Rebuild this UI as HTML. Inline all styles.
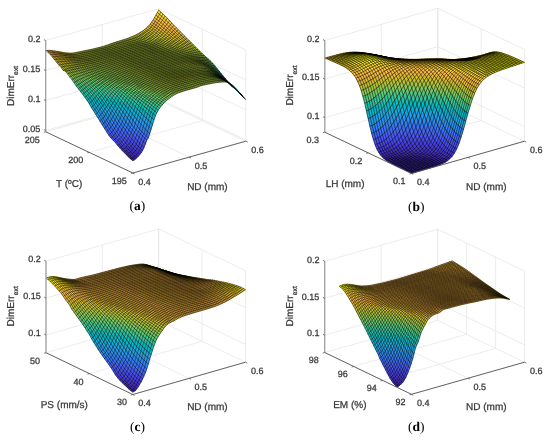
<!DOCTYPE html>
<html><head><meta charset="utf-8"><style>
html,body{margin:0;padding:0;background:#fff;width:550px;height:441px;overflow:hidden}
svg{display:block}
text{font-family:"Liberation Sans",Arial,sans-serif;text-rendering:geometricPrecision}
.cap{font-family:"Liberation Serif","Times New Roman",serif;fill:#000}
</style></head><body>
<svg xmlns="http://www.w3.org/2000/svg" width="550" height="441" viewBox="0 0 550 441">
<defs><filter id="bl" x="0" y="0" width="1" height="1"><feGaussianBlur stdDeviation="0.3"/></filter></defs>
<g filter="url(#bl)">
<g fill="none"><path d="M132.8 173L45.7 131.8" stroke="#e4e4e4" stroke-width="0.7"/>
<path d="M45.7 131.8L45.7 40.5" stroke="#e4e4e4" stroke-width="0.7"/>
<path d="M189.3 157.1L102.2 115.9" stroke="#e4e4e4" stroke-width="0.7"/>
<path d="M102.2 115.9L102.2 24.6" stroke="#e4e4e4" stroke-width="0.7"/>
<path d="M245.8 141.2L158.7 100" stroke="#e4e4e4" stroke-width="0.7"/>
<path d="M158.7 100L158.7 8.7" stroke="#e4e4e4" stroke-width="0.7"/>
<path d="M132.8 173L245.8 141.2" stroke="#e4e4e4" stroke-width="0.7"/>
<path d="M245.8 141.2L245.8 49.9" stroke="#e4e4e4" stroke-width="0.7"/>
<path d="M89.3 152.4L202.2 120.6" stroke="#e4e4e4" stroke-width="0.7"/>
<path d="M202.2 120.6L202.2 29.3" stroke="#e4e4e4" stroke-width="0.7"/>
<path d="M45.7 131.8L158.7 100" stroke="#e4e4e4" stroke-width="0.7"/>
<path d="M158.7 100L158.7 8.7" stroke="#e4e4e4" stroke-width="0.7"/>
<path d="M45.7 130.5L158.7 98.7" stroke="#e4e4e4" stroke-width="0.7"/>
<path d="M158.7 98.7L245.8 139.9" stroke="#e4e4e4" stroke-width="0.7"/>
<path d="M45.7 100.5L158.7 68.7" stroke="#e4e4e4" stroke-width="0.7"/>
<path d="M158.7 68.7L245.8 109.9" stroke="#e4e4e4" stroke-width="0.7"/>
<path d="M45.7 70.5L158.7 38.7" stroke="#e4e4e4" stroke-width="0.7"/>
<path d="M158.7 38.7L245.8 79.9" stroke="#e4e4e4" stroke-width="0.7"/>
<path d="M45.7 40.5L158.7 8.7" stroke="#e4e4e4" stroke-width="0.7"/>
<path d="M158.7 8.7L245.8 49.9" stroke="#e4e4e4" stroke-width="0.7"/></g>
<g stroke="#000" stroke-width="0.5" stroke-opacity="1" stroke-linejoin="round"><path fill="#64cd70" d="M230.3 83.6l1.4 1.1-2.2-1.6-1.4-1z"/><path fill="#57cc7a" d="M231.7 84.7l1.4 1.1-2.2-1.6-1.4-1.1z"/><path fill="#64cd70" d="M229.5 83.1l1.4 1.1-2.2-1.4-1.4-1.1z"/><path fill="#4acb84" d="M233.1 85.8l1.4 1.3-2.2-1.7-1.4-1.2z"/><path fill="#4acb84" d="M230.9 84.2l1.4 1.2-2.2-1.5-1.4-1.1z"/><path fill="#40ca8e" d="M234.5 87.1l1.4 1.4-2.2-1.7-1.4-1.4z"/><path fill="#40ca8e" d="M232.3 85.4l1.4 1.4-2.1-1.6-1.5-1.3z"/><path fill="#40ca8e" d="M230.1 83.9l1.5 1.3-2.2-1.6-1.4-1.2z"/><path fill="#31c69f" d="M235.9 88.5l1.4 1.5-2.2-1.8-1.4-1.4z"/><path fill="#38c897" d="M233.7 86.8l1.4 1.4-2.1-1.7-1.4-1.3z"/><path fill="#38c897" d="M231.6 85.2l1.4 1.3-2.2-1.7-1.4-1.2z"/><path fill="#23c1ae" d="M237.3 90l1.4 1.6-2.1-1.8-1.5-1.6z"/><path fill="#2bc4a7" d="M235.1 88.2l1.5 1.6-2.2-1.9-1.4-1.4z"/><path fill="#31c69f" d="M233 86.5l1.4 1.4-2.2-1.7-1.4-1.4z"/><path fill="#18bfb6" d="M238.7 91.6l1.5 1.6-2.2-1.9-1.4-1.5z"/><path fill="#23c1ae" d="M236.6 89.8l1.4 1.5-2.2-1.9-1.4-1.5z"/><path fill="#23c1ae" d="M234.4 87.9l1.4 1.5-2.2-1.9-1.4-1.3z"/><path fill="#2bc4a7" d="M232.2 86.2l1.4 1.3-2.2-1.8-1.4-1.3z"/><path fill="#05bac3" d="M240.2 93.2l1.4 1.7-2.2-2-1.4-1.6z"/><path fill="#0ebdbc" d="M238 91.3l1.4 1.6-2.2-2-1.4-1.5z"/><path fill="#18bfb6" d="M235.8 89.4l1.4 1.5-2.2-2-1.4-1.4z"/><path fill="#18bfb6" d="M233.6 87.5l1.4 1.4-2.1-1.9-1.5-1.3z"/><path fill="#23c1ae" d="M231.4 85.7l1.5 1.3-2.2-2-1.4-1.2z"/><path fill="#03b8ca" d="M241.6 94.9l1.4 1.6-2.2-2-1.4-1.6z"/><path fill="#03b8ca" d="M239.4 92.9l1.4 1.6-2.2-2.1-1.4-1.5z"/><path fill="#05bac3" d="M237.2 90.9l1.4 1.5-2.2-2.1-1.4-1.4z"/><path fill="#18bfb6" d="M232.9 87l1.4 1.3-2.2-2.1-1.4-1.2z"/><path fill="#10b1d6" d="M243 96.5l1.4 1.6-2.2-2-1.4-1.6z"/><path fill="#09b5d0" d="M240.8 94.5l1.4 1.6-2.2-2.2-1.4-1.5z"/><path fill="#03b8ca" d="M238.6 92.4l1.4 1.5-2.1-2.2-1.5-1.4z"/><path fill="#03b8ca" d="M236.4 90.3l1.5 1.4-2.2-2.1-1.4-1.3z"/><path fill="#1ca9df" d="M244.4 98.1l1.4 1.6-2.2-2.2-1.4-1.4z"/><path fill="#17addb" d="M242.2 96.1l1.4 1.4-2.2-2.2-1.4-1.4z"/><path fill="#10b1d6" d="M240 93.9l1.4 1.4-2.1-2.2-1.4-1.4z"/></g>
<g stroke-width="0.5" stroke-linejoin="round"><path fill="#3e26a8" stroke="#3e26a8" d="M137 157.7l-2.1-1.7-1.5 1.2-2.1-2.1-2.9 1.8 4.4 3.8 1.4-.7z"/>
<path fill="#402ab4" stroke="#402ab4" d="M137 157.7l1.5-1.6-2.2-1.7-1.4 1.6-2.2-2.1-1.4 1.2 2.1 2.1 1.5-1.2zM129.1 152.9l-2.8 1.7 2.1 2.3 2.9-1.8z"/>
<path fill="#412fbf" stroke="#412fbf" d="M129.1 152.9l2.2 2.2 1.4-1.2 2.2 2.1 1.4-1.6 2.2 1.7 1.4-1.6-2.2-1.7-1.4 1.6-4.4-4.1zM129.1 152.9l-2.2-2.2-2.8 1.7 2.2 2.2z"/>
<path fill="#4333ca" stroke="#4333ca" d="M133.3 148.6l-1.4 1.7-2.2-2.3-2.8 2.7-2.2-2.4-2.8 1.9 2.2 2.2 2.8-1.7 2.2 2.2 2.8-2.6 4.4 4.1 1.4-1.6 2.2 1.7 1.4-2-2.2-1.7-1.4 2z"/>
<path fill="#4537d5" stroke="#4537d5" d="M135.5 150.8l2.2 2 1.4-2-4.4-4.3-1.4 2.1-2.1-2.4-1.5 1.8 2.2 2.3 1.4-1.7zM140.5 148.5l-1.4 2.3 2.2 1.7 1.4-2.2zM127.6 145.5l-2.9 2.8 2.2 2.4 2.8-2.7zM122.6 145.9l-2.9 1.9 2.2 2.4 2.8-1.9z"/>
<path fill="#463cdc" stroke="#463cdc" d="M124 144.5l-1.4 1.4 2.1 2.4 1.5-1.3zM121.1 147l1.5-1.1-2.2-2.7-2.8 2.1 2.1 2.5zM133.3 148.6l1.4-2.1-2.1-2.4-1.4 2.1-2.2-2.6-1.4 1.9 2.1 2.5 1.5-1.8zM139.1 150.8l1.4-2.3-2.2-2-1.4 2.2z"/>
<path fill="#4642e3" stroke="#4642e3" d="M139.7 143.2l-1.4 3.3-2.1-2.5-1.5 2.5 2.2 2.2 1.4-2.2 4.4 3.8 1.4-2.9zM131.2 146.2l1.4-2.1-2.2-2.8-1.4 2.3-2.2-2.9-2.8 3.8-2.2-2.8-1.4 1.5 2.2 2.7 1.4-1.4 2.2 2.5 2.8-3.4zM117.6 145.3l1.4-.9-2.2-2.8-1.4 1z"/>
<path fill="#4747ea" stroke="#4747ea" d="M138.3 146.5l1.4-3.3-2.1-2.3-1.4 3.1-2.2-2.7-1.4 2.8 2.1 2.4 1.5-2.5zM121.8 141.7l2.2 2.8 1.4-1.7-2.2-2.9zM121.8 141.7l-2.2-2.7-2.8 2.6 2.2 2.8z"/>
<path fill="#474df0" stroke="#474df0" d="M118.2 140.4l-2.2-2.2-2.8 2.2 2.2 2.2zM141.9 145.4l2.2 2 1.4-3.6-2.2-2zM134 141.3l2.2 2.7 1.4-3.1-2.2-2.5zM134 141.3l-2.2-2.5-1.4 2.5 2.2 2.8zM121 137.5l-1.4 1.5 2.2 2.7 1.4-1.8zM130.4 141.3l-2.2-2.7-1.4 2.1 2.2 2.9zM126.8 140.7l-2.2-2.6-1.4 1.8 2.2 2.9z"/>
<path fill="#4752f3" stroke="#4752f3" d="M117.4 136.8l-1.4 1.4-2.2-2.7-2.8 2.6 2.2 2.3 2.8-2.2 2.2 2.2 1.4-1.4zM123.2 139.9l1.4-1.8-2.2-2.5-1.4 1.9zM129.6 136.1l-1.4 2.5-2.2-2.6-1.4 2.1 2.2 2.6 1.4-2.1 2.2 2.7 1.4-2.5zM141.2 139.6l-1.5 3.6 2.2 2.2 1.4-3.6z"/>
<path fill="#4658f6" stroke="#4658f6" d="M110.3 133.9l-1.5 1.3 2.2 2.9 2.8-2.6-2.1-3.1zM113.8 135.5l2.2 2.7 1.4-1.4-2.1-3.1zM139 137.3l-1.4 3.6 2.1 2.3 1.5-3.6zM131.8 138.8l2.2 2.5 1.4-2.9-2.2-2.7zM143.3 141.8l2.2 2 1.4-3.9-2.2-2zM117.4 136.8l2.2 2.2 1.4-1.5-2.1-2.7z"/>
<path fill="#465efa" stroke="#465efa" d="M110.3 133.9l-2.2-3.3-1.4 1.3 2.1 3.3zM115.3 133.7l-2.2-3.2-1.4 1.9 2.1 3.1zM115.3 133.7l2.1 3.1 1.5-2-2.2-3.1zM141.2 139.6l2.1 2.2 1.4-3.9-2.1-2zM135.4 138.4l2.2 2.5 1.4-3.6-2.2-2.6zM127.4 133.1l-1.4 2.9 2.2 2.6 1.4-2.5 2.2 2.7 1.4-3.1-2.2-2.9-1.4 3.3zM123.9 133l-1.5 2.6-2.1-3.1-1.4 2.3 2.1 2.7 1.4-1.9 2.2 2.5 1.4-2.1z"/>
<path fill="#4563fd" stroke="#4563fd" d="M115.3 133.7l1.4-2 2.2 3.1 1.4-2.3-2.2-3.3-1.4 2.5-2.2-3.4-1.4 2.2zM123.9 133l2.1 3 1.4-2.9 2.2 3 1.4-3.3-2.1-3-1.5 3.3-2.1-3.1zM123.9 133l-2.2-3.2-1.4 2.7 2.1 3.1zM135.4 138.4l1.4-3.7-2.2-2.7-1.4 3.7zM111.7 132.4l-2.2-3.4-1.4 1.6 2.2 3.3zM142.6 135.9l-2.2-2.1-1.4 3.5 2.2 2.3z"/>
<path fill="#4169fd" stroke="#4169fd" d="M119.5 126.6l-1.4 2.6 2.2 3.3 1.4-2.7zM110.9 127.1l-1.4 1.9 2.2 3.4 1.4-1.9zM133.2 135.7l1.4-3.7-2.2-2.4-1.4 3.2zM144.7 137.9l2.2 2 1.4-2-2.1-2zM108.1 130.6l-2.2-3.5-1.4 1.4 2.2 3.4zM140.4 133.8l-2.2-2-1.4 2.9 2.2 2.6z"/>
<path fill="#3d6ffe" stroke="#3d6ffe" d="M128.9 129.8l-2.2-2.6-1.4 2.8-2.2-3.1-1.4 2.9 2.2 3.2 1.4-3 2.1 3.1zM118.1 129.2l-2.2-3.2-1.4 2.3-2.2-3.2-1.4 2 2.2 3.4 1.4-2.2 2.2 3.4zM107.3 125.5l-1.4 1.6 2.2 3.5 1.4-1.6zM144 133.9l-1.4 2 2.1 2 1.5-2z"/>
<path fill="#3875fe" stroke="#3875fe" d="M141.8 131.8l-1.4 2 2.2 2.1 1.4-2 4.3 4 1.5-4.2-4.4-4.5-1.4 4.7zM134.6 132l2.2 2.7 1.4-2.9-2.2-2.1zM102.3 125l2.2 3.5 1.4-1.4-2.2-3.6zM123.1 126.9l-2.2-2.4-1.4 2.1-2.2-2.8-1.4 2.2 2.2 3.2 1.4-2.6 2.2 3.2zM109.5 129l1.4-1.9-2.2-3.5-1.4 1.9zM128.9 129.8l2.1 3 1.4-3.2-2.1-2.2z"/>
<path fill="#337cfc" stroke="#337cfc" d="M108.7 123.6l2.2 3.5 1.4-2-2.2-3.7zM136 129.7l-2.1-2.1-1.5 2 2.2 2.4zM125.3 130l1.4-2.8-2.2-2.3-1.4 2zM115.9 126l-2.2-3.3-1.4 2.4 2.2 3.2zM107.3 125.5l-2.2-3.7-1.4 1.7 2.2 3.6zM126.7 127.2l2.2 2.6 1.4-2.4-2.2-2.3zM141.8 131.8l-2.2-2.4-1.4 2.4 2.2 2zM141.8 131.8l2.2 2.1 1.4-4.7-2.2-2.5z"/>
<path fill="#3081fa" stroke="#3081fa" d="M132.4 129.6l1.5-2-2.2-3.2-1.4 3zM141.8 131.8l1.4-5.1-2.2-2.5-1.4 5.2-2.1-3.1-1.5 3.4 2.2 2.1 1.4-2.4zM112.3 125.1l1.4-2.4-2.1-3.6-1.5 2.3zM113.7 122.7l2.2 3.3 1.4-2.2-2.2-3.6zM101.6 119.9l-1.5 1.5 2.2 3.6 1.4-1.5zM108.7 123.6l-2.1-3.7-1.5 1.9 2.2 3.7zM117.3 123.8l2.2 2.8 1.4-2.1 2.2 2.4 1.4-2-2.2-3.4-1.4 3-2.2-3.5z"/>
<path fill="#2e87f7" stroke="#2e87f7" d="M103 118.2l-1.4 1.7 2.1 3.6 1.4-1.7zM125.9 121.5l-1.4 3.4 2.2 2.3 1.4-2.1 2.2 2.3 1.4-3 2.2 3.2 2.1 2.1 1.5-3.4-4.4-6.1-1.4 4.2-2.2-3.4-1.4 4.1zM138.9 121.7l-1.4 4.6 2.1 3.1 1.4-5.2zM149.8 133.7l1.4-4.8-2.2-2.1-1.4 4.8zM106.6 119.9l2.1 3.7 1.4-2.2-2.1-3.6z"/>
<path fill="#2d8cf3" stroke="#2d8cf3" d="M104.4 116.3l-1.4 1.9 2.1 3.6 1.5-1.9zM115.1 120.2l-2.1-3.6-1.4 2.5 2.1 3.6zM115.1 120.2l2.2 3.6 1.4-2.8-2.1-3.6zM101.6 119.9l-2.2-3.6-1.4 1.6 2.1 3.5zM129.5 121l-2.2-3.1-1.4 3.6-2.2-3.4-1.4 3.4-2.2-3.6-1.4 3.1 2.2 3.5 1.4-3 2.2 3.4 1.4-3.4 2.2 3.6zM146.8 124.6l-1.4 4.6 2.2 2.4 1.4-4.8z"/>
<path fill="#2b91ef" stroke="#2b91ef" d="M143.2 126.7l2.2 2.5 1.4-4.6-2.2-2.3zM137.5 126.3l1.4-4.6-2.2-2.6-1.4 4zM133.1 120.2l-2.2-2.8-1.4 3.6 2.2 3.4zM110.1 121.4l1.5-2.3-2.2-3.6-1.4 2.3-2.2-3.6-1.4 2.1 2.2 3.6 1.4-2.1zM100.8 114.6l-1.4 1.7 2.2 3.6 1.4-1.7z"/>
<path fill="#2896eb" stroke="#2896eb" d="M149 126.8l2.2 2.1 1.4-4.6-2.2-2zM116.6 117.4l2.1 3.6 1.4-3.1 2.2 3.6 1.4-3.4 2.2 3.4 1.4-3.6-2.1-3-1.5 3.2-2.1-3.1-1.5 2.9-2.1-3.2zM116.6 117.4l-2.2-3.3-1.4 2.5-2.2-3.4-1.4 2.3 2.2 3.6 1.4-2.5 2.1 3.6zM97.2 112.9l-1.4 1.5 2.2 3.5 1.4-1.6zM103 118.2l1.4-1.9-2.2-3.6-1.4 1.9zM144.6 122.3l-2.1-2.3-1.5 4.2 2.2 2.5z"/>
<path fill="#259be8" stroke="#259be8" d="M136.7 119.1l-2.2-2.7-1.4 3.8 2.2 2.9zM149 126.8l1.4-4.5-2.2-2.1-1.4 4.4zM103.6 110.8l-1.4 1.9 2.2 3.6 1.4-2.1 2.2 3.6 1.4-2.3-2.2-3.4-1.4 2.1zM100.8 114.6l-2.2-3.4-1.4 1.7 2.2 3.4zM140.3 117.6l-1.4 4.1 2.1 2.5 1.5-4.2zM128.7 114.5l-1.4 3.4 2.2 3.1 1.4-3.6z"/>
<path fill="#23a0e5" stroke="#23a0e5" d="M125.2 114.9l-2.2-2.9-1.4 3 2.1 3.1zM121.6 115l-2.2-3.1-1.4 2.8 2.1 3.2zM97.2 112.9l-2.2-3.4-1.4 1.5 2.2 3.4zM134.5 116.4l-2.2-2.6-1.4 3.6 2.2 2.8zM140.3 117.6l-2.2-2.4-1.4 3.9 2.2 2.6zM112.2 110.8l-1.4 2.4-2.2-3.3-1.4 2.2 2.2 3.4 1.4-2.3 2.2 3.4 1.4-2.5 2.2 3.3 1.4-2.7-2.2-3.2-1.4 2.6zM144.6 122.3l2.2 2.3 1.4-4.4-2.2-2.1zM98.6 111.2l2.2 3.4 1.4-1.9-2.2-3.3z"/>
<path fill="#20a5e2" stroke="#20a5e2" d="M102.2 112.7l1.4-1.9-2.2-3.2-1.4 1.8zM128.7 114.5l-2.1-2.7-1.4 3.1 2.1 3zM144.6 122.3l1.4-4.2-2.1-2.2-1.4 4.1zM95 109.5l2.2 3.4 1.4-1.7-2.2-3.4zM107.2 112.1l-2.2-3.3-1.4 2 2.2 3.4z"/>
<path fill="#1ca9df" stroke="#1ca9df" d="M110 107.7l-1.4 2.2 2.2 3.3 1.4-2.4 2.2 3.3 1.4-2.6-2.2-3-1.4 2.3zM93.6 111l1.4-1.5-2.2-3.4-1.4 1.5zM151.8 117.9l-1.4 4.4 2.2 2 1.4-4.5zM130.9 117.4l1.4-3.6-2.1-2.6-1.5 3.3zM98.6 111.2l1.4-1.8-2.2-3.3-1.4 1.7zM135.9 112.8l-1.4 3.6 2.2 2.7 1.4-3.9zM108.6 109.9l-2.2-3.1-1.4 2 2.2 3.3zM115.8 111.5l2.2 3.2 1.4-2.8-2.2-3zM121.6 115l1.4-3-2.2-2.9-1.4 2.8zM123 112l2.2 2.9 1.4-3.1-2.2-2.8zM141.7 113.6l-1.4 4 2.2 2.4 1.4-4.1z"/>
<path fill="#17addb" stroke="#17addb" d="M101.4 107.6l-2.1-3.2-1.5 1.7 2.2 3.3zM101.4 107.6l2.2 3.2 1.4-2-2.2-3.1zM117.2 108.9l-2.2-2.8-1.4 2.4 2.2 3zM139.5 111.4l-1.4 3.8 2.2 2.4 1.4-4zM148.2 120.2l2.2 2.1 1.4-4.4-2.2-2zM113.6 108.5l-2.2-3-1.4 2.2 2.2 3.1zM92.8 106.1l2.2 3.4 1.4-1.7-2.1-3.2zM126.6 111.8l2.1 2.7 1.5-3.3-2.2-2.6zM132.3 113.8l2.2 2.6 1.4-3.6-2.2-2.5z"/>
<path fill="#10b1d6" stroke="#10b1d6" d="M94.3 104.6l2.1 3.2 1.4-1.7-2.1-3.3zM110 107.7l-2.2-3-1.4 2.1 2.2 3.1zM132.3 113.8l1.4-3.5-2.1-2.4-1.4 3.3zM120.8 109.1l-2.2-2.7-1.4 2.5 2.2 3zM120.8 109.1l2.2 2.9 1.4-3-2.2-2.6zM106.4 106.8l-2.1-3-1.5 1.9 2.2 3.1zM91.4 107.6l1.4-1.5-2.1-3.9-1.4 1.5zM149.6 115.9l-4.3-4.2-1.4 4.2 4.3 4.3z"/>
<path fill="#09b5d0" stroke="#09b5d0" d="M239.3 93.1l-2.2-2.2-1.4-1.3 2.2 2.1zM126.6 111.8l1.4-3.2-2.2-2.5-1.4 2.9zM154 119.8l1.4-4-2.2-1.8-1.4 3.9zM139.5 111.4l-2.2-2.3-1.4 3.7 2.2 2.4zM90.7 102.2l2.1 3.9 1.5-1.5-2.2-4zM104.3 103.8l2.1 3 1.4-2.1-2.1-3zM111.4 105.5l-2.1-2.9-1.5 2.1 2.2 3zM111.4 105.5l2.2 3 1.4-2.4-2.1-2.9zM102.8 105.7l-2.1-3.1-1.4 1.8 2.1 3.2zM97.8 106.1l1.5-1.7-2.2-3.5-1.4 1.9zM143.9 115.9l1.4-4.2-2.2-2-1.4 3.9zM118.6 106.4l-2.2-2.8-1.4 2.5 2.2 2.8z"/>
<path fill="#03b8ca" stroke="#03b8ca" d="M130.2 111.2l1.4-3.3-2.2-2.6-1.4 3.3zM118.6 106.4l2.2 2.7 1.4-2.7 2.2 2.6 1.4-2.9-2.2-2.8-1.4 3.1-2.2-2.8zM133.7 110.3l2.2 2.5 1.4-3.7-2.1-2.4zM100.7 102.6l2.1 3.1 1.5-1.9-2.2-3.3zM100.7 102.6l-2.2-3.6-1.4 1.9 2.2 3.5zM92.1 100.6l2.2 4 1.4-1.8-2.2-3.9zM153.2 114l-2.2-1.9-1.4 3.8 2.2 2zM140.9 107.7l-1.4 3.7 2.2 2.2 1.4-3.9zM90.7 102.2l-2.2-3.2-1.4 1.4 2.2 3.3zM233.5 87.5l2.2 2.1 1.4 1.3-2.2-2.2z"/>
<path fill="#05bac3" stroke="#05bac3" d="M149.6 115.9l1.4-3.8-2.1-1.9-1.4 3.6zM125.8 106.1l2.2 2.5 1.4-3.3-2.2-2.5zM102.1 100.5l2.2 3.3 1.4-2.1-2.2-3.4zM102.1 100.5l-2.2-3.2-1.4 1.7 2.2 3.6zM231.3 85.4l3.6 3.3-2.2-2.2zM120 103.6l-2.1-2.9-1.5 2.9-2.1-3-1.4 2.6 2.1 2.9 1.4-2.5 2.2 2.8zM120 103.6l2.2 2.8 1.4-3.1-2.2-2.6zM133 104.4l-1.4 3.5 2.1 2.4 1.5-3.6zM234.3 88.3l1.4 1.3-2.2-2.1-1.4-1.3zM140.9 107.7l-2.2-2-1.4 3.4 2.2 2.3zM112.9 103.2l-2.2-3.1-1.4 2.5 2.1 2.9zM93.5 98.9l2.2 3.9 1.4-1.9-2.2-3.3zM88.5 99l2.2 3.2 1.4-1.6-2.2-3.1zM109.3 102.6l-2.2-3.2-1.4 2.3 2.1 3z"/>
<path fill="#0ebdbc" stroke="#0ebdbc" d="M156.8 112.7l-2.2-1.8-1.4 3.1 2.2 1.8zM229.9 84.2l2.2 2 1.4 1.3-2.2-2.1zM104.9 96.6l-1.4 1.7 2.2 3.4 1.4-2.3 2.2 3.2 1.4-2.5 2.2 3.1 1.4-2.6 2.1 3 1.5-2.9-2.2-2.5-1.4 2.4-2.2-2.7-1.4 2.2-2.2-2.8-1.4 2.1zM92.1 100.6l1.4-1.7-2.2-2.8-1.4 1.4zM86.3 95.9l-1.4 1.3 2.2 3.2 1.4-1.4zM231.3 85.4l1.4 1.1-2.1-2.2-1.5-1.1zM145.3 111.7l2.2 2.1 1.4-3.6-2.2-1.9zM96.3 96l-1.4 1.6 2.2 3.3 1.4-1.9zM131.6 107.9l1.4-3.5-2.2-2.1-1.4 3zM125 100.6l-1.4 2.7 2.2 2.8 1.4-3.3z"/>
<path fill="#18bfb6" stroke="#18bfb6" d="M143.1 109.7l2.2 2 1.4-3.4-4.4-3.6-1.4 3zM135.2 106.7l2.1 2.4 1.4-3.4-2.1-2.1zM92.7 94.6l-1.4 1.5 2.2 2.8 1.4-1.3zM87.7 94.6l-1.4 1.3 2.2 3.1 1.4-1.5zM130.8 102.3l-2.2-2.2-1.4 2.7 2.2 2.5zM99.9 97.3l2.2 3.2 1.4-2.2-2.2-2.7zM227 81l2.1 2.2-1.4-1.1 3.6 3.3-2.2-2.2 1.5 1.1-4.4-4.7-1.4-.9zM228.5 83l2.2 2 1.4 1.2-2.2-2zM119.3 98.3l-1.4 2.4 2.1 2.9 1.4-2.9zM152.5 109.1l-1.5 3 2.2 1.9 1.4-3.1z"/>
<path fill="#23c1ae" stroke="#23c1ae" d="M115.7 98.2l2.2 2.5 1.4-2.4-2.2-2.3zM115.7 98.2l-2.2-2.5-1.4 2.2 2.2 2.7zM106.3 94.7l-1.4 1.9-2.2-2.7-1.4 1.7 2.2 2.7 1.4-1.7 2.2 2.8 1.4-2.1zM146.7 108.3l4.3 3.8 1.5-3-4.4-3.4zM227.7 82.1l-1.4-1.1 3.6 3.2zM227.7 82.1l1.4 1.1-2.1-2.2-1.4-1zM154.6 110.9l2.2 1.8 1.4-2.5-2.2-1.8zM89.1 93.3l-1.4 1.3 2.2 2.9 1.4-1.4zM96.3 96l2.2 3 1.4-1.7-2.2-2.9zM96.3 96l-2.2-2.7-1.4 1.3 2.2 3zM140.2 102.9l-1.5 2.8 2.2 2 1.4-3zM134.4 101.6l-1.4 2.8 2.2 2.3 1.4-3.1zM112.1 97.9l-2.2-2.6-1.4 2 2.2 2.8zM86.3 95.9l-2.2-2.8-1.4 1.2 2.2 2.9zM121.4 100.7l2.2 2.6 1.4-2.7-2.1-2.4z"/>
<path fill="#2bc4a7" stroke="#2bc4a7" d="M99.1 93l-1.4 1.4-2.2-2.5-1.4 1.4 2.2 2.7 1.4-1.6 2.2 2.9 1.4-1.7zM128.6 100.1l-2.2-1.9-1.4 2.4 2.2 2.2zM134.4 101.6l-2.2-1.8-1.4 2.5 2.2 2.1zM119.3 98.3l2.1 2.4 1.5-2.5-2.2-2zM152.5 109.1l2.1 1.8 1.4-2.5-2.1-1.7zM87.7 94.6l-2.2-2.7-1.4 1.2 2.2 2.8zM107.7 93l-1.4 1.7-2.2-2.3-1.4 1.5 2.2 2.7 1.4-1.9 2.2 2.6 1.4-2zM224.8 78.7l1.4.9-2.2-2.6-1.4-.9zM224.8 78.7l-1.4-1 2.2 2.3 1.4 1zM140.2 102.9l-2.2-1.7-1.4 2.4 2.1 2.1zM90.5 92l-1.4 1.3 2.2 2.8 1.4-1.5zM109.9 95.3l2.2 2.6 1.4-2.2-2.2-2.1zM229.3 83.8l-3-2.8 1.4 1.1-2.1-2.1-1.5-1.1 2.2 2.1-1.4-1zM145.9 104l-1.4 2.5 2.2 1.8 1.4-2.6z"/>
<path fill="#31c69f" stroke="#31c69f" d="M149.5 103.5l-1.4 2.2 4.4 3.4 1.4-2.4zM101.3 95.6l1.4-1.7-2.1-2.3-1.5 1.4-2.1-2.4-1.5 1.3 2.2 2.5 1.4-1.4zM142.3 104.7l2.2 1.8 1.4-2.5-4.3-3.3-1.4 2.2zM130 98l-2.1-1.9-1.5 2.1 4.4 4.1 1.4-2.5zM226.3 81l-2.2-2.1-1.4-1zM83.4 89.3l-2.9 2.3 2.2 2.7 2.8-2.4zM224.1 78.9l1.5 1.1-2.2-2.3 1.4 1-2.2-2.6 1.4.9-2.2-2.6-1.4-.8 2.2 2.5-1.4-.8 2.2 2.4-1.4-1zM136.6 103.6l1.4-2.4-2.2-1.8-1.4 2.2zM85.5 91.9l2.2 2.7 2.8-2.6 2.2 2.6 1.4-1.3-2.1-2.5-1.5 1.2-2.1-2.5zM125 100.6l1.4-2.4-2.1-2-1.4 2zM118.5 94.2l-1.4 1.8-2.2-2-1.4 1.7 2.2 2.5 1.4-2.2 2.2 2.3 1.4-2.1zM157.5 106.4l-1.5 2 2.2 1.8 1.4-2.1z"/>
<path fill="#38c897" stroke="#38c897" d="M220.4 73.6l-1.4-.8 2.2 2.5-1.4-.9 2.2 2.3 1.4 1-2.2-2.4 1.4.8zM220.4 73.6l1.4.8-2.1-2.6-1.4-.7zM111.3 93.6l2.2 2.1 1.4-1.7-2.2-2.1zM111.3 93.6l-2.2-2.1-1.4 1.5-2.1-2.1-1.5 1.5-2.1-2.2-1.4 1.4-2.2-2.3-1.4 1.3 2.1 2.4 1.5-1.4 2.1 2.3 1.4-1.5 2.2 2.3 1.4-1.7 2.2 2.3zM226.4 81.5l1.4 1.1-2.1-1.8-1.4-1.1zM126.4 98.2l1.5-2.1-2.2-1.7-1.4 1.8-4.4-3.7-1.4 1.7 4.4 4 1.4-2zM225.7 80.8l1.4 1.1-4.4-4 1.4 1-2.1-2.2-1.4-.9 2.1 2.1-1.4-1zM117.1 96l1.4-1.8-2.2-2-1.4 1.8zM156 108.4l1.5-2-4.4-3.3-1.4 2zM79.8 87.7l-1.4 1.1 2.1 2.8 1.5-1.2zM97 90.6l-2.2-2.3-2.8 2.5-2.2-2.4-1.4 1.1 2.1 2.5 1.5-1.2 2.1 2.5zM140.2 102.9l1.4-2.2-4.4-3.2-1.4 1.9zM135.8 99.4l-4.4-3.4-1.4 2 4.4 3.6zM143.7 102.3l4.4 3.4 1.4-2.2-4.3-3.1zM87 90.7l-2.2-2.5-1.4 1.1 2.1 2.6z"/>
<path fill="#40ca8e" stroke="#40ca8e" d="M89.8 88.4l-2.2-2.3-2.8 2.1-2.2-2.5-2.8 2-2.2-2.7-1.4 1 2.2 2.8 1.4-1.1 2.2 2.7 2.8-2.2 2.2 2.5zM89.8 88.4l2.2 2.4 2.8-2.5 2.2 2.3 1.4-1.3 2.2 2.3 1.4-1.4-2.2-2.1-1.4 1.2-2.2-2.1-1.4 1.1-2.2-2.1zM217.5 69.1l-1.4-.6 2.2 2.6-1.5-.7 2.2 2.4-1.4-.8 2.2 2.4 1.4.9-2.2-2.5 1.4.8-2.1-2.5 1.4.7zM104.1 92.4l1.5-1.5 2.1 2.1 1.4-1.5 2.2 2.1 1.4-1.7 2.2 2.1 1.4-1.8-2.2-1.8-1.4 1.5-2.1-1.9-1.5 1.5-2.1-2-1.4 1.4-2.2-2.1-1.4 1.4zM117.7 90.7l-1.4 1.5 2.2 2 1.4-1.7zM222.7 77.9l-2.1-2.1 1.4.9-2.2-2.3-1.4-.9 2.2 2.3-1.5-1 2.2 2.1zM129.3 94.4l-1.4 1.7 2.1 1.9 1.4-2zM122.1 94.3l2.2 1.9 1.4-1.8-2.2-1.7zM225.7 80.8l-3.6-2.9 2.2 1.8-1.5-.9zM158.9 104.6l-2.2-1.6-1.4 1.7 4.3 3.4 1.4-1.8zM137.2 97.5l-2.2-1.6-1.4 1.8 2.2 1.7zM145.2 100.4l-4.4-3.1-1.4 1.8 4.3 3.2zM147.3 101.9l4.4 3.2 1.4-2-4.3-3z"/>
<path fill="#4acb84" stroke="#4acb84" d="M156.7 103l4.3 3.3 1.5-1.6-4.4-3.1zM156.7 103l-4.4-2.9-1.4 1.5 4.4 3.1zM222.1 77.9l1.4 1-4.4-4.1 1.5 1-2.2-2.3 1.4.9-2.2-2.4-1.4-.8 2.2 2.3-1.4-.8 2.1 2.1-1.4-.8zM222.1 77.9l-1.4-.9 3.6 2.7zM107 89.5l2.1 2 1.5-1.5 2.1 1.9 1.4-1.5 2.2 1.8 1.4-1.5-2.1-1.7-1.5 1.4-2.1-1.8-1.4 1.4-4.4-3.7-1.4 1.2-2.2-1.8-2.8 2.4 2.2 2.1 1.4-1.4 2.2 2.1zM135 95.9l4.4 3.2 1.4-1.8-4.3-3zM135 95.9l-4.3-3.1-1.4 1.6 4.3 3.3zM125.7 94.4l2.2 1.7 1.4-1.7-4.4-3.3-1.4 1.6-4.4-3.4-1.4 1.4 4.4 3.6 1.4-1.6zM217.6 72l1.4.8-2.2-2.4 1.5.7-2.2-2.6-1.4-.6 2.1 2.5-1.4-.7zM84 84.7l-1.4 1 2.2 2.5 2.8-2.1 2.2 2.3 1.4-1.1-2.2-2.2-1.4 1-2.2-2.3zM146.6 98.6l-2.2-1.4-1.4 1.6 4.3 3.1 1.5-1.8zM79 84.1l-1.4.9 2.2 2.7 1.4-1zM97.6 86l-1.4 1.2 2.2 2.1 1.4-1.2zM94.8 88.3l1.4-1.1-2.2-2.1-1.4 1.1z"/>
<path fill="#57cc7a" stroke="#57cc7a" d="M74 82.7l2.2 3.3 2.8-1.9 2.2 2.6 2.8-2-2.2-2.5-2.8 1.9-2.2-3.1zM120.6 88.2l-1.5 1.1 4.4 3.4 1.4-1.6zM100.4 84l-1.4 1-2.2-1.8-2.8 1.9-2.2-1.9-1.4.9-2.2-2.2-2.8 1.9 2.2 2.3 1.4-1 2.2 2.2 2.8-2.2 2.2 2.1 1.4-1.2 2.2 2.1 2.8-2.4 2.2 1.8 1.4-1.2 4.4 3.7 1.4-1.4 2.1 1.8 1.5-1.4-4.4-3.2-1.4 1.1-2.2-1.6-1.4 1-2.2-1.6-1.4 1zM158.1 101.6l-6.5-4.2-1.4 1.3-4.4-2.7-1.4 1.2 6.5 4.4 1.4-1.5 4.4 2.9zM158.1 101.6l4.4 3.1 1.4-1.6-4.4-3zM119.1 89.3l-2.1-1.5-1.4 1.2 2.1 1.7zM143 98.8l1.4-1.6-6.5-4.1-1.4 1.2zM225 80.4l-4.3-3.4-1.4-.9zM215.4 69.7l-1.4-.7 2.2 2.2-1.4-.7 2.2 2.2 1.4.8-2.2-2.3 1.4.8zM215.4 69.7l1.4.7-2.1-2.5-1.4-.6zM219.9 76l-2.2-2-1.4-.9 4.4 3.9 1.4.9zM136.5 94.3l-4.4-2.8-1.4 1.3 4.3 3.1zM213.9 65.9l-1.4-.5 2.2 2.5 2.8 1.2-2.2-2.8zM124.9 91.1l4.4 3.3 1.4-1.6-4.4-2.9zM219.1 74.8l-2.1-2.1-1.4-.9 2.1 2.2z"/>
<path fill="#64cd70" stroke="#64cd70" d="M124.9 91.1l1.4-1.2 4.4 2.9 1.4-1.3 4.4 2.8 1.4-1.2 6.5 4.1 1.4-1.2 4.4 2.7 1.4-1.3 6.5 4.2 1.4-1.5 4.4 3 1.4-1.5-6.5-4.4-1.5 1.5-6.5-4.2-1.4 1.6-4.4-2.8-1.4 1.3-6.5-4.1-1.4 1.3-4.4-2.8-1.4 1.2-4.3-2.9-1.4 1.2-4.4-3-1.4 1.2-2.2-1.5-1.4 1.1-4.4-3.1-1.4 1.1-2.2-1.7-1.4 1.1-2.1-1.7-1.5 1-2.1-1.8-2.9 2 2.2 1.8 1.4-1 2.2 1.7 1.4-1 2.2 1.6 1.4-1 2.2 1.6 1.4-1.1 4.4 3.2 1.4-1.2 2.1 1.5 1.5-1.1zM217.1 74.3l2.2 1.8 1.4.9-4.4-3.9-1.4-.7zM214 69l1.4.7-2.1-2.4-1.5-.6zM214 69l-1.4-.7 2.2 2.2 1.4.7zM93.3 82.2l-2.2-2.1-2.9 1.8-2.1-2.3-4.3 2.6-2.1-2.8-2.9 1.6 2.2 3.1 2.8-1.9 2.2 2.5 4.2-2.8 2.2 2.2 1.4-.9 2.2 1.9 2.8-1.9-2.1-2zM213.3 67.3l1.4.6-2.2-2.5-1.4-.4zM215.3 66.3l-2.2-2.6-1.4-.3 2.2 2.5zM222.2 78.6l-1.4-.8 3.6 2.2zM222.2 78.6l1.4.8-4.3-3.3-1.5-.7zM214.8 70.5l-1.4-.8 2.2 2.1-1.5-.7 2.2 2 1.4.9-2.1-2.2 1.4.9z"/>
<path fill="#70cd67" stroke="#70cd67" d="M219.4 77.1l5.7 3.4-4.3-2.7zM211.2 67.6l2.2 2.1-1.4-.7 2.1 2.1 1.5.7-2.2-2.1 1.4.8-2.2-2.2zM155.2 97.3l2.1 1.4 1.5-1.5-6.6-4-1.4 1.3zM93.9 78.6l-2.8 1.5-2.2-2-2.8 1.5 2.1 2.3 2.9-1.8 2.2 2.1 1.4-1 2.1 2 2.9-2-2.2-1.7-1.4.8zM109.7 80.8l-1.4.9-2.2-1.5-1.4.9-2.2-1.5-2.8 1.6 2.1 1.8 1.5-1 2.1 1.7 1.4-1.1 2.2 1.7 1.4-1.1 4.4 3.1 1.4-1.1 2.2 1.5 1.4-1.2 4.4 3 1.4-1.2 4.3 2.9 1.4-1.2 4.4 2.8 1.4-1.3 6.5 4.1 1.4-1.3 4.4 2.8 1.4-1.6-6.5-4-1.4 1.4-6.6-4.1-1.4 1.2-4.3-2.7-1.4 1.2-4.4-2.8-1.4 1.1-4.4-2.7-1.4.9-2.2-1.3-1.4.9zM215.7 73.6l-1.4-.6 2.1 1.7 4.4 3.1 1.4.8-4.4-3.2 1.5.7-4.4-3.7-1.4-.6zM81.8 82.2l2.9-1.8-2.2-2.4-2.8 1.4zM230.3 83.6l-2.2-1.5-1.4-.7 2.1 1.4zM214.1 71.1l-1.4-.7 2.2 2 1.4.7zM211.8 66.7l-1.4-.5 2.2 2.1 1.4.7zM211.8 66.7l1.5.6-2.2-2.3 2.8.9-2.2-2.5-2.8-.6 2.2 2.2-1.4-.4zM160.9 98.6l4.4 3 2.8-2.4-2.2-1.6-1.4 1.2-4.3-2.9-1.4 1.3zM71.8 79.6l2.2 3.1 2.8-1.7-2.1-2.9zM209.5 61.2l2.2 2.2 1.4.3-2.1-2.3z"/>
<path fill="#7dcc5d" stroke="#7dcc5d" d="M96.7 77.2l-1.4.7-2.2-1.7-4.2 1.9 2.2 2 2.8-1.5 2.2 1.7 1.4-.8 2.2 1.7 2.8-1.6 2.2 1.5 1.4-.9 2.2 1.5 1.4-.9 4.3 2.8 1.4-.9 2.2 1.3 1.4-.9 4.4 2.7 1.4-1.1 4.4 2.8 1.4-1.2 4.3 2.7 1.4-1.2 6.6 4.1 1.4-1.4 6.5 4 1.4-1.3 6.6 4 1.4-1.3 4.3 2.9 1.4-1.2 2.2 1.6 1.4-1.1-4.3-3-1.4 1-4.4-2.6-1.4 1.1-6.5-3.8-1.5 1.1-6.5-3.7-1.4 1-6.5-3.6-1.4.9-4.4-2.4-1.4.9-6.5-3.6-1.5.8-4.3-2.4-1.4.7-2.2-1.2-1.4.7-4.4-2.6-2.8 1.4-2.2-1.4-1.4.7-2.2-1.5zM228.8 82.8l-2.1-1.4 1.4.7-8.7-5 1.4.7-6.5-4.8-1.5-.5 4.4 3.2-1.4-.6 8.7 5.1-1.4-.6 4.3 2.7zM211 61.4l-2.2-2-2.8-.2 2.1 1.8-1.4-.2 2.2 2-1.4-.3 2.2 2.1-1.4-.4 2.1 2-1.4-.5 2.2 1.9 1.4.7-2.2-2.1 1.4.5-2.1-2.1 1.4.4-2.2-2.2 2.8.6-2.2-2.2zM214.3 73l1.4.6-2.2-1.8-1.4-.6zM87.5 78.8l1.4-.7-2.2-1.9-4.2 1.8 2.2 2.4zM77.5 76.9l-2.8 1.2 2.1 2.9 5.7-3-2.2-2.2zM211.2 67.6l-1.4-.5 2.2 1.9 1.4.7zM210.5 68.4l2.2 2-1.4-.6 2.2 2 1.4.6-2.2-2 1.4.7-2.1-2.1z"/>
<path fill="#89cb55" stroke="#89cb55" d="M153.6 92.1l4.4 2.5 1.4-1.1 4.4 2.6 1.4-1 4.3 3 2.9-2.1-2.2-1.5-1.4 1-4.4-2.6-1.4.9-6.5-3.6-1.5.9-8.7-4.6-1.4.8-6.5-3.4-1.4.8-10.9-5.5-1.4.7-4.4-2.3-1.4.7-4.3-2.4-1.5.7-4.3-2.5-2.8 1.3-2.2-1.4-1.4.7-2.2-1.5-2.8 1.2-2.2-1.5-5.7 2.2-2.1-1.8-7.1 2.5 2.2 2.2 4.2-1.8 2.2 1.9 4.2-1.9 2.2 1.7 2.8-1.3 2.2 1.5 1.4-.7 2.2 1.4 2.8-1.4 4.4 2.6 1.4-.7 2.2 1.2 1.4-.7 4.3 2.4 1.5-.8 6.5 3.6 1.4-.9 4.4 2.4 1.4-.9 6.5 3.6 1.4-1 6.5 3.7 1.5-1.1zM212 69l-2.2-1.9 1.4.5-2.2-1.9 1.4.5-2.1-2 1.4.4-2.2-2.1 1.4.3-2.2-2 1.4.2-2.1-1.8 2.8.2-4.4-3.9-1.4.1 2.2 1.9-1.4 0 2.2 1.7-2.9-.2 2.2 1.7-1.4-.1 2.2 1.7-1.4-.3 2.1 1.8-1.4-.4 2.2 1.8-1.4-.4 2.2 1.7-1.4-.5 2.1 1.9-1.4-.5 2.2 1.9-1.4-.4 2.2 1.8-1.4-.3 4.3 3.3-1.4-.4 6.5 4-1.4-.4 6.5 3.6-2.8-.2 2.2 1.6 2.8.1 1.4.3-4.3-2.7 1.4.6-8.7-5.1 1.4.6-4.4-3.2 1.5.5-2.2-1.8 1.4.6-2.2-2 1.4.6-2.2-2zM71.8 79.6l2.9-1.5 4.2-1.8-2.2-2.3-5.6 2.1-1.4.7z"/>
<path fill="#95ca4c" stroke="#95ca4c" d="M204 63.2l2.2 1.6-1.4-.4 2.2 1.6 1.4.5-2.2-1.7 1.4.4-2.2-1.8 1.4.4-2.1-1.8 1.4.3-2.2-1.7 1.4.1-2.2-1.7 2.9.2-2.2-1.7 1.4 0-2.2-1.9 1.4-.1-2.2-2-2.8.4 2.2 1.8-2.8.2 2.2 1.6-1.5 0 2.2 1.5-1.4 0 2.2 1.4-1.4 0 2.2 1.4-1.5-.1zM152.9 89.9l2.1 1.2 1.5-.9 6.5 3.6 1.4-.9 4.4 2.6 1.4-1 2.2 1.5 4.2-2.4-2.2-1.4-1.4.7-2.2-1.3-1.4.8-6.5-3.5-1.4.8-8.7-4.4-1.5.7-15.2-7.5-1.4.7-10.9-5.5-1.4.7-4.4-2.3-1.4.6-2.2-1.1-1.4.6-4.3-2.5-2.9 1.2-2.1-1.3-2.9 1.1-2.1-1.4-4.3 1.5-2.1-1.5-15.6 4.7 2.2 2.3 8.5-3 2.1 1.8 5.7-2.2 2.2 1.5 2.8-1.2 2.2 1.5 1.4-.7 2.2 1.4 2.8-1.3 4.3 2.5 1.5-.7 4.3 2.4 1.4-.7 4.4 2.3 1.4-.7 10.9 5.5 1.4-.8 6.5 3.4 1.4-.8zM220.4 82.1l2.8-.2-2.2-1.6 2.8.2-6.5-3.6 1.4.4-6.5-4 1.4.4-4.3-3.3 1.4.3-2.2-1.8 1.4.4-2.2-1.9 1.4.5-2.1-1.9-1.5-.4 2.2 1.8-1.4-.3 2.2 1.8-1.4-.3 2.2 1.8-1.5-.3 2.2 1.7-1.4-.2 2.2 1.4-1.4-.2 6.5 3.9-1.4-.2 4.3 2.4-2.8.1 2.2 1.5-2.8.3 2.2 1.6zM73.9 74.9l-2.2-2.4-4.2 1.3 2.2 3z"/>
<path fill="#a1c844" stroke="#a1c844" d="M88 70.6l4.3-1.3 2.1 1.5 4.3-1.5 2.1 1.4 2.9-1.1 2.1 1.3 2.9-1.2 4.3 2.5 1.4-.6 2.2 1.1 1.4-.6 4.4 2.3 1.4-.7 10.9 5.5 1.4-.7 15.2 7.5 1.5-.7 8.7 4.4 1.4-.8 6.5 3.5 1.4-.8 2.2 1.3 1.4-.7 2.2 1.4 7-2.5 11.4-3.2 7-2.5 9.9-2.1 5.7-.9-2.2-1.6 2.8-.3-2.2-1.5 2.8-.1-4.3-2.4 1.4.2-6.5-3.9 1.4.2-2.2-1.4 1.4.2-2.2-1.7 1.5.3-2.2-1.8 1.4.3-2.2-1.8 1.4.3-2.2-1.8 1.5.4-2.2-1.6 1.4.4-4.4-3.1 1.5.1-2.2-1.4 1.4 0-2.2-1.4 1.4 0-2.2-1.5 1.5 0-2.2-1.6 2.8-.2-2.2-1.8 2.8-.4-2.1-2.1-7.1 1.5 2.2 1.6-2.8.4 2.1 1.4-1.4.2 4.4 2.5-1.4.1 4.3 2.5-1.4-.1 4.4 2.6-1.4-.2 2.1 1.5-1.4-.2 2.2 1.6-2.8 0 2.2 1.6-1.5.1 2.2 1.5-1.4 0 2.2 1.4-1.4.1 2.1 1.3-1.4 0 4.4 2.4-1.4.1 2.2 1.2-1.5.2 2.2 1.2-2.8.5 2.2 1.3-4.3.9 2.2 1.4-8.5 2-5.6 1.9-2.2-1.5-15.5 4.8-2.2-1.2-1.4.5-2.2-1.1-1.4.6-13.1-6.4-1.4.6-21.8-10.5-1.4.6-8.7-4.3-1.4.6-4.4-2.3-1.4.6-2.1-1.2-1.5.6-2.1-1.2-1.4.5-2.2-1.1-1.4.5-2.2-1.2-4.2 1.4-2.2-1.3-9.9 2.8-9.9 2.2 2.2 1.9-7.1 1.7 2.2 2.4z"/>
<path fill="#acc63d" stroke="#acc63d" d="M167.1 86.9l2.2 1.1 1.4-.6 2.2 1.1 1.4-.5 2.2 1.2 15.5-4.8 2.2 1.5 5.6-1.9 8.5-2-2.2-1.4 4.3-.9-2.2-1.3 2.8-.5-2.2-1.2 1.5-.2-2.2-1.2 1.4-.1-4.4-2.4 1.4 0-2.1-1.3 1.4-.1-2.2-1.4 1.4 0-2.2-1.5 1.5-.1-2.2-1.6 2.8 0-2.2-1.6 1.4.2-2.1-1.5 1.4.2-4.4-2.6 1.4.1-4.3-2.5 1.4-.1-4.4-2.5 1.4-.2-2.1-1.4 2.8-.4-2.2-1.6 7.1-1.5-4.4-4.3-12.7 4.6-2.2-1.3-1.4.6-2.2-1.2-1.4.5-2.2-1.1-1.4.6-4.3-2.3-1.4.6-10.9-5.1-4.4-2.5-1.4.7-2.2-1.5-2.8 1.3-2.2-1.4-5.6 2-14.1 4-2.2-1.1-4.3 1.3-2.1-1.3-2.9 1.1-2.1-1.3-5.7 2-12.7 3.2 2.2 1.3-4.3.9 2.2 1.3-4.2 1 2.2 1.2-4.3 1 2.2 1.2-2.8.6 2.2 1.3-2.9.5 2.2 1.3-4.2.8 2.1 1.4-5.6 1 2.2 1.7-11.3 2.2 2.1 1.9-5.6 1 2.2 2.7 2.8-1 8.5-2-2.2-1.9 9.9-2.2 9.9-2.8 2.2 1.3 4.2-1.4 2.2 1.2 1.4-.5 2.2 1.1 1.4-.5 2.1 1.2 1.5-.6 2.1 1.2 1.4-.6 4.4 2.3 1.4-.6 8.7 4.3 1.4-.6 21.8 10.5 1.4-.6zM193.1 73.6l2.1 1-1.4.4 2.2 1-1.4.3 2.2 1.1-9.9 2.8-2.2-1.1-5.6 1.7-2.2-1.1-1.4.4-4.4-2 1.4-.4-2.1-1 5.6-1.6 2.2 1 9.9-2.7 2.1.9zM189.8 61.3l1.4-.3 6.5 3.1-2.8.6-4.2 1.3-8.8-4.1 5.7-1.5z"/>
<path fill="#b6c436" stroke="#b6c436" d="M192.1 65.5l5.6-1.4-6.5-3.1-1.4.3-2.2-.9-5.7 1.5 8.8 4.1zM179.1 80.8l5.6-1.7 2.2 1.1 9.9-2.8-2.2-1.1 1.4-.3-2.2-1 1.4-.4-2.1-1-2.9.7-2.1-.9-9.9 2.7-2.2-1-5.6 1.6 2.1 1-1.4.4 4.4 2 1.4-.4zM78.2 52.1l-4.2.8 2.1 1.4-1.4.2 2.2 1.4-1.4.1 2.2 1.4-2.9.2 2.2 1.4-1.4.1 2.2 1.5-4.3.3 2.2 1.7-4.2.5 2.2 1.9-12.8 2.1 2.2 3.3 2.2.7 5.6-1-2.1-1.9 11.3-2.2-2.2-1.7 5.6-1-2.1-1.4 4.2-.8-2.2-1.3 2.9-.5-2.2-1.3 2.8-.6-2.2-1.2 4.3-1-2.2-1.2 4.2-1-2.2-1.3 4.3-.9-2.2-1.3zM120.7 44.5l2.2 1.1 14.1-4 5.6-2 2.2 1.4 2.8-1.3 2.2 1.5 1.4-.7 4.4 2.5 10.9 5.1 1.4-.6 4.3 2.3 1.4-.6 2.2 1.1 1.4-.5 2.2 1.2 1.4-.6 2.2 1.3 12.7-4.6-2.2-2.2-5.6 2.6-2.2-1.8-2.8 1.4-2.2-1.5-1.4.8-2.2-1.5-1.4.9-2.2-1.4-1.4.9-4.3-2.6-1.4.9-6.6-3.4-4.3-2.8-1.5 1.2-2.1-1.6-1.4 1.1-2.2-1.6-1.4.9-2.2-1.6-2.8 1.6-2.2-1.6-2.8 1.3-2.2-1.6-4.2 1.8-4.3 1.6-14.1 4.4-2.8 1 2.1 1.3 2.9-1.1 2.1 1.3z"/>
<path fill="#c1c231" stroke="#c1c231" d="M189.3 46.8l4.2-1.9-2.1-2.3-2.9 1.6-2.1-2-2.9 1.7-2.1-1.7-1.5 1-2.1-1.7-1.4 1-2.2-1.5-1.4 1-4.4-2.8-1.4 1.2-4.4-2.7-1.4 1.3-6.5-4.4-1.4 1.3-2.2-1.5-1.4 1.1-2.2-1.6-1.4 1-2.2-1.6-1.4.9-2.2-1.8-5.6 3.1 2.2 1.6 2.8-1.3 2.2 1.6 2.8-1.6 2.2 1.6 1.4-.9 2.2 1.6 1.4-1.1 2.1 1.6 1.5-1.2 4.3 2.8 6.6 3.4 1.4-.9 4.3 2.6 1.4-.9 2.2 1.4 1.4-.9 2.2 1.5 1.4-.8 2.2 1.5 2.8-1.4 2.2 1.8zM69.8 56.1l2.2 1.5-1.4 0 2.2 1.6-2.9 0 2.2 1.8-4.2.2 2.2 2-5.7.7-4.2.8 2.2 2.2 11.3-1.9-2.2-1.9 4.2-.5-2.2-1.7 4.3-.3-2.2-1.5 1.4-.1-2.2-1.4 2.9-.2-2.2-1.4 1.4-.1-2.2-1.4 1.4-.2-2.1-1.4-2.9.3-2.8-.1 2.2 1.6-1.4-.1 2.1 1.5z"/>
<path fill="#cbc02d" stroke="#cbc02d" d="M179.2 40.5l-2.2-1.7-1.4 1.1-2.2-1.6-1.4 1.2-4.4-3-1.4 1.3-4.3-3-1.4 1.5-4.4-3.1-1.4 1.4-4.4-3-1.4 1.2-2.1-1.5-1.5 1-2.1-1.7-2.9 1.8 2.2 1.8 1.4-.9 2.2 1.6 1.4-1 2.2 1.6 1.4-1.1 2.2 1.5 1.4-1.3 6.5 4.4 1.4-1.3 4.4 2.7 1.4-1.2 4.4 2.8 1.4-1 2.2 1.5 1.4-1 2.1 1.7 1.5-1 2.1 1.7 2.9-1.7 2.1 2 2.9-1.6-2.2-2.1-1.4.8-2.2-2-2.8 2-2.2-1.8zM71.4 59.2l1.4 0-2.2-1.6 1.4 0-2.2-1.5 1.4 0-2.1-1.5 1.4.1-2.2-1.6-2.8-.3 2.2 1.7-1.5-.2 2.2 1.7-1.4-.1 2.2 1.7-2.8-.2 2.1 1.8-4.2-.1 2.2 2.2-5.7.3-4.2.6 2.2 2.8 2.1 2.1 1.5-.2-2.2-2.2 4.2-.8 5.7-.7-2.2-2 4.2-.2-2.2-1.8z"/>
<path fill="#d4be2d" stroke="#d4be2d" d="M166.2 37.8l1.4-1.3 4.4 3 1.4-1.2 2.2 1.6 1.4-1.1 2.2 1.7 1.4-1 2.2 1.8 2.8-2 2.2 2 1.4-.8-2.2-2.2-1.4 1-2.2-2-1.4 1.1-2.2-2-1.4 1.2-2.2-1.8-1.4 1.3-2.2-1.7-1.4 1.3-4.3-3.3-1.4 1.5-4.4-3.3-1.4 1.6-4.4-3.1-1.4 1.6-4.3-2.9-1.4 1.3-2.2-1.7-2.8 2.2 2.1 1.7 1.5-1 2.1 1.5 1.4-1.2 4.4 3 1.4-1.4 4.4 3.1 1.4-1.5zM64.3 59.1l-5.7 0 2.2 2.5 5.7-.3zM64.3 59.1l4.2.1-2.1-1.8 2.8.2-2.2-1.7 1.4.1-2.2-1.7 1.5.2-2.2-1.7-2.9-.4 2.2 1.8-1.4-.3 2.2 1.8-2.8-.4 2.1 2-2.8-.3z"/>
<path fill="#ddbb2f" stroke="#ddbb2f" d="M57.9 56.7l2.2 2.4 4.2 0-2.2-2.1 2.8.3-2.1-2 2.8.4-2.2-1.8 1.4.3-2.2-1.8-2.8-.6 2.2 1.9-1.4-.3 2.2 1.9-2.9-.3 2.2 2zM55.8 59.3l-1.4.1 2.2 2.8 4.2-.6-2.2-2.5zM183.4 37.3l-2.2-2.1-1.4 1.2-2.1-1.9-1.5 1.3 2.2 1.8 1.4-1.2 2.2 2zM183.4 37.3l2.2 2 1.4-1-2.2-2.1zM162.5 29.9l-1.4 1.7-4.3-3.2-1.5 1.7-4.3-2.8-1.4 1.5 4.3 2.9 1.4-1.6 4.4 3.1 1.4-1.6 4.4 3.3 1.4-1.5 4.3 3.3 1.4-1.3 2.2 1.7 1.4-1.3-2.1-1.8-1.5 1.4-4.3-3.5-1.4 1.5zM147.4 27.1l-1.4 1.3 2.2 1.7 1.4-1.3z"/>
<path fill="#e6b934" stroke="#e6b934" d="M62 53.7l-2.2-1.9-2.8-.5 2.2 1.9-1.4-.2 2.1 2-4.2-.5 2.2 2.2 4.2.3-2.2-2 2.9.3-2.2-1.9zM149.6 28.8l1.4-1.5 4.3 2.8 1.5-1.7 4.3 3.2 1.4-1.7-4.3-3.4-1.4 1.9-6.6-4.3-2.8 3zM179.8 36.4l1.4-1.2 2.2 2.1 1.4-1.1-4.3-4.3-1.4 1.3-2.2-2.1-1.4 1.5-2.2-2-1.4 1.6-2.2-1.9-1.4 1.6 4.3 3.5 1.5-1.4 2.1 1.8 1.5-1.3zM55.1 56.6l-2.9.2 2.2 2.6 5.7-.3-2.2-2.4zM164.7 31.7l2.2 1.7 1.4-1.5-4.4-3.8-1.4 1.8z"/>
<path fill="#eeb73b" stroke="#eeb73b" d="M171.9 32.2l1.4-1.6-2.2-2-1.4 1.7-4.3-4-1.5 1.8 4.4 3.8 1.4-1.6zM53.6 56.7l4.3 0-2.2-2.2 4.2.5-2.1-2 1.4.2-2.2-1.9-2.8-.4 2.2 1.9-2.9-.4 2.2 2.1-4.2-.3zM158.2 26.5l-6.6-4.3-1.4 1.9 6.6 4.3zM160.3 28.2l2.2 1.7 1.4-1.8-2.1-1.8zM174.7 29.1l-1.4 1.5 2.2 2 1.4-1.5 2.2 2.1 1.4-1.3-2.2-2.2-1.4 1.4z"/>
<path fill="#f6b742" stroke="#f6b742" d="M156 25l4.3 3.2 1.5-1.9-6.6-4.8-1.4 2.2zM52.2 56.8l1.4-.1-2.1-2.5-1.4.1zM53.5 52.4l2.9.4-2.2-1.9-2.8-.4zM53.5 52.4l-2.8-.3 2.2 2.2 2.8.2zM176.9 31.1l1.4-1.4-2.2-2.1-1.4 1.5zM167.5 28.3l2.2 2 1.4-1.7 2.2 2 1.4-1.5-2.2-2.1-1.4 1.6-2.2-2.1zM163.2 24.3l-1.4 2 2.1 1.8 1.5-1.8z"/>
<path fill="#fdb947" stroke="#fdb947" d="M51.4 50.5l-2.9-.1 2.2 1.7 2.8.3zM163.2 24.3l4.3 4 1.4-1.8 2.2 2.1 1.4-1.6-2.1-2.2-1.5 1.7-4.3-4.2zM163.2 24.3l-4.4-3.5-1.4 2.2 4.4 3.3zM153.1 20l-1.5 2.2 2.2 1.5 1.4-2.2zM172.5 27l2.2 2.1 1.4-1.5-2.2-2.3zM50.7 52.1l-2.8 0 2.2 2.2 2.8 0z"/>
<path fill="#fec03e" stroke="#fec03e" d="M170.4 24.8l-2.2-2.3-1.4 1.9 2.1 2.1zM170.4 24.8l2.1 2.2 1.4-1.7-2.1-2.3zM162.4 20.3l-1.4 2.2 2.2 1.8 1.4-2zM45.7 50.5l2.2 1.6 2.8 0-2.2-1.7zM156.6 19.2l-2.1-1.6-1.4 2.4 4.3 3 1.4-2.2z"/>
<path fill="#fdc638" stroke="#fdc638" d="M166.8 24.4l1.4-1.9-4.4-4.3-1.4 2.1-4.3-3.5-1.5 2.4 4.4 3.3 1.4-2.2zM170.4 24.8l1.4-1.8-2.2-2.4-1.4 1.9z"/>
<path fill="#fbcd32" stroke="#fbcd32" d="M163.8 18.2l-2.2-2-1.4 2.3 2.2 1.8zM167.4 18.2l-1.4 2.1 2.2 2.2 1.4-1.9zM156.6 19.2l1.5-2.4-2.2-1.7-1.4 2.5z"/>
<path fill="#f9d42e" stroke="#f9d42e" d="M166 20.3l1.4-2.1-2.2-2.2-1.4 2.2zM155.9 15.1l4.3 3.4 1.4-2.3-4.3-3.7z"/>
<path fill="#f7db29" stroke="#f7db29" d="M163.8 18.2l1.4-2.2-4.3-4.1-1.4 2.4z"/>
<path fill="#f6e323" stroke="#f6e323" d="M160.9 11.9l-2.2-1.9-1.4 2.5 2.2 1.8z"/></g>
<path fill="none" stroke="#000" stroke-width="0.5" stroke-opacity="1" stroke-linejoin="round" d="M132.8 160.7l-4.4-3.8-6.5-6.7-4.3-4.9-2.2-2.7-4.4-4.5-2.2-2.9-2.1-3.3-8.7-14-6.6-10.3-2.1-3.9-2.2-3.3-4.4-6.1-6.5-8.3-4.4-6.4-6.5-8.5-2.2-.7-2.2-3.3-2.1-2.1-6.6-8.2-4.3-4.7-2.2-1.6M134.2 160l-4.3-3.9-6.6-6.7-2.2-2.4-4.3-5.4-2.2-2.2-2.2-2.5-4.3-6.3-8.7-14.3-6.6-10.2-2.1-3.9-2.2-3.2-4.4-5.9-6.5-8.1-4.4-6.2-4.3-5.5-2.2-2.3-2.2-1.3-2.1-2.8-2.2-2.2-4.4-5.4-4.3-5.1-2.2-2.1-2.2-1.7M135.6 158.9l-2.2-1.7-6.5-6.5-4.3-4.8-4.4-5.5-2.2-2.2-2.2-2.7-4.3-6.5-8.7-14.4-6.5-10-2.2-4-4.4-6-8.7-10.5-4.3-6-4.4-5.3-2.2-2.1-2.2-1.6-4.3-4.7-8.7-10.1-2.2-2.2-2.2-1.7M137 157.7l-2.1-1.7-6.6-6.5-4.3-5-4.4-5.5-2.2-2.2-2.1-3.1-4.4-6.6-8.7-14.4-6.5-9.9-2.2-3.9-4.4-5.6-8.7-10.1-4.3-5.7-4.4-5-4.3-3.9-2.2-2.2-10.9-12.1-4.4-3.9M138.5 156.1l-2.2-1.7-4.4-4.1-4.3-4.8-4.4-5.6-2.2-2.4-2.1-2.7-6.6-9.7-8.7-14.3-8.7-13.2-2.2-3-10.9-12.4-2.1-2.8-4.4-4.9-2.2-2.3-6.5-6.1-10.9-11.6-4.3-4M139.9 154.5l-2.2-1.7-4.4-4.2-4.3-5-2.2-2.9-4.4-5.1-8.7-12.9-6.5-10.6-6.5-9.5-2.2-3.6-4.4-5.7-4.3-4.9-4.4-4.6-4.3-5.1-4.4-4.7-2.2-2.2-6.5-5.9-10.9-11.3-4.3-3.9M141.3 152.5l-2.2-1.7-4.4-4.3-2.1-2.4-6.6-8.1-6.5-9.4-2.2-2.8-4.3-7.2-4.4-6.7-8.7-12.6-2.2-2.9-4.3-4.9-6.6-6.6-4.3-4.9-4.4-4.4-8.7-8-10.9-10.8-4.3-3.9M142.7 150.3l-4.4-3.8-8.7-10.4-6.5-9.2-2.2-2.4-6.5-10.4-2.2-3.3-6.5-9.1-2.2-3.4-4.4-5.3-4.3-4.7-13.1-13-4.3-4.1-6.6-5.8-10.9-10.4-4.3-3.9M144.1 147.4l-2.2-2-4.3-4.5-4.4-5.2-4.3-5.9-2.2-2.6-2.2-2.3-4.4-7-4.3-6.4-6.5-8.9-2.2-3.2-4.4-5.5-4.3-4.6-13.1-12.5-6.5-6-8.7-7.6-8.7-8.1-4.4-3.8M145.5 143.8l-4.3-4.2-8.8-10-4.3-4.5-4.4-7-4.3-6.2-6.5-8.7-2.2-3.1-4.4-5.4-6.5-6.6-10.9-10-8.7-7.6-8.7-7.4-13.1-11.5M146.9 139.9l-13-12.3-6.6-9.7-4.3-5.9-6.6-8.4-2.1-3-4.4-5.3-2.2-2.3-6.5-6.2-4.4-3.6-4.3-3.9-32.7-27.5M148.3 137.9l-6.5-6.1-2.2-2.4-6.5-9.2-15.2-19.5-4.4-5-2.2-2.1-4.3-4.1-4.4-3.8-41.4-33.6M149.8 133.7l-2.2-2.1-6.6-7.4-15.2-18.1-4.4-5.4-4.3-4.7-4.4-4.1-6.5-5.6-43.6-33.9M151.2 128.9l-4.4-4.3-4.3-4.6-10.9-12.1-4.4-5.1-4.3-4.6-6.6-6-6.5-5.3-15.3-11.3-30.4-22.9M152.6 124.3l-8.7-8.4-10.9-11.5-4.4-4.3-8.7-7.6-6.5-5.1-8.7-6.3-8.7-6.1-30.5-22.2M154 119.8l-19.6-18.2-8.7-7.2-6.6-5.1-10.8-7.6-10.9-7.3-30.5-21.4M155.4 115.8l-13.1-11.1-8.7-7-8.7-6.6-13.1-8.9-10.8-6.9-32.7-22.2M156.8 112.7l-13.1-10.4-13-9.5-8.7-5.7-4.4-3.1-15.2-9.3-15.3-10.2-17.4-11.3M158.2 110.2l-8.7-6.7-13-9.2-8.8-5.5-6.5-4.4-15.2-9-17.5-11.2-17.4-11M159.6 108.1l-6.5-5-6.5-4.5-13.1-8.2-6.5-4.3-19.6-11.4-17.4-10.9-13.1-7.9-4.4-2.8M161 106.3l-4.3-3.3-4.4-2.9-13-8.1-8.7-5.7-21.8-12.2-17.4-10.7-13.1-7.7-4.3-2.8M162.5 104.7l-6.6-4.5-19.6-12.4-26.1-14.3-17.4-10.5-13.1-7.5-4.3-2.9M163.9 103.1l-10.9-7.2-10.9-6.7-6.5-3.6-15.3-8-8.7-4.8-28.3-16.3-6.5-4.2M165.3 101.6l-6.5-4.4-10.9-6.5-8.7-4.8-24-12.5-30.5-17.2-6.5-4.1M166.7 100.3l-6.5-4.4-8.7-5.1-8.8-4.6-17.4-8.9-8.7-4.6-30.5-16.8-6.5-4.1M168.1 99.2l-4.3-3.1-8.8-5-8.7-4.6-28.3-14.4-30.5-16.6-6.5-3.9M169.5 98.1l-4.3-3-6.6-3.7-8.7-4.6-30.5-15.3-28.3-15.1-4.3-2.4-4.4-2.7M170.9 97l-4.3-2.9-6.6-3.6-39.1-19.6-28.4-14.9-4.3-2.4-4.4-2.6M172.4 96l-4.4-2.8-6.5-3.5-39.2-19.4-28.3-14.6-4.4-2.4-4.3-2.6M173.8 95.1l-4.4-2.7-6.5-3.5-39.2-19.2-30.5-15.5-6.5-3.8M175.2 94.3l-4.4-2.7-6.5-3.4-39.2-19.1-30.5-15.3-6.5-3.7M176.6 93.6l-4.4-2.6-6.5-3.5-37-17.9-30.5-15.1-4.4-2.2-4.3-2.5M178 93l-4.4-2.7-6.5-3.4-69.7-33.8-6.5-3.6M179.4 92.5l-4.3-2.7-8.8-4.6-67.5-32.5-6.5-3.5M180.8 92l-4.3-2.8-8.7-4.6-58.8-28.2-8.7-4.1-6.6-3.4M182.2 91.6l-6.5-4.1-6.5-3.4-58.8-28.1-8.7-4-6.6-3.4M183.6 91.1l-6.5-4.1-6.5-3.5-58.8-27.9-8.7-4-6.5-3.4M185.1 90.7l-6.6-4.2-8.7-4.5-56.6-26.9-8.7-3.9-6.5-3.4M186.5 90.2l-6.6-4.1-8.7-4.6-54.4-25.7-13.1-6-4.3-2.3M187.9 89.8l-6.5-4.2-4.4-2.4-4.4-2.2-54.4-25.6-13.1-6-4.3-2.3M189.3 89.4l-6.5-4.2-4.4-2.4-4.3-2.2-54.5-25.6-13-6-4.4-2.3M190.7 89.1l-6.5-4.3-4.4-2.5-4.3-2.2-15.3-7-37-17.5-13.1-6-6.5-3.3M192.1 88.7l-6.5-4.3-4.4-2.5-4.3-2.2-15.3-7-37-17.5-13-6-6.6-3.3M193.5 88.3l-6.5-4.4-6.5-3.6-17.4-8-50.1-23.6-6.6-3.3M195 87.9l-6.6-4.4-6.5-3.6-15.3-6.9-50-23.7-4.4-2.1-4.3-2.3M196.4 87.5l-6.6-4.4-6.5-3.6-15.2-6.9-47.9-22.7-6.6-3.2-4.3-2.4M197.8 86.9l-6.6-4.3-6.5-3.5-15.2-6.8-47.9-22.8-6.6-3.2-4.3-2.5M199.2 86.3l-6.5-4.1-6.6-3.5-15.2-6.8-47.9-22.8-6.6-3.3-4.3-2.5M200.6 85.8l-6.5-4-6.6-3.5-15.2-6.8-45.7-21.8-6.6-3.2-6.5-3.7M202 85.4l-6.5-4-6.6-3.5-15.2-6.7-45.7-21.9-6.6-3.2-6.5-3.8M203.4 85.1l-6.5-4.1-6.5-3.5-15.3-6.7-41.4-19.8-10.8-5.4-6.6-3.7M204.8 84.8l-6.5-4.2-6.5-3.5-15.3-6.7-39.2-18.8-13-6.4-6.6-3.7M206.2 84.5l-6.5-4.3-6.5-3.5-15.3-6.7-39.2-18.8-13-6.4-6.5-3.7M207.7 84.2l-6.6-4.3-6.5-3.6-15.2-6.7-39.2-18.8-13.1-6.4-6.5-3.7M209.1 83.9l-6.6-4.4-6.5-3.5-13.1-5.8-41.3-19.7-13.1-6.5-6.5-3.8M210.5 83.6l-6.5-4.4-6.6-3.6-4.3-2-8.7-3.8-30.5-14.6-10.9-5.1-13.1-6.5-6.5-3.8M211.9 83.3l-6.5-4.4-6.6-3.6-4.3-2.1-8.7-3.8-8.7-4.3-32.7-15.4-13.1-6.5-6.5-3.8M213.3 83l-6.5-4.4-6.6-3.6-4.3-2.1-8.7-3.9-8.7-4.3-32.7-15.3-13.1-6.6-6.5-3.9M214.7 82.8l-6.5-4.4-6.5-3.7-6.6-3.2-6.5-2.9-8.7-4.4-32.7-15.2-13-6.6-6.6-4M216.1 82.6l-6.5-4.5-8.7-4.7-17.4-8.6-37-17.2-10.9-5.6-6.6-4.1M217.6 82.4l-6.6-4.5-4.3-2.4-8.7-4.6-13.1-6.6-37-17-10.9-5.7-6.5-4.3M219 82.2l-2.2-1.6-4.4-2.8-17.4-9.6-8.7-4.3-13.1-5.9-26.1-12.1-4.3-2.3-4.4-2.5-6.5-4.4M220.4 82.1l-2.2-1.6-4.4-2.8-19.6-11-6.5-3.3-13.1-5.8-26.1-12.1-4.3-2.3-4.4-2.6-6.5-4.5M221.8 82l-4.4-3.1-10.9-6.1-10.8-6.6-6.6-3.2-13-5.8-26.2-12-6.5-3.7-4.4-2.8-4.3-3.2M223.2 81.9l-4.4-3-10.8-6.1-8.8-5.6-4.3-2.5-17.4-7.9-26.2-12.1-2.1-1.1-4.4-2.6-4.3-3-4.4-3.2M224.6 81.9l-2.2-1.5-2.1-1.4-6.6-3.6-4.3-2.6-8.7-5.8-4.4-2.6-17.4-8-26.1-12.2-2.2-1.1-4.4-2.7-4.3-3-4.4-3.3M226 82l-2.2-1.5-10.8-6.1-4.4-2.8-8.7-6.3-2.2-1.2-17.4-8.1-28.3-13.5-6.5-4.3-6.6-4.9M227.4 82.3l-2.1-1.5-6.6-3.5-4.3-2.6-4.4-2.9-8.7-6.6-2.2-1.3-17.4-8.2-28.3-13.9-6.5-4.4-6.6-5M228.8 82.8l-2.1-1.4-6.6-3.6-4.3-2.7-4.4-3-8.7-6.9-2.2-1.3-17.4-8.6-17.4-8.9-10.9-5.4-6.5-4.5-6.5-4.9M223.7 79.7l-4.3-2.6-4.4-3-10.9-8.7-2.1-1.5-4.4-2.4-13.1-6.6-17.4-9.3-10.9-5.6-8.7-6.1-4.3-3.3M223 79.1l-6.6-4.4-10.9-9.1-2.1-1.5-4.4-2.6-13.1-6.9-28.3-15.7-8.7-6.1-4.3-3.3M222.2 78.6l-6.5-5-8.7-7.6-4.4-3.1-4.4-2.6-13-7.3-24-14-4.3-2.9-8.7-6-2.2-1.7M223.6 79.4l-4.3-3.3-10.9-9.6-4.4-3.3-4.3-2.9-13.1-7.7-24-14.9-15.2-10.6M225 80.4l-6.5-5.3-10.9-9.9-4.3-3.4-15.3-9.6-21.8-14.4-10.9-7.7-6.5-4.4M226.4 81.5l-6.5-5.5-8.7-8.4-6.5-5.6-4.4-3-10.9-7.2-21.8-15.3-10.8-8.1-6.6-4.3M225.7 80.8l-4.4-3.9-10.9-10.7-4.3-3.9-4.4-3.3-6.5-4.5-6.5-4.8-19.6-14.6-10.9-8.6-6.6-4.3M227.1 81.9l-6.5-6.1-10.9-11.2-4.4-3.9-13.1-9.8-21.7-17.3-10.9-9-6.5-4.6M230.7 85l-6.6-6.1-13-13.9-4.4-4.2-13-10.3-21.8-18.3-10.9-9.7-6.5-4.9M232.1 86.2l-6.5-6.2-13.1-14.6-4.4-4.4-13-10.9-21.8-19.5-10.9-10.3-6.5-5.2M235.7 89.6l-6.6-6.4-4.3-4.5-10.9-12.8-2.2-2.5-2.2-2.2-6.5-5.6-6.5-5.9-21.8-20.6-10.9-10.9-6.5-5.7M239.3 93.1l-8.7-8.8-4.4-4.7-13.1-15.9-2.1-2.3-6.6-5.9-6.5-6.2-21.8-21.7-10.9-11.6-6.5-6M132.8 160.7l1.4-.7 2.8-2.3 2.9-3.2 2.8-4.2 1.4-2.9 2.8-7.5 1.4-2 5.7-18.1 1.4-4 1.4-3.1 1.4-2.5 2.8-3.9 2.9-3.2 1.4-1.5 4.2-3.5 4.3-3 1.4-.8 2.8-1.3 8.5-2.8 8.5-2.3 5.6-2.1 2.8-.7 11.3-2.3 7.1-.8 2.8-.1 2.8.4 1.4.5 1.5.8M130.6 158.9l1.4-.7 1.4-1 1.5-1.2 2.8-3.2 2.8-4.3 1.4-3.1 2.8-7.5 1.5-2 5.6-18 1.4-3.9 1.4-3.1 1.4-2.5 2.9-3.8 4.2-4.5 2.8-2.5 2.9-2.1 2.8-1.8 4.2-2.1 7.1-2.4 9.9-2.8 5.6-2 2.8-.8 11.3-2.4 7.1-.8 2.8 0 1.4.1 1.5.3 1.4.6 1.4.7M128.4 156.9l1.5-.8 1.4-1 2.8-2.6 1.4-1.7 2.8-4.3 1.4-3.3 2.9-7.3 1.4-2 5.6-18 1.4-3.8 1.5-3 1.4-2.4 1.4-2 1.4-1.7 4.2-4.4 2.9-2.5 2.8-2 2.8-1.7 2.8-1.4 2.9-1.2 7-2.4 15.6-4.7 4.2-1.2 8.5-1.8 4.2-.6 2.8-.2 2.9.1 1.4.3 2.8.9 1.4.7M126.3 154.6l2.8-1.7 2.8-2.6 2.8-3.8 1.5-2.5 1.4-3.1 2.8-7.1 1.4-2 1.4-5.1 4.3-12.9 1.4-3.6 1.4-2.8 1.4-2.3 1.4-2 5.7-5.9 2.8-2.4 2.8-1.9 2.8-1.7 2.9-1.4 4.2-1.8 5.6-1.9 12.8-3.9 8.4-2.3 8.5-1.8 2.8-.3 2.9-.1 2.8.1 1.4.3 2.8.9 1.4.7M124.1 152.4l2.8-1.7 1.4-1.2 2.9-3.3 1.4-2.1 2.8-5.7 1.4-3.7 1.4-2.9 1.4-2.4 1.4-5.2 4.3-12.5 1.4-3.4 1.4-2.6 2.8-4.1 5.7-5.8 2.8-2.3 2.8-1.8 4.3-2.4 2.8-1.3 4.2-1.7 5.7-1.9 11.3-3.4 11.3-3.1 7-1.2 2.9-.3 2.8.1 2.8.4 1.4.4 1.4.5 2.9 1.3M235.7 89.6l1.4 1.3M121.9 150.2l2.8-1.9 2.9-2.8 1.4-1.9 2.8-4.8 2.8-6.8 1.4-2.3 1.5-3.4 1.4-4.6 4.2-12 1.4-3.2 1.4-2.5 2.9-3.9 2.8-2.7 2.8-2.9 2.8-2.2 2.8-1.8 4.3-2.3 4.2-1.9 4.3-1.7 5.6-1.8 9.9-3 7.1-2 5.6-1.4 5.7-.9 2.8-.3 2.8.1 2.8.4 2.9.8 4.2 2.1M232.1 86.2l2.8 2.5M119.7 147.8l2.9-1.9 1.4-1.4 1.4-1.7 1.4-2.1 1.4-2.1 1.4-2.5 2.8-6.5 1.5-2 2.8-8.5 4.2-11.4 1.4-3 1.4-2.4 2.9-3.7 2.8-2.5 2.8-2.9 2.8-2.1 4.3-2.5 4.2-2.1 4.3-1.9 4.2-1.6 7.1-2.2 11.3-3.3 7-1.9 5.7-1.1 2.8-.4 2.8-.1 2.8.2 2.9.5 2.8 1 2.8 1.3 2.8 1.8 2.9 2M227.1 81.9l5.6 4.6M117.6 145.3l1.4-.9 1.4-1.2 1.4-1.5 2.8-3.6 1.4-2.1 2.9-6.2 1.4-2.4 1.4-3 1.4-4.2 5.6-14.5 1.5-2.8 1.4-2.2 2.8-3.5 5.6-5.3 2.9-2 4.2-2.4 4.2-2.1 5.7-2.4 5.6-2 5.7-1.7 11.3-3.2 7.1-1.8 5.6-1.2 4.2-.3 2.9 0 2.8.5 2.8.8 2.8 1.3 4.3 2.5 8.5 6.4M115.4 142.6l1.4-1 2.8-2.6 1.4-1.5 1.4-1.9 1.5-2.6 2.8-5.8 1.4-2.1 2.8-7.7 4.3-10.7 1.4-3.1 2.8-4.5 1.4-1.8 1.4-1.5 4.3-4 2.8-2.2 4.2-2.5 4.3-2.1 4.2-1.9 4.2-1.7 5.7-1.9 9.9-2.9 12.7-3.4 5.6-1.2 4.3-.5 2.8-.1 2.8.4 2.8.7 2.9 1.1 4.2 2.4 8.5 6M113.2 140.4l2.8-2.2 1.4-1.4 2.9-4.3 2.8-5.6 1.4-2 8.5-20.5 1.4-2.8 1.4-2.2 2.8-3.6 2.9-2.5 2.8-2.8 2.8-2 4.2-2.5 4.3-2.1 4.2-1.9 4.3-1.6 5.6-1.9 25.4-7 4.3-.9 4.2-.6 2.8 0 2.9.4 1.4.3 2.8 1.1 4.2 2.2 8.5 5.6M111 138.1l1.4-1.2 2.9-3.2 1.4-2 2.8-5.1 1.4-2.1 9.9-22.2 2.8-4.6 2.9-3.4 2.8-2.3 2.8-2.8 2.8-1.9 2.9-1.6 4.2-2.2 5.6-2.5 4.3-1.7 4.2-1.4 29.7-8.1 5.6-1.2 2.9-.2 2.8.2 1.4.3 2.8.9 4.3 2 8.4 5.2M108.8 135.2l1.5-1.3 1.4-1.5 1.4-1.9 4.2-6.7 8.5-17.7 1.4-3.3 1.4-2.7 2.8-4.1 2.9-3.1 4.2-3.8 2.8-2.1 4.3-2.4 8.4-4.1 4.3-1.7 4.2-1.4 5.7-1.7 18.3-4.9 9.9-3 4.3-.8 2.8-.2 1.4 0 1.4.3 2.8.8 4.3 1.8 8.4 4.7M106.7 131.9l1.4-1.3 1.4-1.6 2.8-3.9 1.4-2.4 7.1-13.6 4.2-8.5 1.4-2.4 1.5-2.1 2.8-3.3 2.8-2.4 2.8-2.6 2.9-1.9 2.8-1.6 8.5-4.2 4.2-1.8 4.2-1.5 5.7-1.7 21.2-5.7 9.9-3.2 4.2-.9 2.8-.1 1.4.2 2.9.6 4.2 1.6 8.5 4.2M104.5 128.5l2.8-3 2.8-4.1 2.9-4.8 5.6-10.2 2.8-5.7 1.5-2.5 2.8-3.8 2.8-3.1 4.2-3.7 2.9-2 4.2-2.4 8.5-4.1 4.2-1.8 4.3-1.5 5.6-1.7 18.4-4.9 12.7-4.1 4.2-1 2.8-.2 1.5 0 4.2.9 4.2 1.4 7.1 2.9M102.3 125l2.8-3.2 2.9-4 7-11.7 4.3-7.8 2.8-4 2.8-3.2 5.7-4.8 2.8-1.9 4.2-2.3 8.5-4.1 4.2-1.7 4.3-1.5 5.6-1.7 17-4.5 12.7-4.1 4.2-1.2 4.3-.6 4.2.2 5.7 1.3 7 2.1M100.1 121.4l2.9-3.2 2.8-4 5.6-8.7 2.9-4.9 2.8-4.6 2.8-3.5 2.8-2.9 5.7-4.6 2.8-1.7 4.3-2.3 8.4-4 4.3-1.7 4.2-1.5 5.7-1.7 16.9-4.6 12.7-4.1 4.3-1.1 4.2-.7 4.2 0 5.7.7 7 1.4M98 117.9l2.8-3.3 4.2-5.8 4.3-6.2 1.4-2.5 2.8-4.4 4.2-5 1.4-1.4 5.7-4.6 4.2-2.5 5.7-3 8.5-3.8 7-2.7 5.7-1.7 15.5-4.2 14.1-4.4 4.3-1.1 4.2-.7 4.2-.3 5.7.3 7.1.8M95.8 114.4l2.8-3.2 4.2-5.5 2.9-4 1.4-2.3 2.8-4.1 2.8-3.4 2.9-2.9 5.6-4.6 1.4-1 4.3-2.4 5.6-2.9 8.5-3.8 7-2.6 5.7-1.7 15.5-4.2 14.2-4.3 4.2-1.1 5.6-1.1 4.3-.3 5.6 0 5.7.4M93.6 111l2.8-3.2 4.3-5.2 2.8-4.3 2.8-3.6 2.8-3.2 2.9-2.9 1.4-1.2 5.6-4.3 5.7-3.2 7-3.5 8.5-3.7 7.1-2.5 19.8-5.4 18.3-5.4 5.7-1.1 4.2-.6 5.7-.2 5.6 0M91.4 107.6l2.9-3 4.2-5.6 4.2-5.1 4.3-4.4 2.8-2.6 4.2-3.3 2.9-1.8 7-3.8 7.1-3.4 7-3 7.1-2.5 19.8-5.4 18.3-5.3 5.7-1.2 4.2-.7 4.3-.5 7-.5M89.3 103.7l8.4-9.3 4.3-4.2 4.2-3.9 5.6-4.1 2.9-1.7 8.5-4.3 7-3.3 7.1-2.9 5.6-1.9 19.8-5.4 17-4.9 9.8-2.3 12.7-2M87.1 100.4l5.6-5.8 5.7-5.3 4.2-3.6 4.2-3.1 2.9-1.8 4.2-2.2 7.1-3.5 7-3.3 8.5-3.3 7.1-2.3 38.1-10.5 7.1-1.8 11.3-2.5M84.9 97.2l9.9-8.9 2.8-2.3 5.7-4 2.8-1.8 5.6-2.9 7.1-3.4 7.1-3.1 7-2.8 7.1-2.4 35.3-9.8 22.6-6.5M82.7 94.3l4.3-3.6 5.6-4.5 8.5-5.9 9.9-4.9 12.7-5.7 7-2.8 7.1-2.3 32.5-9 8.5-2.5 7-2.4 9.9-3.6M80.5 91.6l7.1-5.5 8.5-5.8 4.2-2.2 5.7-2.7 14.1-6.3 7.1-2.7 7-2.4 35.3-9.8 5.7-1.7 8.5-3.2 9.8-4.4M78.4 88.8l5.6-4.1 5.7-3.7 2.8-1.7 8.5-4 15.5-6.7 8.5-3.3 7-2.3 35.4-9.8 5.6-1.8 4.2-1.6 4.3-2 9.9-5.2M76.2 86l8.5-5.6 4.2-2.3 7.1-3.1 15.5-6.4 9.9-3.8 7-2.4 26.9-7.6 9.9-2.6 5.6-1.9 4.3-1.8 4.2-2.1 9.9-5.9M74 82.7l5.7-3.3 5.6-2.6 24-9.4 9.9-3.7 8.5-2.8 25.4-7.2 9.9-2.5 5.6-1.9 4.3-2 4.2-2.4 4.3-2.7 5.6-3.9M71.8 79.6l4.3-2.1 4.2-1.7 39.6-14.2 8.4-2.5 21.2-6 9.9-2.5 5.7-1.9 4.2-1.9 4.2-2.4 4.3-2.9 7-5.3M69.7 76.8l2.8-1.3 2.8-1 18.4-5.7 26.8-9.1 24-6.8 12.7-3.3 4.3-1.4 2.8-1.1 2.8-1.5 4.3-2.6 4.2-3.1 7.1-5.9M67.5 73.8l2.8-1 11.3-2.7 8.5-2.3 7-2.2 22.6-7.4 22.6-6.3 12.7-3.3 4.3-1.4 2.8-1.2 2.8-1.5 4.3-2.8 4.2-3.4 7.1-6.4M65.3 71.1l2.8-.4 9.9-2.1 11.3-2.7 8.5-2.4 21.2-6.7 21.2-6 12.7-3.2 4.2-1.4 2.8-1.2 2.9-1.6 4.2-3 4.2-3.7 7.1-7M63.1 70.4l2.8-1.3 2.9-.9 15.5-3.1 8.5-2.1 24-7.2 22.6-6.4 11.3-2.8 4.2-1.4 4.3-2 4.2-3 2.8-2.4 2.9-2.7 7-7.5M60.9 67.1l21.2-3.5 8.5-1.8 5.7-1.6 15.5-4.6 25.4-7.3 11.3-2.8 4.3-1.3 2.8-1.2 1.4-.8 4.2-3.2 2.9-2.7 2.8-2.9 7-8.1M58.8 65l7-1.3 15.6-1.8 8.4-1.7 7.1-1.9 39.6-11.5 9.8-2.4 4.3-1.3 2.8-1.3 1.4-.8 1.4-1 2.9-2.4 2.8-2.8 2.8-3.1 7.1-8.7M56.6 62.2l5.6-.7 15.6-.9 4.2-.6 5.7-1 9.9-2.6 19.7-5.6 17-5.1 9.9-2.5 2.8-.8 2.8-1.2 2.8-1.6 1.4-1 2.9-2.5 2.8-2.9 2.8-3.3 7.1-9.3M54.4 59.4l5.7-.3 14.1.1 4.2-.3 5.7-.9 8.4-2 15.6-4.2 19.8-5.9 15.5-4.4 2.8-1.1 2.8-1.4 2.9-2 2.8-2.4 2.8-3 2.8-3.4 7.1-10M52.2 56.8l2.9-.2 2.8.1 9.9.8 4.2.1 4.2-.1 5.7-.8 9.9-2.2 14.1-3.7 33.9-10.2 4.2-1.7 2.9-1.5 2.8-1.9 2.8-2.4 2.8-3 2.9-3.6 7-10.5M50.1 54.3l2.8 0 2.8.2 14.1 1.6 4.3 0 4.2-.4 12.7-2.7 14.1-3.6 14.2-4.5 11.3-3.3 5.6-1.9 4.3-1.7 4.2-2.2 2.8-1.9 2.8-2.3 2.9-2.9 2.8-3.7 2.8-4.2 4.3-6.9M47.9 52.1l2.8 0 2.8.3 11.3 1.8 4.3.4 4.2.1 2.8-.4 17-3.5 9.9-2.5 4.2-1.2 8.5-3 15.5-4.8 5.7-2.2 4.2-2.1 4.2-2.7 2.9-2.2 2.8-2.8 2.8-3.6 2.8-4.5 4.3-7.3M45.7 50.5l2.8-.1 2.9.1 5.6.8 7.1 1.4 2.8.3 4.2.2 2.9-.3 18.3-3.7 9.9-2.5 2.8-.8 7.1-2.6 15.5-4.9 5.7-2.3 5.6-2.8 4.3-2.7 4.2-3.5 2.8-3 1.4-1.9 2.9-4.6 4.2-7.6"/>
<g fill="none"><path d="M132.8 173L245.8 141.2" stroke="#555" stroke-width="0.9"/>
<path d="M132.8 173L45.7 131.8" stroke="#555" stroke-width="0.9"/>
<path d="M45.7 131.8L45.7 40.5" stroke="#9a9a9a" stroke-width="1.2"/>
<path d="M132.8 173L134.6 173.9" stroke="#555" stroke-width="0.8"/>
<path d="M189.3 157.1L191.1 158" stroke="#555" stroke-width="0.8"/>
<path d="M245.8 141.2L247.6 142.1" stroke="#555" stroke-width="0.8"/>
<path d="M132.8 173L130.9 173.5" stroke="#555" stroke-width="0.8"/>
<path d="M89.3 152.4L87.3 152.9" stroke="#555" stroke-width="0.8"/>
<path d="M45.7 131.8L43.8 132.3" stroke="#555" stroke-width="0.8"/>
<path d="M45.7 130.5L43.9 129.6" stroke="#555" stroke-width="0.8"/>
<path d="M45.7 100.5L43.9 99.6" stroke="#555" stroke-width="0.8"/>
<path d="M45.7 70.5L43.9 69.6" stroke="#555" stroke-width="0.8"/>
<path d="M45.7 40.5L43.9 39.6" stroke="#555" stroke-width="0.8"/></g>
<g fill="#3a3a3a" stroke="#3a3a3a" stroke-width="0.28"><text x="40.4" y="131.7" font-size="9" text-anchor="end">0.05</text>
<text x="40.4" y="101.7" font-size="9" text-anchor="end">0.1</text>
<text x="40.4" y="71.7" font-size="9" text-anchor="end">0.15</text>
<text x="40.4" y="41.7" font-size="9" text-anchor="end">0.2</text>
<text x="138.2" y="184.9" font-size="9" text-anchor="start">0.4</text>
<text x="194.7" y="169" font-size="9" text-anchor="start">0.5</text>
<text x="251.2" y="153.1" font-size="9" text-anchor="start">0.6</text>
<text x="126.9" y="183.9" font-size="9" text-anchor="end">195</text>
<text x="83.4" y="163.3" font-size="9" text-anchor="end">200</text>
<text x="39.8" y="142.7" font-size="9" text-anchor="end">205</text>
<text x="207.4" y="190.1" font-size="10" text-anchor="middle">ND (mm)</text>
<text x="69.1" y="187.2" font-size="10" text-anchor="middle">T (ºC)</text>
<text transform="translate(13.6 106) rotate(-90)" font-size="10">DimErr<tspan font-size="6.8" dy="4">ext</tspan></text>
<text class="cap" stroke="none" x="137.3" y="210.4" font-size="13.5" text-anchor="middle">(<tspan font-weight="bold">a</tspan>)</text></g>
<g fill="none"><path d="M411.5 173.5L324.8 132.2" stroke="#e4e4e4" stroke-width="0.7"/>
<path d="M324.8 132.2L324.8 40.5" stroke="#e4e4e4" stroke-width="0.7"/>
<path d="M468 157.4L381.3 116" stroke="#e4e4e4" stroke-width="0.7"/>
<path d="M381.3 116L381.3 24.3" stroke="#e4e4e4" stroke-width="0.7"/>
<path d="M524.5 141.2L437.8 99.9" stroke="#e4e4e4" stroke-width="0.7"/>
<path d="M437.8 99.9L437.8 8.2" stroke="#e4e4e4" stroke-width="0.7"/>
<path d="M411.5 173.5L524.5 141.2" stroke="#e4e4e4" stroke-width="0.7"/>
<path d="M524.5 141.2L524.5 49.5" stroke="#e4e4e4" stroke-width="0.7"/>
<path d="M368.2 152.8L481.2 120.5" stroke="#e4e4e4" stroke-width="0.7"/>
<path d="M481.2 120.5L481.2 28.8" stroke="#e4e4e4" stroke-width="0.7"/>
<path d="M324.8 132.2L437.8 99.9" stroke="#e4e4e4" stroke-width="0.7"/>
<path d="M437.8 99.9L437.8 8.2" stroke="#e4e4e4" stroke-width="0.7"/>
<path d="M324.8 117.6L437.8 85.3" stroke="#e4e4e4" stroke-width="0.7"/>
<path d="M437.8 85.3L524.5 126.6" stroke="#e4e4e4" stroke-width="0.7"/>
<path d="M324.8 79L437.8 46.7" stroke="#e4e4e4" stroke-width="0.7"/>
<path d="M437.8 46.7L524.5 88" stroke="#e4e4e4" stroke-width="0.7"/>
<path d="M324.8 40.5L437.8 8.2" stroke="#e4e4e4" stroke-width="0.7"/>
<path d="M437.8 8.2L524.5 49.5" stroke="#e4e4e4" stroke-width="0.7"/></g>
<g stroke="#000" stroke-width="0.55" stroke-opacity="1" stroke-linejoin="round"><path fill="#eeb73b" d="M440.8 59l2.3.1-1.7-.1-2.3 0z"/><path fill="#fbcd32" d="M457 59.4l2.2-.2-1.7.3-2.3 0z"/><path fill="#f9d42e" d="M473.5 57.1l2.2-.5-1.7.5-2.3.4z"/><path fill="#f9d42e" d="M475.7 56.6l2.3-.4-1.7.5-2.3.4z"/><path fill="#f9d42e" d="M478 56.2l2.3-.6-1.8.6-2.2.5z"/><path fill="#f9d42e" d="M480.3 55.6l2.2-.5-1.7.6-2.3.5z"/><path fill="#b6c436" d="M457.7 59.3l2.3-.1-1.8.2-2.2.1z"/><path fill="#f9d42e" d="M484.8 54.4l2.2-.6-1.7.6-2.3.7z"/><path fill="#f9d42e" d="M487 53.8l2.3-.7-1.7.6-2.3.7z"/><path fill="#fbcd32" d="M485.3 54.4l2.3-.7-1.8.8-2.2.8z"/><path fill="#f9d42e" d="M489.3 53.1l2.3-.8-1.8.6-2.2.8z"/><path fill="#fbcd32" d="M487.6 53.7l2.2-.8-1.7.8-2.3.8z"/></g>
<g stroke-width="0.5" stroke-linejoin="round"><path fill="#3e26a8" stroke="#3e26a8" d="M387.2 161l7 3.9 17.3 8.3 24.9-7.3 4.5-1.7 4.5-2.1-5.2-2.7-3.5-2-2.2 1.3-3.5-2.1-2.3 1.2-3.4-2.3-2.3 1.2-3.5-2.5-2.2 1.3-1.7-1.4-2.3 1.2-1.7-1.4-4.6 2.1-1.7-1.3-2.3 1-1.7-1.5-6.8 2.7-1.7-1.5-9 3z"/>
<path fill="#402ab4" stroke="#402ab4" d="M436.7 157.4l3.5 2 5.2 2.7 2.3-1.5 2.2-1.9-5.2-2.8-2.2 2-3.5-2.2-3.5-2.6-2.2 1.9-3.5-2.8-2.3 1.8-3.4-3.2-2.3 1.9-1.7-1.7-2.3 1.7-1.7-1.8-2.3 1.6-1.7-1.8-2.3 1.5-1.7-2-4.5 2.8-1.8-1.9-4.5 2.4-1.7-2-4.5 2.1-6.8 2.5-1.8-2.1-2.2.7 1.7 2.1 1.8 1.6 9-3 1.7 1.5 6.8-2.7 1.7 1.5 2.3-1 1.7 1.3 4.6-2.1 1.7 1.4 2.3-1.2 1.7 1.4 2.2-1.3 3.5 2.5 2.3-1.2 3.4 2.3 2.3-1.2 3.5 2.1z"/>
<path fill="#412fbf" stroke="#412fbf" d="M437.3 154.5l5.2 3.4 2.2-2-3.5-2.4-3.4-2.9-2.3 2.5zM380.3 154.7l2.2-.7 1.8 2.1 6.8-2.5 4.5-2.1-1.8-2.6-4.5 2.5-6.8 2.6-1.7-2.6-2.2.7zM448.2 157.9l1.7.8 2.3-2.4-5.2-3-2.3 2.6zM395.6 151.5l1.7 2 4.5-2.4 1.8 1.9 4.5-2.8-1.7-2.4-4.6 3.3-1.7-2.4zM427.5 154l2.3-1.8-3.5-3.7-2.2 2.3-1.8-2-2.2 2.2-1.8-2.1-2.2 2-1.8-2.1-2.2 1.9 1.7 1.8 2.3-1.6 1.7 1.8 2.3-1.7 1.7 1.7 2.3-1.9zM408.1 150.2l1.7 2 2.3-1.5-1.7-2.3zM435.5 153.1l-3.4-3.3-2.3 2.4 3.5 2.8z"/>
<path fill="#4333ca" stroke="#4333ca" d="M410.4 148.4l1.7 2.3 2.2-1.9-1.7-2.6zM410.4 148.4l-1.8-2.7-2.2 2.1 1.7 2.4zM398.4 145.6l-4.6 3.3 1.8 2.6 4.5-2.8 1.7 2.4 4.6-3.3-1.8-3-2.2 2.1-2.3 1.8zM437.8 150.6l-3.5-3.8-2.2 3-3.5-4.3-2.3 3 3.5 3.7 2.3-2.4 3.4 3.3zM426.3 148.5l-1.7-2.3-2.3 2.6-1.7-2.3-2.3 2.4 1.8 2.1 2.2-2.2 1.8 2zM445.2 152l-3.4-2.9-2.3 3 5.2 3.8 2.3-2.6zM414.3 148.8l1.8 2.1 2.2-2-1.7-2.4zM385.3 149.6l-4.5 1.8 1.7 2.6 4.6-1.6 4.5-2.2-1.7-3z"/>
<path fill="#4537d5" stroke="#4537d5" d="M439.5 152.1l2.3-3-3.5-3.9-2.3 3.6zM452.7 152.1l-3.5-2.2-1.7-1.4-2.3 3.5 3.5 2.4 3.5 1.9 2.2-3.3zM400.6 143.6l-2.2 2 1.7 3.1 2.3-1.8zM422.3 148.8l2.3-2.6 1.7 2.3 2.3-3-1.7-2.7-2.3 3.4-1.7-2.7-2.3 3-1.7-2.8-2.3 2.8-1.7-2.9-2.3 2.6-1.7-3.1-2.3 2.6-1.7-3.3-2.3 2.4 1.8 3 2.2-2.1 1.8 2.7 2.2-2.2 1.7 2.6 2.3-2.3 1.7 2.4 2.3-2.4zM432.1 149.8l2.2-3-1.7-2.3-2.3 3.3zM380.8 151.4l4.5-1.8 2.3-1.1-1.7-3.6-4.6 2.3-4.5 1.6 1.8 3.3zM389.9 147.2l1.7 3 4.5-2.8-1.7-3.5z"/>
<path fill="#463cdc" stroke="#463cdc" d="M436.6 142.9l-2.3 3.9 1.7 2 2.3-3.6zM443.5 150.6l1.7 1.4 2.3-3.5-3.5-3.4-2.2 4zM410.9 143.1l1.7 3.1 2.3-2.6-1.8-3.5zM410.9 143.1l-1.8-3.7-2.2 3 1.7 3.3zM402.9 141.2l-2.3 2.4 1.8 3.3 2.2-2.1zM432.6 144.5l-1.8-2.7-2.2 3.7 1.7 2.3zM394.4 143.9l1.7 3.5 2.3-1.8-1.8-3.7zM416.6 146.5l2.3-2.8-1.8-3.3-2.2 3.2zM389.9 147.2l2.2-1.5-1.7-4-4.5 3.2 1.7 3.6zM421.1 140.2l-2.2 3.5 1.7 2.8 2.3-3z"/>
<path fill="#4642e3" stroke="#4642e3" d="M453.2 146.7l-1.7-1.3-2.3 4.5 1.8 1.2 3.4 1.9 2.3-4.2zM404.6 144.8l2.3-2.4-1.8-4.1-2.2 2.9zM392.6 139.6l-2.2 2.1 1.7 4 2.3-1.8zM425.1 139.7l-2.2 3.8 1.7 2.7 2.3-3.4 1.7 2.7 2.2-3.7-1.7-3.1-2.2 4.1zM381.3 147.2l2.3-1.1-1.7-4.4-2.3 1.2-4.5 1.8 1.7 4.1zM438.3 145.2l3.5 3.9 2.2-4-3.4-4.4zM398.4 145.6l2.2-2-1.7-4.1-2.3 2.4zM434.3 146.8l2.3-3.9-1.8-2.6-2.2 4.2z"/>
<path fill="#4747ea" stroke="#4747ea" d="M394.4 143.9l2.2-2-1.7-4.6-2.3 2.3zM405.1 138.3l1.8 4.1 2.2-3 1.8 3.7 2.2-3-1.7-4.2-2.3 3.5-1.7-4.5zM402.9 141.2l-1.7-4.5-2.3 2.8 1.7 4.1zM384.1 140.3l-2.2 1.4 1.7 4.4 4.5-2.7-1.7-4.8zM440.6 140.7l-1.8-2.6-2.2 4.8 1.7 2.3zM413.1 140.1l1.8 3.5 2.2-3.2 1.8 3.3 2.2-3.5 1.8 3.3 2.2-3.8-1.7-3.6-2.3 4.1-1.7-3.7-2.3 3.9-1.7-4zM451.5 145.4l-3.5-3.3-2.2 4.8 3.4 3zM430.8 141.8l1.8 2.7 2.2-4.2-1.7-3.1z"/>
<path fill="#474df0" stroke="#474df0" d="M444.6 137.8l-2.3 5.3 3.5 3.8 2.2-4.8zM394.9 137.3l1.7 4.6 2.3-2.4-1.7-5zM427.4 135.2l-2.3 4.5 1.8 3.1 2.2-4.1zM401.2 136.7l1.7 4.5 2.2-2.9-1.7-4.9zM388.6 136.7l-2.2 1.9 1.7 4.8 2.3-1.7z"/>
<path fill="#4752f3" stroke="#4752f3" d="M397.2 134.5l1.7 5 2.3-2.8-1.8-5.3zM411.4 135.9l1.7 4.2 2.3-3.7 1.7 4 2.3-3.9 1.7 3.7 2.3-4.1-1.8-4.3-2.2 4.7-1.7-4.4-2.3 4.3-1.7-4.6zM411.4 135.9l-1.7-4.9-2.3 3.9 1.7 4.5zM377.9 137.6l-4.5 1.8 1.7 5.3 4.5-1.8 4.5-2.6-1.7-5.5zM434.8 140.3l1.8 2.6 2.2-4.8-1.7-3zM442.3 143.1l2.3-5.3-1.8-2.6-2.2 5.5zM455 147.9l1.7.9 2.3-5.4-3.5-2.2-1.7-1.4-2.3 5.6zM390.4 141.7l2.2-2.1-1.7-5.2-2.3 2.3zM430.8 141.8l2.3-4.6-1.7-3.5-2.3 5z"/>
<path fill="#4658f6" stroke="#4658f6" d="M392.6 139.6l2.3-2.3-1.7-5.6-2.3 2.7zM384.7 132.9l-2.3 1.9 1.7 5.5 2.3-1.7zM403.4 133.4l1.7 4.9 2.3-3.4-1.7-5.2zM423.4 136.1l1.7 3.6 2.3-4.5-1.8-4.1zM450.3 136.2l-2.3 5.9 3.5 3.3 2.3-5.6zM437.1 135.1l-1.7-3.5-2.3 5.6 1.7 3.1z"/>
<path fill="#465efa" stroke="#465efa" d="M441.1 132.2l-2.3 5.9 1.8 2.6 2.2-5.5zM419.9 127.1l-2.2 5 1.7 4.4 2.2-4.7zM388.6 136.7l-1.7-6-2.2 2.2 1.7 5.7zM417.7 132.1l-1.8-5-2.2 4.7 1.7 4.6zM394.9 137.3l2.3-2.8-1.8-5.8-2.2 3zM401.7 127.8l-2.3 3.6 1.8 5.3 2.2-3.3zM429.6 129.7l-2.2 5.5 1.7 3.5 2.3-5zM450.3 136.2l-1.7-2.2-2.3 6.1 1.7 2z"/>
<path fill="#4563fd" stroke="#4563fd" d="M439.4 128.9l-2.3 6.2 1.7 3 2.3-5.9zM435.4 131.6l-1.8-3.8-2.2 5.9 1.7 3.5zM423.4 136.1l2.2-5-1.7-4.6-2.3 5.3zM386.9 130.7l1.7 6 2.3-2.3-1.7-6.2zM377.9 137.6l-1.8-6.3-2.2 1.1-2.3.8 1.8 6.2zM409.7 131l1.7 4.9 2.3-4.1-1.8-5.3zM409.7 131l-1.8-5.6-2.2 4.3 1.7 5.2zM446.8 131.5l-2.2 6.3 1.7 2.3 2.3-6.1z"/>
<path fill="#4169fd" stroke="#4169fd" d="M459.5 135.8l-3.5-2.7-2.2 6.7 1.7 1.4 3.5 2.2 2.2-6.6zM429.6 129.7l-1.7-4.4-2.3 5.8 1.8 4.1zM397.7 125.2l-2.3 3.5 1.8 5.8 2.2-3.1zM391.4 125.3l-2.2 2.9 1.7 6.2 2.3-2.7zM380.7 128.2l-2.3 1.7-2.3 1.4 1.8 6.3 4.5-2.8zM446.8 131.5l-1.7-2.9-2.3 6.6 1.8 2.6zM405.7 129.7l-1.8-6-2.2 4.1 1.7 5.6z"/>
<path fill="#3d6ffe" stroke="#3d6ffe" d="M437.1 135.1l2.3-6.2-1.8-3.7-2.2 6.4zM411.9 126.5l1.8 5.3 2.2-4.7-1.7-5.6zM419.9 127.1l-1.7-5.4-2.3 5.4 1.8 5zM431.4 133.7l2.2-5.9-1.7-4.2-2.3 6.1zM384.7 132.9l-1.8-6.7-2.2 2 1.7 6.6zM453.8 139.8l2.2-6.7-3.4-3.9-2.3 7z"/>
<path fill="#3875fe" stroke="#3875fe" d="M423.9 126.5l1.7 4.6 2.3-5.8-1.7-4.8zM423.9 126.5l-1.7-5.1-2.3 5.7 1.7 4.7zM382.9 126.2l1.8 6.7 2.2-2.2-1.7-6.8zM450.8 126.9l-2.2 7.1 1.7 2.2 2.3-7zM407.9 125.4l1.8 5.6 2.2-4.5-1.7-5.9zM395.4 128.7l-1.7-6.6-2.3 3.2 1.8 6.4zM441.1 132.2l1.7 3 2.3-6.6-1.7-3.2zM397.7 125.2l1.7 6.2 2.3-3.6-1.8-6.4z"/>
<path fill="#337cfc" stroke="#337cfc" d="M403.9 123.7l1.8 6 2.2-4.3-1.7-6.2zM433.6 127.8l1.8 3.8 2.2-6.4-1.7-4.1zM448.6 134l2.2-7.1-1.7-2.7-2.3 7.3zM439.4 128.9l1.7 3.3 2.3-6.8-1.8-3.5zM385.2 123.9l1.7 6.8 2.3-2.5-1.8-7z"/>
<path fill="#3081fa" stroke="#3081fa" d="M397.7 125.2l-1.7-6.8-2.3 3.7 1.7 6.6zM371.6 133.2l2.3-.8 2.2-1.1 2.3-1.4-1.7-7.2-2.3 1.4-2.3 1.2-2.2.8zM401.7 127.8l2.2-4.1-1.7-6.5-2.3 4.2zM430.2 118.9l-2.3 6.4 1.7 4.4 2.3-6.1z"/>
<path fill="#2e87f7" stroke="#2e87f7" d="M412.5 115.5l-2.3 5.1 1.7 5.9 2.3-5zM433.6 127.8l2.3-6.7-1.7-4.3-2.3 6.8zM457.8 134.6l3.4 2.2 2.3-7.5-3.5-2.3-1.7-1.5-2.3 7.6zM378.9 120.9l-2.2 1.8 1.7 7.2 2.3-1.7zM437.6 125.2l1.8 3.7 2.2-7-1.7-3.8zM449.1 124.2l-1.8-2.9-2.2 7.3 1.7 2.9zM420.4 115.9l-2.2 5.8-1.8-5.7-2.2 5.5 1.7 5.6 2.3-5.4 1.7 5.4 2.3-5.7zM387.4 121.2l1.8 7 2.2-2.9-1.7-7.1z"/>
<path fill="#2d8cf3" stroke="#2d8cf3" d="M454.3 131.3l1.7 1.8 2.3-7.6-3.5-4-2.2 7.7zM398.2 114.5l-2.2 3.9 1.7 6.8 2.2-3.8zM445.6 118l-2.2 7.4 1.7 3.2 2.2-7.3zM422.2 121.4l1.7 5.1 2.3-6-1.8-5.2zM406.2 119.2l1.7 6.2 2.3-4.8-1.7-6.3zM382.9 126.2l-1.7-7.4-2.3 2.1 1.8 7.3z"/>
<path fill="#2b91ef" stroke="#2b91ef" d="M430.2 118.9l-1.8-4.9-2.2 6.5 1.7 4.8zM453.1 119.1l-2.3 7.8 1.8 2.3 2.2-7.7zM402.2 117.2l1.7 6.5 2.3-4.5-1.7-6.6zM389.7 118.2l1.7 7.1 2.3-3.2-1.7-7.2zM381.2 118.8l1.7 7.4 2.3-2.3-1.8-7.5z"/>
<path fill="#2896eb" stroke="#2896eb" d="M385.2 123.9l2.2-2.7-1.7-7.5-2.3 2.7zM441.6 121.9l1.8 3.5 2.2-7.4-1.7-3.5zM434.2 116.8l-1.8-4.7-2.2 6.8 1.7 4.7zM437.6 125.2l2.3-7.1-1.7-4.1-2.3 7.1z"/>
<path fill="#259be8" stroke="#259be8" d="M420.4 115.9l1.8 5.5 2.2-6.1-1.7-5.5zM420.4 115.9l-1.7-5.7-2.3 5.8-1.7-6-2.2 5.5-1.8-6.3-2.2 5.1 1.7 6.3 2.3-5.1 1.7 6 2.2-5.5 1.8 5.7zM374.9 115l-2.2 1.4-2.3 1.2-2.2.8 1.7 7.7 2.2-.8 2.3-1.2 2.3-1.4zM393.7 122.1l2.3-3.7-1.8-7.1-2.2 3.6zM399.9 121.4l2.3-4.2-1.7-6.9-2.3 4.2zM450.8 126.9l2.3-7.8-1.8-2.7-2.2 7.8z"/>
<path fill="#23a0e5" stroke="#23a0e5" d="M387.4 121.2l2.3-3-1.7-7.5-2.3 3zM435.9 121.1l2.3-7.1-1.8-4.3-2.2 7.1zM404.5 112.6l1.7 6.6 2.3-4.9-1.8-6.5zM426.2 120.5l2.2-6.5-1.7-5.2-2.3 6.5zM463.5 129.3l2.2-8.2-3.4-2.2-2.3 8.1zM377.2 113.2l-2.3 1.8 1.8 7.7 2.2-1.8zM447.3 121.3l1.8 2.9 2.2-7.8-1.7-2.9z"/>
<path fill="#20a5e2" stroke="#20a5e2" d="M428.4 114l1.8 4.9 2.2-6.8-1.7-4.8zM443.9 114.5l-1.8-3.8-2.2 7.4 1.7 3.8zM398.2 114.5l-1.7-7.1-2.3 3.9 1.8 7.1zM462.3 118.9l-3.5-3.3-2.3 8 3.5 3.4zM379.4 111.1l-2.2 2.1 1.7 7.7 2.3-2.1z"/>
<path fill="#1ca9df" stroke="#1ca9df" d="M379.4 111.1l1.8 7.7 2.2-2.4-1.7-7.6zM389.7 118.2l2.3-3.3-1.8-7.4-2.2 3.2zM402.2 117.2l2.3-4.6-1.8-6.8-2.2 4.5zM454.8 121.5l1.7 2.1 2.3-8-1.7-2.1zM445.6 118l1.7 3.3 2.3-7.8-1.7-3.2z"/>
<path fill="#17addb" stroke="#17addb" d="M418.7 110.2l1.7 5.7 2.3-6.1-1.7-5.6zM418.7 110.2l-1.7-5.9-2.3 5.7 1.7 6zM381.7 108.8l1.7 7.6 2.3-2.7-1.7-7.5zM434.2 116.8l2.2-7.1-1.7-4.5-2.3 6.9zM439.9 118.1l2.2-7.4-1.7-4-2.2 7.3zM413 103.9l-2.3 5.3 1.8 6.3 2.2-5.5zM426.7 108.8l-1.7-5.2-2.3 6.2 1.7 5.5zM457.1 113.5l-1.8-2.4-2.2 8 1.7 2.4z"/>
<path fill="#10b1d6" stroke="#10b1d6" d="M406.7 107.8l1.8 6.5 2.2-5.1-1.7-6.4zM398.7 103.4l-2.2 4 1.7 7.1 2.3-4.2zM392.5 104l-2.3 3.5 1.8 7.4 2.2-3.6zM447.9 110.3l-1.8-3.4-2.2 7.6 1.7 3.5zM366.4 110.6l1.8 7.8 2.2-.8 2.3-1.2-1.8-7.8-2.2 1.2zM451.3 116.4l1.8 2.7 2.2-8-1.7-2.5z"/>
<path fill="#09b5d0" stroke="#09b5d0" d="M385.7 113.7l2.3-3-1.8-7.4-2.2 2.9zM406.7 107.8l-1.7-6.5-2.3 4.5 1.8 6.8zM370.9 108.6l1.8 7.8 2.2-1.4-1.7-7.8zM429 102.4l-2.3 6.4 1.7 5.2 2.3-6.7z"/>
<path fill="#03b8ca" stroke="#03b8ca" d="M440.4 106.7l-1.7-4-2.3 7 1.8 4.3zM465.7 121.1l2.3-8.1-3.5-2.2-2.2 8.1zM449.6 113.5l1.7 2.9 2.3-7.8-1.7-2.8zM433 100.7l-2.3 6.6 1.7 4.8 2.3-6.9zM379.4 111.1l-1.7-7.6-4.5 3.7 1.7 7.8zM396.5 107.4l-1.8-7-2.2 3.6 1.7 7.3zM442.1 110.7l1.8 3.8 2.2-7.6-1.7-3.5z"/>
<path fill="#05bac3" stroke="#05bac3" d="M460.5 117.4l1.8 1.5 2.2-8.1-3.4-3.2-2.3 8zM411.2 97.9l-2.2 4.9 1.7 6.4 2.3-5.3 1.7 6.1 2.3-5.7-1.8-5.7-2.2 5.3zM425 103.6l-1.8-5.2-2.2 5.8 1.7 5.6zM401 99.2l-2.3 4.2 1.8 6.9 2.2-4.5zM421 104.2l-1.8-5.5-2.2 5.6 1.7 5.9zM390.2 107.5l-1.7-7.2-2.3 3 1.8 7.4z"/>
<path fill="#0ebdbc" stroke="#0ebdbc" d="M407.3 96.7l-2.3 4.6 1.7 6.5 2.3-5zM447.9 110.3l1.7 3.2 2.3-7.7-1.8-3zM442.1 110.7l2.3-7.3-1.7-3.7-2.3 7zM429 102.4l-1.8-4.9-2.2 6.1 1.7 5.2zM458.8 115.6l2.3-8-1.8-1.9-2.2 7.8zM377.7 103.5l1.7 7.6 2.3-2.3-1.7-7.5zM436.4 109.7l2.3-7-1.8-4.1-2.2 6.6z"/>
<path fill="#18bfb6" stroke="#18bfb6" d="M455.3 111.1l1.8 2.4 2.2-7.8-1.7-2.2zM390.8 97.1l-2.3 3.2 1.7 7.2 2.3-3.5zM380 101.3l1.7 7.5 2.3-2.6-1.8-7.3zM396.5 107.4l2.2-4-1.7-6.7-2.3 3.7z"/>
<path fill="#23c1ae" stroke="#23c1ae" d="M364.7 103.1l1.7 7.5 2.3-.8 2.2-1.2-1.7-7.4-2.3 1.1zM429 102.4l1.7 4.9 2.3-6.6-1.8-4.5zM455.3 111.1l2.3-7.6-1.7-2.4-2.3 7.5zM450.1 102.8l-1.7-3.1-2.3 7.2 1.8 3.4zM403.3 95.1l-2.3 4.1 1.7 6.6 2.3-4.5z"/>
<path fill="#2bc4a7" stroke="#2bc4a7" d="M386.2 103.3l-1.7-7-2.3 2.6 1.8 7.3zM371.5 99.8l-2.3 1.4 1.7 7.4 4.6-3.1-1.8-7.3zM417 104.3l2.2-5.6-1.7-5.2-2.3 5.1-1.7-5.5-2.3 4.8 1.8 6 2.2-5.3zM393 93.9l-2.2 3.2 1.7 6.9 2.2-3.6zM435.2 94.5l-2.2 6.2 1.7 4.5 2.2-6.6zM442.7 99.7l-1.8-3.6-2.2 6.6 1.7 4zM419.2 98.7l1.8 5.5 2.2-5.8-1.7-5z"/>
<path fill="#31c69f" stroke="#31c69f" d="M425.5 92.8l-2.3 5.6 1.8 5.2 2.2-6.1zM401 99.2l-1.7-6.2-2.3 3.7 1.7 6.7zM444.4 103.4l1.7 3.5 2.3-7.2-1.7-3.2zM470.3 105.4l-3.5-2.1-2.3 7.5 3.5 2.2zM375.5 105.5l2.2-2-1.7-7.1-2.3 1.8zM386.8 93.5l-2.3 2.8 1.7 7 2.3-3zM453.6 108.6l2.3-7.5-1.8-2.5-2.2 7.2zM409.5 92.3l-2.2 4.4 1.7 6.1 2.2-4.9z"/>
<path fill="#38c897" stroke="#38c897" d="M405 101.3l2.3-4.6-1.8-5.7-2.2 4.1zM464.5 110.8l2.3-7.5-3.5-3-2.2 7.3zM452.4 95.9l-2.3 6.9 1.8 3 2.2-7.2zM376 96.4l1.7 7.1 2.3-2.2-1.8-6.9zM427.2 97.5l1.8 4.9 2.2-6.2-1.7-4.3z"/>
<path fill="#40ca8e" stroke="#40ca8e" d="M399.3 93l1.7 6.2 2.3-4.1-1.8-5.7zM389 90.7l-2.2 2.8 1.7 6.8 2.3-3.2zM435.2 94.5l-1.7-4-2.3 5.7 1.8 4.5zM395.3 90.6l-2.3 3.3 1.7 6.5 2.3-3.7zM436.9 98.6l1.8 4.1 2.2-6.6-1.7-3.7zM444.9 93.3l-2.2 6.4 1.7 3.7 2.3-6.9zM382.2 98.9l-1.7-6.7-2.3 2.2 1.8 6.9zM461.6 98.5l-2.3 7.2 1.8 1.9 2.2-7.3z"/>
<path fill="#4acb84" stroke="#4acb84" d="M459.9 96.5l-2.3 7 1.7 2.2 2.3-7.2zM417.5 93.5l-1.7-4.9-2.3 4.5-1.7-5.1-2.3 4.3 1.7 5.6 2.3-4.8 1.7 5.5zM417.5 93.5l1.7 5.2 2.3-5.3-1.7-4.7zM366.9 102.3l-1.7-6.8-2.3.8 1.8 6.8zM452.4 95.9l-1.7-2.7-2.3 6.5 1.7 3.1zM423.2 98.4l2.3-5.6-1.7-4.4-2.3 5z"/>
<path fill="#57cc7a" stroke="#57cc7a" d="M439.2 92.4l-1.7-3.6-2.3 5.7 1.7 4.1zM382.8 89.9l-2.3 2.3 1.7 6.7 2.3-2.6zM397.5 87.4l-2.2 3.2 1.7 6.1 2.3-3.7zM455.9 101.1l1.7 2.4 2.3-7-1.8-2.1zM407.8 87.1l-2.3 3.9 1.8 5.7 2.2-4.4zM440.9 96.1l1.8 3.6 2.2-6.4-1.7-3.2zM390.8 97.1l2.2-3.2-1.7-6-2.3 2.8zM427.7 87.7l-2.2 5.1 1.7 4.7 2.3-5.6zM369.2 101.2l2.3-1.4-1.8-6.6-4.5 2.3 1.7 6.8z"/>
<path fill="#64cd70" stroke="#64cd70" d="M403.8 85.9l-2.3 3.5 1.8 5.7 2.2-4.1zM429.5 91.9l1.7 4.3 2.3-5.7-1.8-3.8zM384.5 96.3l2.3-2.8-1.8-6-2.2 2.4zM450.7 93.2l-1.8-2.8-2.2 6.1 1.7 3.2zM454.1 98.6l1.8 2.5 2.2-6.7-1.7-2.2zM369.7 93.2l1.8 6.6 4.5-3.4-1.8-6.3z"/>
<path fill="#70cd67" stroke="#70cd67" d="M469.1 96.6l-1.8-1.3-2.2 6.6 3.4 2.5 1.8 1 2.2-6.8zM374.2 90.1l1.8 6.3 2.2-2-1.7-6.1z"/>
<path fill="#7dcc5d" stroke="#7dcc5d" d="M463.3 100.3l1.8 1.6 2.2-6.6-1.7-1.4zM415.8 88.6l-1.8-4.5-2.2 3.9 1.7 5.1zM415.8 88.6l1.7 4.9 2.3-4.8 1.7 4.7 2.3-5 1.7 4.4 2.2-5.1-1.7-3.8-2.2 4.5-1.8-4.1-2.2 4.4-1.8-4.3zM454.7 89.9l-2.3 6 1.7 2.7 2.3-6.4zM378.8 86.3l-2.3 2 1.7 6.1 2.3-2.2zM385 87.5l1.8 6 2.2-2.8-1.7-5.6zM399.3 93l2.2-3.6-1.7-5.1-2.3 3.1zM391.3 87.9l1.7 6 2.3-3.3-1.8-5.5zM443.2 90.1l-1.7-3.2-2.3 5.5 1.7 3.7zM410 83.5l-2.2 3.6 1.7 5.2 2.3-4.3zM435.7 85.4l-2.2 5.1 1.7 4 2.3-5.7zM447.2 87.6l-2.3 5.7 1.8 3.2 2.2-6.1z"/>
<path fill="#89cb55" stroke="#89cb55" d="M407.8 87.1l-1.8-4.5-2.2 3.3 1.7 5.1zM431.7 86.7l-1.7-3.5-2.3 4.5 1.8 4.2zM463.8 92.3l-1.7-1.8-2.2 6 3.4 3.8 2.3-6.4zM365.7 88.6l-4.5 1.9 1.7 5.8 4.6-1.8zM452.9 87.6l-2.2 5.6 1.7 2.7 2.3-6z"/>
<path fill="#95ca4c" stroke="#95ca4c" d="M458.1 94.4l1.8 2.1 2.2-6-1.7-1.8zM395.8 82.4l-2.3 2.7 1.8 5.5 2.2-3.2zM437.5 88.8l1.7 3.6 2.3-5.5-1.8-3zM380.5 92.2l2.3-2.3-1.8-5.6-2.2 2zM444.9 93.3l2.3-5.7-1.7-2.7-2.3 5.2zM367.5 94.5l4.5-2.8-1.7-5.6-4.6 2.5zM389 90.7l2.3-2.8-1.8-5.2-2.2 2.4zM401.5 89.4l2.3-3.5-1.8-4.6-2.2 3z"/>
<path fill="#a1c844" stroke="#a1c844" d="M434 82.2l-2.3 4.5 1.8 3.8 2.2-5.1zM451.2 85.2l-2.3 5.2 1.8 2.8 2.2-5.6zM418 84.4l-1.7-3.9-2.3 3.6-1.7-3.9-2.3 3.3 1.8 4.5 2.2-3.9 1.8 4.5zM418 84.4l1.8 4.3 2.2-4.4-1.7-3.7zM372 91.7l2.2-1.6-1.7-5.5-2.2 1.5zM422 84.3l1.8 4.1 2.2-4.5-1.7-3.5zM458.6 86.8l-2.2 5.4 1.7 2.2 2.3-5.7zM381 84.3l1.8 5.6 2.2-2.4-1.7-5.2z"/>
<path fill="#acc63d" stroke="#acc63d" d="M385 87.5l2.3-2.4-1.8-4.9-2.2 2.1zM437.5 88.8l2.2-4.9-1.7-2.8-2.3 4.3zM374.8 83l-2.3 1.6 1.7 5.5 2.3-1.8zM471.3 91l-1.7-1.2-2.3 5.5 3.5 2.4 1.7.9 2.3-5.7zM443.7 82.3l-2.2 4.6 1.7 3.2 2.3-5.2zM458.6 86.8l-1.7-2-2.2 5.1 1.7 2.3zM449.5 82.8l-2.3 4.8 1.7 2.8 2.3-5.2zM410 83.5l-1.7-4-2.3 3.1 1.8 4.5zM430 83.2l-1.7-3.2-2.3 3.9 1.7 3.8zM398.1 79.8l-2.3 2.6 1.7 5 2.3-3.1zM391.8 80.4l-2.3 2.3 1.8 5.2 2.2-2.8z"/>
<path fill="#b6c436" stroke="#b6c436" d="M434 82.2l-1.7-2.9-2.3 3.9 1.7 3.5zM466.1 87.1l-2.3 5.2 3.5 3 2.3-5.5zM378.8 86.3l-1.8-5-2.2 1.7 1.7 5.3zM460 59.2l1.7 0 2.3-.2 1.7.1 6.8-1.4-1.8 0-6.2 1zM361.7 84.7l-2.2.8 1.7 5 2.3-.9zM393.5 85.1l2.3-2.7-1.7-4.3-2.3 2.3zM404.3 78.6l-2.3 2.7 1.8 4.6 2.2-3.3z"/>
<path fill="#c1c231" stroke="#c1c231" d="M466.1 87.1l-1.7-1.5-2.3 4.9 1.7 1.8zM452.9 87.6l1.8 2.3 2.2-5.1-1.7-2zM439.7 83.9l1.8 3 2.2-4.6-1.7-2.6zM378.8 86.3l2.2-2-1.7-4.8-2.3 1.8zM467.4 59.4l1.8.3 6.7-1.9-3.4-.1-6.8 1.4-1.7-.1-2.3.2-6.2.2 3.9 0 1.8.2 2.2-.2 1.8.3zM412.3 80.2l1.7 3.9 2.3-3.6-1.7-3.3zM412.3 80.2l-1.7-3.5-2.3 2.8 1.7 4zM389.5 82.7l-1.7-4.5-2.3 2 1.8 4.9zM383.6 56.6l-2.3-.6 1.7.5 2.3.5zM400.3 77.4l-2.2 2.4 1.7 4.5 2.2-3zM428.3 80l-1.8-2.9-2.2 3.3 1.7 3.5zM447.2 87.6l2.3-4.8-1.8-2.2-2.2 4.3zM363.5 89.6l2.2-1 4.6-2.5-1.8-4.7-4.5 2.4-2.3.9zM422.5 77.3l-2.2 3.3 1.7 3.7 2.3-3.9zM416.3 80.5l1.7 3.9 2.3-3.8-1.7-3.2zM436.3 78.4l-2.3 3.8 1.7 3.2 2.3-4.3z"/>
<path fill="#cbc02d" stroke="#cbc02d" d="M381.3 56l-2.3-.5 1.8.5 2.2.5 1.8.4 2.2.5-1.7-.4-2.3-.5zM475.9 57.8l-6.7 1.9-1.8-.3-2.2.3-1.8-.3-2.2.2-1.8-.2-8.5 0 8 .3 3.5.7 2.2-.1 1.8.2 4.5-.7 2.3-.5 4.5-1.5zM453.4 80.8l-2.2 4.4 1.7 2.4 2.3-4.8zM460.9 82.3l-2.3 4.5 3.5 3.7 2.3-4.9zM432.3 79.3l-1.8-2.7-2.2 3.4 1.7 3.2zM389.5 82.7l2.3-2.3-1.7-4.1-2.3 1.9zM394.1 78.1l1.7 4.3 2.3-2.6-1.8-3.8zM379.3 79.5l1.7 4.8 2.3-2-1.7-4.5zM406.6 76.1l-2.3 2.5 1.7 4 2.3-3.1zM372.5 84.6l-1.7-4.6-2.3 1.4 1.8 4.7z"/>
<path fill="#d4be2d" stroke="#d4be2d" d="M438 81.1l1.7 2.8 2.3-4.2-1.7-2.3zM402 81.3l2.3-2.7-1.7-3.4-2.3 2.2zM383.8 76.1l-2.2 1.7 1.7 4.5 2.2-2.1zM384.2 56.8l4 .8-11.4-2.6zM469.6 89.8l5.2 3.1 2.2-4.6-5.2-3zM456.9 84.8l1.7 2 2.3-4.5-1.7-1.6zM454.4 59.7l7.5.9 4.5-.1-1.8-.2-2.2.1-3.5-.7-8.5-.3zM372.5 84.6l4.5-3.3-1.7-4.2-4.5 2.9zM414.6 77.2l1.7 3.3 2.3-3.1-1.8-2.9zM414.6 77.2l-1.8-2.9-2.2 2.4 1.7 3.5zM472.6 59.7l2.3-.6 4.5-1.5-1.7.2-4.5 1.5-2.3.5-4.5.7 1.7-.1zM451.2 85.2l2.2-4.4-1.7-1.9-2.2 3.9zM447.7 80.6l-1.7-2.2-2.3 3.9 1.8 2.6zM420.8 74.6l-2.2 2.8 1.7 3.2 2.2-3.3zM432.3 79.3l1.7 2.9 2.3-3.8-1.8-2.5z"/>
<path fill="#ddbb2f" stroke="#ddbb2f" d="M460.1 60.4l-5.7-.7-6.3-.4 11.5 1.2 4 .1 4.5-.2-6.2.2zM392.3 74.5l-2.2 1.8 1.7 4.1 2.3-2.3zM430.5 76.6l-1.7-2.4-2.3 2.9 1.8 2.9zM459.2 80.7l-1.8-1.7-2.2 3.8 1.7 2zM396.3 76l1.8 3.8 2.2-2.4-1.7-3.3zM408.3 79.5l2.3-2.8-1.8-2.9-2.2 2.3zM426.5 77.1l-1.7-2.6-2.3 2.8 1.8 3.1zM470.1 84.1l-1.7-1.2-2.3 4.2 3.5 2.7 2.2-4.5zM386 57.2l-11.5-2.6 3.5.9zM385.5 80.2l2.3-2-1.7-3.8-2.3 1.7zM478.9 58l2.3-.9-6.3 2-4.5 1 4-.8zM357.7 81.5l1.8 4 2.2-.8 4.6-2.1-1.8-3.9zM438 81.1l2.3-3.7-1.8-2.2-2.2 3.2zM442 79.7l1.7 2.6 2.3-3.9-1.8-2.1zM404.3 78.6l2.3-2.5-1.8-3-2.2 2.1zM375.3 77.1l1.7 4.2 2.3-1.8-1.7-4zM450 77l-2.3 3.6 1.8 2.2 2.2-3.9z"/>
<path fill="#e6b934" stroke="#e6b934" d="M383.7 56.7l-1.7-.3-1.8-.5-2.2-.4 1.7.4 1.8.4zM383.7 56.7l1.8.4 1.7.3 2.2.4-1.7-.3-1.7-.3zM366.8 77.5l-2.3 1.2 1.8 3.9 4.5-2.6-1.8-3.8zM374.5 54.6l-2.2-.5 1.7.5 4 .9zM451.6 59.7l1.7.3 1.8.2 2.2.2 2.3.1-1.7-.2-2.3-.1-1.7-.3zM451.6 59.7l-1.7-.2-1.8-.2-2.2-.1 1.7.2 1.8.2zM394.1 78.1l2.2-2.1-1.7-3.2-2.3 1.7zM388.3 72.8l-2.2 1.6 1.7 3.8 2.3-1.9zM416.8 74.5l1.8 2.9 2.2-2.8-1.7-2.4zM416.8 74.5l-1.7-2.4-2.3 2.2-1.7-2.5-2.3 2 1.8 2.9 2.2-2.4 1.8 2.9zM457.4 79l-1.7-1.7-2.3 3.5 1.8 2zM379.3 79.5l2.3-1.7-1.8-3.8-2.2 1.5zM434.5 75.9l-1.7-2.2-2.3 2.9 1.8 2.7zM444.2 76.3l-1.7-2-2.2 3.1 1.7 2.3zM400.8 72.3l-2.2 1.8 1.7 3.3 2.3-2.2zM462.6 84l3.5 3.1 2.3-4.2-3.5-2.8zM422.5 77.3l2.3-2.8-1.7-2.3-2.3 2.4z"/>
<path fill="#eeb73b" stroke="#eeb73b" d="M388.3 72.8l1.8 3.5 2.2-1.8-1.7-3.1zM396.9 58.7l-2.3-.3 1.8.2 2.2.3zM451.7 78.9l1.7 1.9 2.3-3.5-1.7-1.7zM379.8 74l1.8 3.8 2.2-1.7-1.7-3.5zM360 80.7l2.3-1-1.8-3.2-4.5 1.7 1.7 3.3zM436.8 73.1l-2.3 2.8 1.8 2.5 2.2-3.2zM402.6 75.2l2.2-2.1 1.8 3 2.2-2.3-1.7-2.5-2.3 1.8-1.7-2.5-2.3 1.7zM378 55.5l2.9.7 8 1.4zM373.5 54.7l2.2.4-3.4-1-2.3-.3zM475.8 82.7l-2.2 3.7 3.4 1.9 2.3-3.7zM447.6 59.4l-4.5-.3 12 1.1zM396.8 71.2l-2.2 1.6 1.7 3.2 2.3-1.9zM370.8 80l4.5-2.9-1.7-3.6-4.6 2.7zM428.8 74.2l-1.7-2.2-2.3 2.5 1.7 2.6zM428.8 74.2l1.7 2.4 2.3-2.9-1.7-2zM446 78.4l1.7 2.2 2.3-3.6-1.8-1.9zM459.2 80.7l3.4 3.3 2.3-3.9-3.5-2.8z"/>
<path fill="#f6b742" stroke="#f6b742" d="M432.8 73.7l1.7 2.2 2.3-2.8-1.7-1.8zM468.9 78.3l-2.3 3.2 3.5 2.6 3.5 2.3 2.2-3.7zM370 53.8l-2.3-.4 5.2 1.2 12 2.4-11.4-2.3zM390.1 57.8l9.7 1.2 8 .4 6.3 0-7.5 0-4-.2-9.7-1-6.2-.9zM398.6 74.1l2.2-1.8-1.7-2.5-2.3 1.4zM384.3 71.2l-2.2 1.4 1.7 3.5 2.3-1.7zM366.8 77.5l-1.7-3.2-4.6 2.2 1.8 3.2zM420.8 74.6l2.3-2.4-1.8-2-2.2 2zM412.8 74.3l2.3-2.2 1.7 2.4 2.3-2.3-1.8-2-2.2 1.9-1.7-2.1-2.3 1.8zM452.8 60l-1.7-.2-2.3-.2-1.7-.2-2.3-.1-1.7-.2-2.3-.1 1.8.1 1.7.2 2.3.1 1.7.2 2.3.2zM446.5 73.4l-2.3 2.9 1.8 2.1 2.2-3.3zM392.3 74.5l2.3-1.7-1.7-2.8-2.3 1.4zM459.7 75.9l-2.3 3.1 1.8 1.7 2.2-3.4zM423.1 72.2l1.7 2.3 2.3-2.5-1.8-1.9zM438.5 75.2l1.8 2.2 2.2-3.1-1.7-1.8zM409.4 69.6l-2.3 1.7 1.7 2.5 2.3-2zM451.7 78.9l2.3-3.3-1.8-1.5-2.2 2.9zM377.6 75.5l-1.8-3.3-2.2 1.3 1.7 3.6z"/>
<path fill="#fdb947" stroke="#fdb947" d="M436.3 58.9l12 .7-7.5-.6-4-.1-25 .5-8-.2-9.7-.8-9.7-1.5 9.2 1.5 5.7.7 4 .3 10.3.1zM386.1 74.4l4.5-3-1.7-2.7-4.6 2.5zM376.9 55.4l-9.2-2-4.5-.6zM375.8 72.2l1.8 3.3 4.5-2.9-1.8-3zM409.4 69.6l1.7 2.2 2.3-1.8-1.8-1.8zM427.1 72l1.7 2.2 2.3-2.5-1.8-1.8zM407.1 71.3l-1.7-2.2-2.3 1.5-1.7-2.1-2.3 1.3 1.7 2.5 2.3-1.7 1.7 2.5zM455.7 77.3l1.7 1.7 2.3-3.1-3.5-2.9-2.2 2.6zM396.8 71.2l-1.7-2.4-2.2 1.2 1.7 2.8zM356 78.2l4.5-1.7-1.7-2.7-4.5 1.8zM463.2 78.7l3.4 2.8 2.3-3.2-3.5-2.4zM450.5 72.5l-2.3 2.6 1.8 1.9 2.2-2.9zM442.5 74.3l1.7 2 2.3-2.9-1.7-1.6zM417.3 70.2l1.8 2 2.2-2-1.7-1.7zM417.3 70.2l-1.7-1.8-2.2 1.6 1.7 2.1zM369 76.2l2.3-1.3-1.7-3.1-4.5 2.5 1.7 3.2zM435.1 71.3l-1.8-1.7-2.2 2.1 1.7 2zM436.8 73.1l1.7 2.1 2.3-2.7-1.8-1.7zM423.1 72.2l2.2-2.1-1.7-1.6-2.3 1.7z"/>
<path fill="#fec03e" stroke="#fec03e" d="M390.6 71.4l2.3-1.4-1.8-2.3-2.2 1zM362.7 52.9l2.3.3-1.8-.4-2.2-.3zM423.3 59.4l12.5-.3 16 .6-15.5-.8-22.7.6-10.3-.1-4-.3-5.7-.7-9.7-1.7 9.2 1.7 5.7.9 2.3 0 1.7.3 2.2 0 1.8.2 2.2-.1 1.8.2 4.5-.4 5.7.1zM456.2 73l-1.7-1.3-2.3 2.4 1.8 1.5zM421.9 67l-2.3 1.5 1.7 1.7 2.3-1.7zM459.7 75.9l3.5 2.8 2.2-2.8-3.4-2.5zM358.8 73.8l1.7 2.7 6.8-3.4-1.7-2.6zM417.3 70.2l2.3-1.7-1.7-1.5-2.3 1.4zM374.1 69.3l-4.5 2.5 1.7 3.1 4.5-2.7zM472.9 76.8l-2.3 2.7 5.2 3.2 3.5 1.9 2.3-3zM382.6 68.4l-2.3 1.2 1.8 3 2.2-1.4zM435.1 71.3l1.7 1.8 2.2-2.3 3.5 3.5 2.3-2.5-3.5-2.9-2.3 1.9-1.7-1.5zM405.4 69.1l1.7 2.2 4.5-3.1-1.7-1.6zM405.4 69.1l-1.8-1.8-2.2 1.2 1.7 2.1zM444.8 71.8l3.4 3.3 2.3-2.6-3.5-2.8zM429.3 69.9l-1.7-1.5-2.3 1.7 1.8 1.9zM429.3 69.9l1.8 1.8 2.2-2.1-1.7-1.4zM401.4 68.5l-1.8-1.8-4.5 2.1 1.7 2.4zM415.6 68.4l-1.7-1.5-2.3 1.3 1.8 1.8zM368.4 53.8l2.3.4-1.8-.3-1.7-.4-2.2-.3 1.7.3z"/>
<path fill="#fdc638" stroke="#fdc638" d="M445 59.7l8.5-.1-8-.1-9.7-.4-4.5.2-5.8-.1-4.5.4-5.7-.1-4.5.4-1.8-.2-2.2.1-1.8-.2-2.2 0-1.7-.3-2.3 0-11.5-1.9 5.2 1.2 2.3.2 3.5.8 2.2 0 1.8.4 2.2-.1 1.8.4 2.2-.2 1.8.3 2.2-.3 1.7.4 2.3-.4 1.7.3 4.6-.6 1.7.3 4.5-.6 1.7.2 2.3-.2 1.7.2 4.6-.3zM358.7 52.3l8 1.2-5.7-1zM367.3 73.1l4.5-2.5-1.7-2.5-4.5 2.4zM421.9 67l3.4 3.1 2.3-1.7 1.7 1.5 2.3-1.7-3.5-2.5-2.2 1.3-1.8-1.2zM421.9 67l-1.8-1.2-2.2 1.2 1.7 1.5zM441.3 68.9l-1.7-1.3-2.3 1.7-3.5-2.6-2.2 1.5 3.5 3.1 2.2-2 1.7 1.5zM403.6 67.3l1.8 1.8 4.5-2.5-1.8-1.3-2.2 1-1.7-1.4-4.6 1.8 1.8 1.8zM383.9 56.7l-2.3-.4 1.7.3 1.8.4 2.2.4-1.7-.3zM391.1 67.7l1.8 2.3 4.5-2.3-1.8-1.8zM417.9 67l-1.8-1.3-2.2 1.2-1.8-1.3-2.2 1 1.7 1.6 2.3-1.3 1.7 1.5zM447 69.7l-1.7-1.3-2.3 1.9 1.8 1.5zM378.1 70.8l2.2-1.2-1.7-2.6-4.5 2.3 1.7 2.9zM384.3 71.2l4.6-2.5-1.8-2.3-4.5 2zM356.5 74.7l4.6-2-1.8-2.1-6.8 2.8 1.8 2.2zM462 73.4l-3.5-2.5-2.3 2.1 3.5 2.9zM454.5 71.7l-3.5-2.6-2.2 2 3.4 3zM467.7 73.5l-2.3 2.4 5.2 3.6 2.3-2.7z"/>
<path fill="#fbcd32" stroke="#fbcd32" d="M397.4 67.7l6.8-2.8 1.7 1.4 2.2-1 1.8 1.3 2.2-1 1.8 1.3 2.2-1.2 1.8 1.3 2.2-1.2 1.8 1.2 2.2-1.2 1.8 1.2 2.2-1.3 3.5 2.5 2.2-1.5 3.5 2.6 2.3-1.7 3.4 2.7 2.3-1.9 3.5 2.7 2.2-2-3.4-2.2-2.3 1.5-3.5-2.2-2.2 1.4-5.2-3.1-2.3 1.1-3.5-1.9-2.2 1-5.2-2.4 4.5-1.1 4.5-.9 1.8.4 4.5-.7 1.7.3 2.3-.3 1.7.3 4.5-.5 1.8.1 8.5-.5-8 .3-8-.1-1.7-.2-4.6.3-1.7-.2-2.3.2-1.7-.2-4.5.6-1.7-.3-4.6.6-1.7-.3-2.3.4-1.7-.4-2.2.3-1.8-.3-2.2.2-1.8-.4-2.2.1-1.8-.4-2.2 0-3.5-.8-2.3-.2-11.4-2.5 5.7 1.3 5.2 1.5 2.3.2 5.2 1.7 3.4 1.5-9 2-6.8 2.1 1.8 2.3 6.7-2.8zM479.8 80.8l1.8.8 2.2-2.3-10.4-5.6-2.2 2.1zM378.6 67l1.7 2.6 4.6-2.2-1.8-2.2zM372.4 66.9l-2.3 1.2 1.7 2.5 4.6-2.5-1.8-2.3zM353.1 70.7l-2.3.9 1.7 1.8 6.8-2.8 1.8 2.1 6.7-3.4-1.7-2.2-6.8 3.5-1.7-1.9zM463.7 74.6l1.7 1.3 2.3-2.4-5.2-3.3-2.3 1.9zM458.5 70.9l-3.5-2.3-2.2 1.8 3.4 2.6zM361.6 52.9l2.3.2-5.2-.8-4.5-.2z"/>
<path fill="#f9d42e" stroke="#f9d42e" d="M441.2 62l4.5-1.1 4.5-.8 1.7.2 15.3-2.1-8 1-10.7.7-1.8-.1-4.5.5-1.7-.3-2.3.3-1.7-.3-4.5.7-1.8-.4-4.5.9-4.5 1.1 5.2 2.4 2.2-1 3.5 1.9 2.3-1.1 5.2 3.1 2.2-1.4 3.5 2.2 2.3-1.5 5.2 3.5 2.2-1.8 5.2 3.5 2.3-1.9 8.7 5.6 2.2-2.1-8.7-5-2.2 1.5-6.9-4-2.3 1.3-5.2-2.8-2.3 1.2-3.4-1.8-3.5-1.4zM475.2 74.7l8.6 4.6 2.3-1.9-8.7-4.4zM383.1 65.2l1.8 2.2 6.7-2.5 4.6-1.2 6.7-1.4-3.4-1.5-5.2-1.7-2.3-.2-5.2-1.5-2.2-.4 5.2 1.8 3.4 1.5-2.2 0 1.7 1-2.3.3 1.8 1.2-4.5 1zM383.1 65.2l-1.7-2-2.3.7-4.5 1.9 1.8 2.3zM380.6 56.1l1.7.5 2.3.4-1.8-.5-1.7-.4-2.3-.5zM353.7 52.4l7.9.5-7.4-.8-6.8.4 1.7.3zM351.9 66.9l-4.6 1.9 3.5 2.8 6.8-2.9 1.7 1.9 6.8-3.5-1.7-1.8-4.6 2.3-1.7-1.6-4.5 2.2zM370.1 68.1l2.3-1.2-1.8-2.1-4.5 2.3 1.7 2.2zM471.2 57.6l2.3-.5-1.8.4-2.2.4z"/>
<path fill="#f7db29" stroke="#f7db29" d="M451.9 60.3l-1.7-.2-2.3.4-4.5.9-4.5 1.3 3.5 1.4 3.4 1.8 2.3-1.2 5.2 2.8 2.3-1.3 6.9 4 2.2-1.5 10.5 6 2.2-1.7 8.7 4.4 2.2-1.5-10.4-5.3-2.2 1.4-12.2-6.4-2.2 1.2-5.2-2.6-3.5-1.4 2.3-.7-1.8-.6 2.3-.6 9-2 1.8.1 11.3-2.6 9-2.4 6.8-2-10.8 3.1-9 2-13.1 2.1-1.7.1zM361.1 52.9l-7.4-.5-4.6.4-1.7-.3-6.8 1.3-15.8 4.2 15.6 6.8 3.5 1.8 3.4 2.2 4.6-1.9 1.7 1.3 4.5-2.2 1.7 1.6 4.6-2.3 1.7 1.8 4.5-2.3 1.8 2.1 6.7-3-1.7-1.8-2.3.8-4.5 1.9-1.7-1.8-4.5 2.3-1.8-1.6-2.2 1.1-1.8-1.3-4.5 2.3-3.4-2.2-2.3 1.1-3.5-1.8-5.2-2.2 2.3-.9-3.5-1.2 4.5-1.7-1.7-.5 4.5-1.5-1.7-.3 4.5-1.1 1.7.2 4.6-.8 2.2-.1zM383.7 62.6l-2.3.6 1.7 2 4.6-1.4 4.5-1-1.8-1.2 2.3-.3-1.7-1 2.2 0-3.4-1.5-5.2-1.8-9.8-2.2 3.5.8 3.5 1.2 3.4 1.6 3.5 2-4.5.3 1.7 1.5z"/>
<path fill="#f6e323" stroke="#f6e323" d="M471.9 59l13.6-3.8 11.3-3.3-3.5.1-6.8 2-9 2.4-11.3 2.6-1.8-.1-6.7 1.4-4.6 1.2 1.8.6-2.3.7 3.5 1.4 5.2 2.6 2.2-1.2 12.2 6.4 2.2-1.4 10.4 5.3 4.6-2.5-7-3.3-2.2 1.1-10.4-5.1-7-3.1 2.3-.8-1.8-.7 4.6-1.4-1.8-.5zM375.7 60.5l-2.3.7-4.5 1.8 1.7 1.8 4.5-1.9 2.3-.8 1.7 1.8 2.3-.7 4.5-1-1.7-1.5 4.5-.3-5.2-2.9-3.5-1.4-5.2-1.3-6.2-1.1 5.7 1 1.7.5 3.5 1.3 3.5 1.8-2.3-.1 1.7 1.2-4.5.6zM350.5 57.3l-3.5-.9 6.8-2.3-1.7-.2 2.2-.5 1.8.2 4.5-.5 8 .6-7.5-.8-4-.1-2.2.1-4.6.8-1.7-.2-4.5 1.1 1.7.3-4.5 1.5 1.7.5-4.5 1.7 3.5 1.2-2.3.9 5.2 2.2 3.5 1.8 2.3-1.1 3.4 2.2 4.5-2.3 1.8 1.3 2.2-1.1 1.8 1.6 4.5-2.3-1.7-1.6-2.3 1.1-1.7-1.4-2.3 1.2-1.7-1.2-2.3 1.2-3.5-1.9-5.2-2.1z"/>
<path fill="#f6ed1b" stroke="#f6ed1b" d="M352.1 53.9l1.7.2-6.8 2.3 3.5.9-2.3 1 5.2 2.1 3.5 1.9 2.3-1.2 1.7 1.2 2.3-1.2 1.7 1.4 2.3-1.1 1.7 1.6 4.5-1.8 2.3-.7 2.2-.5 4.5-.6-1.7-1.2 2.3.1-3.5-1.8-3.5-1.3-1.7-.5-5.7-1-8-.6-4.5.5-1.8-.2zM489.8 64.2l-3.5-1.6 2.3-.7-1.8-.7 2.3-.8-1.8-.7 4.6-1.4-1.8-.6 9.1-2.8-1.8-.6 4.6-1.4-3.5-.8-1.7-.2-11.3 3.3-15.9 4.4 1.8.5-4.6 1.4 1.8.7-2.3.8 7 3.1 10.4 5.1 2.2-1.1 7 3.3 6.7-2.8-8.6-4.1 2.2-.8zM373.3 55.4l3.4 1.8-4.5.6-2.3.5-4.5 1.8-3.4-2.2-2.3 1-1.7-.8-3.5-1.3 2.3-1-1.8-.4 4.5-1.4 4.6-.5 1.7.3 2.3 0 3.4.9z"/>
<path fill="#f9fb0e" stroke="#f9fb0e" d="M374.5 57.4l2.2-.2-1.7-1-3.5-1.5-3.4-.9-2.3 0-1.7-.3-4.6.5-4.5 1.4 1.8.4-2.3 1 3.5 1.3 1.7.8 2.3-1 3.4 2.2 4.5-1.8zM504.2 69l20.3-6.7-13.9-6.2-8.6-3.2-4.6 1.4 1.8.6-9.1 2.8 1.8.6-4.6 1.4 1.8.7-2.3.8 1.8.7-2.3.7 6.9 3.1-2.2.8 8.6 4.1z"/></g>
<path fill="none" stroke="#000" stroke-width="0.55" stroke-opacity="1" stroke-linejoin="round" d="M411.5 173.2l-15.6-7.5-6.9-3.6-3.5-2.3-1.7-1.4-1.8-1.6-1.7-2.1-1.7-2.6-1.8-3.3-1.7-4.1-1.7-5.3-1.8-6.2-1.7-7.1-5.2-23-1.8-6.8-1.7-5.8-1.7-5-1.8-4-1.7-3.3-1.7-2.6-1.8-2.2-1.7-1.8-1.7-1.5-3.5-2.5-3.5-1.9-3.4-1.7-13.9-6M413.8 172.6l-15.6-7.5-7-3.7-3.4-2.3-1.8-1.3-1.7-1.7-1.8-2.1-1.7-2.6-1.7-3.3-1.8-4.2-1.7-5.2-1.7-6.3-1.8-7.1-5.2-23-1.7-6.8-1.7-5.9-1.8-4.9-1.7-4-1.7-3.3-1.8-2.7-1.7-2.2-1.7-1.8-1.8-1.5-3.4-2.5-3.5-1.9-3.5-1.7-13.8-5.7M416 172l-15.6-7.6-6.9-3.7-3.5-2.3-1.7-1.4-1.8-1.7-1.7-2-1.7-2.7-1.8-3.4-1.7-4.3-1.7-5.3-1.8-6.3-1.7-7.2-5.2-22.9-1.7-6.7-1.8-5.9-1.7-4.8-1.7-4.1-1.8-3.2-1.7-2.7-1.7-2.2-1.8-1.8-1.7-1.6-3.5-2.5-3.4-1.9-3.5-1.7-13.9-5.3M418.3 171.3l-17.4-8.4-3.4-1.8-3.5-2.2-3.5-2.6-1.7-1.8-1.7-2.1-1.8-2.8-1.7-3.5-1.7-4.4-1.8-5.4-1.7-6.4-1.7-7.2-5.2-22.9-1.8-6.6-1.7-5.7-1.7-4.9-1.8-3.9-1.7-3.3-1.7-2.7-1.8-2.1-3.4-3.4-1.8-1.4-3.4-2.2-3.5-1.7-3.5-1.5-12.1-4.2M420.5 170.7l-17.3-8.5-3.5-1.8-3.4-2.2-3.5-2.8-1.7-1.8-1.8-2.2-1.7-2.9-1.7-3.6-1.8-4.6-1.7-5.5-1.7-6.6-7-30-1.7-6.5-1.7-5.6-1.8-4.7-1.7-3.9-1.7-3.2-1.8-2.7-1.7-2.2-3.5-3.4-1.7-1.3-3.5-2.2-3.5-1.7-3.4-1.4-12.2-3.8M422.8 170l-17.3-8.5-3.5-1.9-3.5-2.2-3.4-2.9-1.8-1.9-1.7-2.4-1.7-3-1.8-3.8-1.7-4.8-1.7-5.7-1.8-6.7-5.2-22.7-3.5-13.4-1.7-5.5-1.7-4.6-1.8-3.8-1.7-3.1-1.7-2.6-1.8-2.2-3.4-3.5-1.8-1.3-3.4-2.2-3.5-1.7-3.5-1.3-12.1-3.4M425.1 169.3l-15.6-7.5-3.5-1.9-3.5-2.1-3.5-2.6-1.7-1.7-1.7-2-1.8-2.6-1.7-3.2-1.7-4-1.8-5-1.7-6-1.7-6.8-5.2-22.6-1.8-6.9-1.7-6.1-1.7-5.3-1.8-4.4-1.7-3.7-1.7-3.1-1.8-2.5-1.7-2.2-3.5-3.4-1.7-1.4-3.5-2.2-3.4-1.6-3.5-1.2-12.1-2.9M427.3 168.7l-15.6-7.7-3.5-1.9-3.4-2.1-3.5-2.8-1.7-1.8-1.8-2.2-1.7-2.8-1.7-3.5-1.8-4.3-1.7-5.2-1.7-6.2-1.8-7-5.2-22.3-1.7-6.7-1.7-5.9-1.8-5-1.7-4.2-1.7-3.6-1.8-2.9-1.7-2.5-1.7-2.2-3.5-3.4-3.5-2.5-3.4-1.9-1.8-.7-3.4-1.1-12.2-2.5M429.6 168l-15.6-7.7-3.5-2-3.5-2.3-3.4-3-1.8-1.9-1.7-2.4-1.7-3.1-1.8-3.7-1.7-4.6-1.7-5.6-1.8-6.4-6.9-29-1.7-6.4-1.8-5.6-1.7-4.8-1.7-4-1.8-3.3-1.7-2.9-1.7-2.4-1.8-2.1-3.4-3.4-3.5-2.5-3.5-1.8-1.7-.7-3.5-1-12.1-2.1M431.8 167.3l-13.8-6.8-3.5-2-3.5-2.2-3.4-2.8-1.8-1.8-1.7-2.1-1.7-2.7-1.8-3.3-1.7-4.1-1.7-5-1.8-5.8-8.6-35.2-1.8-6-1.7-5.2-1.7-4.5-1.8-3.8-1.7-3.2-1.7-2.7-1.8-2.3-1.7-2-3.5-3.3-3.5-2.5-3.4-1.8-1.8-.7-3.4-.9-12.2-1.7M434.1 166.6l-8.7-4.2-5.2-2.7-3.4-2-3.5-2.4-3.5-3.1-1.7-2-1.7-2.4-1.8-3-1.7-3.6-1.7-4.5-1.8-5.3-3.4-13-5.2-21.3-1.8-6.4-1.7-5.6-1.8-4.9-1.7-4.1-1.7-3.5-1.8-3-1.7-2.6-1.7-2.2-3.5-3.6-3.5-2.9-3.4-2-3.5-1.4-3.5-.9-12.1-1.5M436.4 165.9l-12.2-6.1-3.4-2-3.5-2.3-3.5-3-1.7-1.8-1.7-2.3-1.8-2.7-1.7-3.3-1.8-4.1-1.7-4.9-1.7-5.6-8.7-33.9-1.7-6-1.8-5.2-1.7-4.5-1.7-3.8-1.8-3.2-1.7-2.8-1.7-2.4-1.8-2.1-3.4-3.4-3.5-2.7-3.5-2-3.4-1.4-3.5-.8-12.1-1.3M438.6 165.1l-6.9-3.4-5.2-2.8-3.5-2.2-3.5-2.5-3.4-3.3-1.8-2.1-1.7-2.6-1.7-3.1-1.8-3.7-1.7-4.5-1.7-5.2-3.5-12.5-5.2-20.5-3.5-11.6-1.7-4.7-1.7-4.1-1.8-3.5-1.7-2.9-1.7-2.5-3.5-4.2-3.5-3.2-3.4-2.6-3.5-1.9-3.5-1.3-3.4-.7-8.7-.9-3.5-.4M440.9 164.2l-5.2-2.5-5.2-2.8-3.5-2.2-3.5-2.5-3.4-3.2-1.8-2.1-1.7-2.4-1.7-2.9-1.8-3.5-1.7-4.2-1.7-4.9-3.5-11.8-6.9-26.2-1.8-5.6-1.7-5-1.7-4.3-1.8-3.6-1.7-3.1-1.7-2.7-1.8-2.3-3.4-3.8-3.5-3-3.5-2.4-3.4-1.8-3.5-1.2-3.5-.7-8.7-.9-3.4-.5M443.1 163.3l-8.6-4.6-3.5-2.1-3.5-2.6-3.4-3.2-1.8-2-1.7-2.3-1.7-2.8-1.8-3.3-1.7-4-1.7-4.6-1.8-5.3-1.7-5.9-6.9-25.5-3.5-10.8-1.7-4.5-1.8-3.8-1.7-3.2-1.7-2.8-1.8-2.3-3.4-3.9-3.5-3.1-3.5-2.5-3.5-1.9-1.7-.8-3.5-1.1-3.4-.7M361.6 52.9l-5.2-.7M445.4 162.1l-5.2-2.7-3.5-2-3.4-2.4-3.5-2.8-3.5-3.7-1.7-2.3-1.7-2.7-1.8-3.3-1.7-3.7-1.7-4.4-1.8-5-3.4-11.6-5.2-18.8-3.5-10.8-1.8-4.6-1.7-3.9-1.7-3.3-1.8-2.9-1.7-2.4-3.5-3.9-1.7-1.6-3.5-2.8-3.4-2.2-3.5-1.8-3.5-1.3-3.4-.9M362.2 52.9l-3.5-.6M447.7 160.6l-3.5-1.7-3.5-2.1-3.4-2.3-3.5-2.9-3.5-3.8-1.7-2.3-1.7-2.7-1.8-3.1-1.7-3.6-1.8-4.3-1.7-4.7-3.5-11.1-5.2-18.1-3.4-10.8-1.8-4.5-1.7-4-1.7-3.4-1.8-2.9-1.7-2.5-3.5-3.9-1.7-1.6-3.5-2.7-3.4-2.2-3.5-1.9-3.5-1.4-5.2-1.3M364.4 53.2l-3.4-.7M449.9 158.7l-3.4-1.8-3.5-2.1-3.5-2.7-1.7-1.5-3.5-3.8-1.7-2.3-1.8-2.7-1.7-3.1-1.7-3.5-1.8-4.1-1.7-4.6-3.5-10.6-5.2-17.3-3.4-10.6-1.8-4.5-1.7-4-1.7-3.4-1.8-3-1.7-2.5-1.7-2.1-1.8-1.8-1.7-1.6-3.5-2.6-3.4-2.2-3.5-1.7-3.5-1.4-5.2-1.6M366.7 53.5l-3.5-.7M452.2 156.3l-3.5-1.9-1.7-1.1-3.5-2.7-1.7-1.5-3.5-3.9-1.7-2.3-1.8-2.6-1.7-3.1-3.5-7.5-1.7-4.4-3.5-10-6.9-21.8-3.5-9.4-1.7-3.9-1.7-3.5-1.8-2.9-1.7-2.5-1.7-2.2-3.5-3.3-1.7-1.4-3.5-2.3-3.5-1.8-3.4-1.5-3.5-1.3-5.2-1.4M370.7 54.2l-5.2-1.1M454.4 153l-3.4-1.9-1.8-1.2-3.4-3-1.8-1.8-3.4-4.4-3.5-5.6-1.7-3.5-3.5-8-3.5-9.6-6.9-20.6-3.5-9-1.7-3.9-1.7-3.3-1.8-2.9-1.7-2.5-1.7-2.2-3.5-3.3-1.7-1.4-3.5-2.2-3.5-1.7-5.2-2.1-3.5-1-5.2-1.3M372.9 54.6l-5.2-1.2M456.7 148.8l-3.5-2.1-1.7-1.3-3.5-3.3-3.4-4.3-3.5-5.6-1.7-3.3-3.5-7.8-3.5-9-6.9-19.3-3.5-8.5-3.4-6.9-1.8-2.9-1.7-2.4-1.7-2.1-3.5-3.4-3.5-2.4-3.5-1.9-3.4-1.5-5.2-1.7-5.2-1.3-5.2-1.1M376.9 55.4l-6.9-1.6M459 143.4l-3.5-2.2-3.5-3-3.4-4.2-3.5-5.4-1.7-3.2-3.5-7.3-3.5-8.4-6.9-17.8-3.5-8-3.5-6.6-1.7-2.7-1.7-2.4-1.8-2-1.7-1.8-3.5-2.8-3.4-2.1-3.5-1.6-3.5-1.2-5.2-1.5-10.4-2M380.9 56.2l-5.2-1.1-3.4-1M461.2 136.8l-1.7-1-1.7-1.2-1.8-1.5-1.7-1.8-3.5-4.4-1.7-2.7-1.8-2.9-3.4-6.8-3.5-7.8-6.9-16.2-3.5-7.3-3.5-6.1-1.7-2.6-3.5-4.3-1.7-1.7-3.5-2.8-3.4-2-3.5-1.6-3.5-1.1-5.2-1.4-13.8-2.3M384.9 57l-5.2-1.1-5.2-1.3M463.5 129.3l-1.8-1-1.7-1.3-1.7-1.5-3.5-4-3.5-5.1-1.7-2.9-3.5-6.6-8.6-18.1-3.5-6.6-3.5-5.6-1.7-2.4-3.5-4.1-1.7-1.6-3.5-2.7-3.4-2-3.5-1.5-3.5-1.2-5.2-1.2-13.8-2M387.2 57.4l-5.2-1-5.2-1.4M465.7 121.1l-1.7-.9-1.7-1.3-1.8-1.5-1.7-1.8-3.5-4.5-1.7-2.5-3.5-5.8-8.6-15.9-3.5-5.8-3.5-5.2-1.7-2.2-1.7-2-3.5-3.3-1.7-1.4-3.5-2.3-3.5-1.7-3.4-1.3-3.5-.9-5.2-1-12.2-1.4M386 57.2l-7-1.7M468 113l-1.7-.9-1.8-1.3-1.7-1.5-3.5-3.6-1.7-2.2-3.5-4.9-8.6-13.7-5.2-7.5-3.5-4.3-1.7-1.8-3.5-3.1-1.7-1.4-3.5-2.1-3.5-1.7-3.5-1.2-3.4-1-5.2-.9-10.4-.9M384.8 56.9l-3.5-.9M470.3 105.4l-3.5-2.1-1.7-1.4-3.5-3.4-5.2-6.3-8.7-11.6-3.5-4.3-3.4-3.8-1.8-1.7-1.7-1.5-3.5-2.6-1.7-1.1-3.5-1.9-3.4-1.4-3.5-1.1-3.5-.8-3.4-.5-5.2-.4-5.2-.3M472.5 98.6l-3.4-2-1.8-1.3-3.5-3-3.4-3.6-8.7-9.8-5.2-5.5-5.2-4.5-3.5-2.5-5.2-2.8-3.4-1.3-3.5-1.1-3.5-.8-3.4-.5-3.5-.4-5.2-.1M474.8 92.9l-3.5-1.9-3.5-2.5-3.4-2.9-10.4-10-5.2-4.5-5.2-3.9-3.5-2-5.2-2.4-3.5-1.1-3.4-1-3.5-.6-3.5-.5-6.9-.2M477 88.3l-3.4-1.9-3.5-2.3-3.5-2.6-10.4-8.5-3.4-2.6-5.2-3.5-3.5-1.9-5.2-2.3-3.5-1.1-3.4-.9-3.5-.7-3.5-.4-3.4-.3-3.5 0M479.3 84.6l-3.5-1.9-5.2-3.2-15.6-10.9-5.2-3-3.4-1.7-5.2-1.9-7-1.7-6.9-1-5.2-.1M481.6 81.6l-7-3.7-17.3-10.8-5.2-2.6-3.5-1.5-5.2-1.6-6.9-1.4-7-.8-5.2-.1M483.8 79.3l-6.9-3.6-15.6-8.9-5.2-2.6-3.5-1.4-5.2-1.5-5.2-1-8.7-1.1-5.2-.2M486.1 77.4l-7-3.5-13.8-7.4-5.2-2.5-3.5-1.4-3.5-1.1-5.2-1-10.4-1.3-5.2-.3M488.3 75.9l-20.8-10.5-5.2-2.3-3.4-1.2-3.5-1-3.5-.6-13.8-1.3-3.5-.1M490.6 74.6l-20.8-10.1-5.2-2.2-3.5-1.1-3.4-.9-3.5-.4-8.7-.4-6.9-.5M492.9 73.4l-19.1-9.1-5.2-2.1-5.2-1.7-3.5-.7-1.7-.2-10.4 0-7-.6M495.1 72.4l-17.3-8.2-5.2-2.1-3.5-1.3-3.5-.9-1.7-.4-3.5-.3-3.4.2M448.3 59.6l-5.2-.5M497.4 71.5l-15.6-7.3-8.7-3.5-3.5-1.1-3.4-.6-1.8-.1-3.4.1M450.6 59.8l-5.2-.6M499.6 70.6l-15.6-7.2-5.2-2.2-3.4-1.2-3.5-1-3.5-.5-1.7-.1-3.5.4M452.8 60l-5.2-.6M501.9 69.8l-15.6-7.2-5.2-2.1-3.5-1.2-3.4-.9-1.8-.3-1.7-.1-3.5.2M455.1 60.2l-7-.9M504.2 69l-15.6-7.1-5.2-2.1-3.5-1.2-3.5-.9-1.7-.2-1.8-.1-3.4.5M457.3 60.4l-6.9-1M506.4 68.2l-13.9-6.3-8.6-3.4-3.5-1-1.7-.4-3.5-.2-1.7.2M459.6 60.5l-6.9-1M508.7 67.5l-13.9-6.3-8.7-3.4-3.4-1-1.8-.3-3.4-.1-1.8.2M461.9 60.6l-7-1.1-1.7 0M510.9 66.7l-13.8-6.3-5.2-2.1-3.5-1.2-3.5-.9-1.7-.3-1.7-.1-1.8 0-1.7.4M465.9 60.6l-1.8 0-6.9-1.1-1.7-.1M513.2 66l-13.9-6.3-5.2-2.1-3.4-1.2-3.5-.9-1.7-.3-1.8 0-1.7.1-1.7.3M468.1 60.4l-1.7.1-7-1.1-1.7-.1M515.5 65.3l-13.9-6.3-5.2-2.1-3.5-1.2-3.5-.9-1.7-.2-1.7-.1-1.8.2-1.7.4M470.4 60.1l-1.8.1-6.9-1-1.7 0M517.7 64.5l-13.9-6.2-5.2-2.1-3.4-1.2-3.5-.8-1.7-.3-1.8 0-1.7.1-1.7.4M474.4 59.3l-1.8.4-1.7.1-6.9-.8-1.8 0M520 63.8l-13.9-6.2-5.2-2.1-3.5-1.2-3.4-.8-1.8-.2-1.7-.1-1.7.2-1.8.4M476.6 58.7l-1.7.4-1.7.2-7-.7-1.7.1M522.2 63.1l-13.8-6.3-5.2-2-3.5-1.2-3.5-.8-1.7-.2-1.7-.1-1.8.2-1.7.4M478.9 58l-1.7.4-1.8.2-5.2-.3-3.4.1M524.5 62.3l-13.9-6.2-5.2-2-3.4-1.2-3.5-.8-1.7-.2-1.8-.1-1.7.2-1.7.3M481.2 57.1l-1.8.5-1.7.2-5.2-.1-3.5.3M411.5 173.2l18.1-5.2 9-2.9 4.5-1.8 2.3-1.2 2.3-1.5 2.2-1.9 2.3-2.4 2.2-3.3 2.3-4.2 2.3-5.4 2.2-6.6 2.3-7.5 4.5-16.3 2.3-7.6 2.2-6.8 2.3-5.7 2.2-4.6 2.3-3.7 2.3-3 2.2-2.3 2.3-1.9 2.2-1.5 4.6-2.5 4.5-1.9 4.5-1.7 22.6-7.5M409.8 172.4l18-5.2 9.1-2.9 4.5-1.9 2.3-1.2 2.2-1.4 2.3-1.9 2.2-2.5 2.3-3.3 2.3-4.2 2.2-5.5 2.3-6.6 2.2-7.5 4.6-16.2 2.2-7.7 2.3-6.7 2.2-5.7 2.3-4.6 2.3-3.7 2.2-2.9 2.3-2.4 2.2-1.9 2.3-1.5 4.5-2.4 4.5-1.9 4.6-1.7 22.6-7.5M408 171.6l20.4-5.9 4.5-1.5 4.5-1.6 4.5-2.2 2.3-1.5 2.3-2 2.2-2.5 2.3-3.3 2.2-4.4 2.3-5.5 2.3-6.6 2.2-7.6 6.8-23.7 2.3-6.7 2.2-5.6 2.3-4.6 2.2-3.7 2.3-2.9 2.3-2.3 2.2-1.8 2.3-1.5 2.2-1.3 4.6-2.2 9-3.3 20.3-6.7M406.3 170.8l20.3-6 4.6-1.4 4.5-1.7 4.5-2.3 2.3-1.5 2.2-2 2.3-2.6 2.2-3.4 2.3-4.5 2.3-5.6 2.2-6.7 9.1-31.2 2.2-6.6 2.3-5.5 2.2-4.5 2.3-3.6 2.3-2.8 2.2-2.3 2.3-1.8 2.2-1.5 2.3-1.3 4.5-2.1 9.1-3.3 20.3-6.7M404.6 169.9l20.3-5.9 4.5-1.5 4.5-1.7 4.6-2.4 2.2-1.6 2.3-2 2.2-2.8 2.3-3.5 2.3-4.6 2.2-5.7 2.3-6.9 6.8-23.7 2.2-7.3 2.3-6.4 2.2-5.4 2.3-4.4 2.3-3.5 2.2-2.7 2.3-2.2 2.2-1.8 2.3-1.5 4.5-2.3 4.5-1.9 4.6-1.7 22.6-7.4M402.8 169.1l20.4-6 4.5-1.5 4.5-1.8 2.3-1.1 2.2-1.3 2.3-1.7 2.2-2.2 2.3-2.9 2.3-3.7 2.2-4.8 2.3-5.9 2.3-7 6.7-23.5 2.3-7.2 2.2-6.2 2.3-5.2 2.3-4.2 2.2-3.4 2.3-2.7 2.3-2.1 2.2-1.7 2.3-1.5 4.5-2.3 4.5-1.8 4.5-1.7 22.6-7.3M401.1 168.3l18.1-5.3 4.5-1.5 4.5-1.6 4.5-2.2 2.3-1.4 2.3-1.8 2.2-2.4 2.3-3 2.2-4 2.3-5 2.3-6.1 2.2-7.1 6.8-23.4 2.3-7 2.2-6 2.3-4.9 2.2-4.1 2.3-3.2 2.3-2.5 2.2-2.1 2.3-1.7 2.2-1.4 4.6-2.2 9-3.5 22.6-7.3M399.4 167.4l18-5.3 4.6-1.5 4.5-1.7 4.5-2.3 2.3-1.6 2.2-1.9 2.3-2.5 2.2-3.3 2.3-4.2 2.3-5.3 2.2-6.3 2.3-7.3 6.8-23.1 2.2-6.7 2.3-5.7 2.2-4.7 2.3-3.9 2.3-3 2.2-2.4 2.3-2 2.2-1.6 2.3-1.4 4.5-2.1 9.1-3.4 22.6-7.3M397.6 166.6l18.1-5.4 4.5-1.5 4.5-1.8 4.6-2.5 2.2-1.7 2.3-2.1 2.2-2.8 2.3-3.6 2.3-4.5 2.2-5.5 2.3-6.6 9-30 2.3-6.4 2.2-5.4 2.3-4.5 2.3-3.6 2.2-2.8 2.3-2.4 2.2-1.8 2.3-1.6 2.3-1.2 4.5-2.2 9-3.3 22.6-7.3M395.9 165.7l18.1-5.4 4.5-1.6 4.5-2 2.3-1.2 2.2-1.5 2.3-1.8 2.3-2.4 2.2-3 2.3-3.9 2.2-4.8 2.3-5.9 2.3-6.8 6.7-22.6 2.3-6.9 2.3-6 2.2-5.1 2.3-4.1 2.2-3.4 2.3-2.7 2.3-2.2 2.2-1.7 2.3-1.5 2.2-1.2 4.6-2.1 9-3.3 22.6-7.2M394.2 164.9l15.8-4.8 4.5-1.6 4.5-1.8 4.5-2.5 2.3-1.7 2.3-2 2.2-2.7 2.3-3.3 2.2-4.2 2.3-5.2 2.3-6.2 2.2-7 6.8-22.2 2.3-6.5 2.2-5.6 2.3-4.8 2.2-3.8 2.3-3.1 2.3-2.5 2.2-2.1 2.3-1.6 2.2-1.4 2.3-1.2 4.5-2 9.1-3.2 22.6-7.2M392.4 164l15.8-4.9 4.6-1.6 4.5-2 2.2-1.3 2.3-1.5 2.3-1.9 2.2-2.3 2.3-3 2.2-3.7 2.3-4.6 2.3-5.6 2.2-6.4 6.8-21.8 2.3-6.9 2.2-6.1 2.3-5.2 2.2-4.4 2.3-3.5 2.3-2.9 2.2-2.3 2.3-1.9 2.2-1.5 2.3-1.3 2.3-1.2 4.5-1.9 9-3.1 22.6-7.1M390.7 163l13.6-4.1 4.5-1.6 4.5-2 4.5-2.6 2.3-1.7 2.2-2.2 2.3-2.6 2.3-3.4 2.2-4.1 2.3-5 2.2-5.9 2.3-6.7 6.8-21.4 2.2-6.4 2.3-5.7 2.3-4.8 2.2-3.9 2.3-3.3 2.2-2.6 2.3-2.1 2.3-1.7 2.2-1.5 2.3-1.2 4.5-2 9-3.3 24.9-7.7M389 162.1l6.7-2.1 6.8-2.2 4.5-1.8 4.6-2.1 2.2-1.4 2.3-1.6 2.2-2 2.3-2.4 2.3-3 2.2-3.8 2.3-4.5 2.2-5.5 2.3-6.1 9-27.5 2.3-6 2.3-5.2 2.2-4.3 2.3-3.6 2.2-2.9 2.3-2.4 2.3-2 2.2-1.6 2.3-1.3 2.2-1.2 4.6-1.9 9-3.1 24.9-7.7M387.2 161l11.3-3.6 4.5-1.7 4.6-2.2 2.2-1.3 2.3-1.5 2.2-1.9 2.3-2.3 2.3-2.8 2.2-3.5 2.3-4.1 2.2-5 2.3-5.8 2.3-6.4 6.7-20.3 2.3-6.2 2.3-5.5 2.2-4.6 2.3-3.9 2.2-3.3 2.3-2.6 2.3-2.1 2.2-1.8 2.3-1.5 2.2-1.2 4.6-2.1 9-3.1 27.1-8.2M385.5 159.8l6.8-2.1 4.5-1.6 4.5-1.9 2.3-1.2 4.5-2.8 2.3-1.8 2.2-2.2 2.3-2.6 2.2-3.2 2.3-3.9 2.2-4.7 2.3-5.3 2.3-6 9-26 2.3-5.7 2.2-4.9 2.3-4.2 2.2-3.4 2.3-2.9 2.3-2.3 2.2-2 2.3-1.6 2.3-1.3 2.2-1.2 4.5-1.9 9.1-3 27.1-8M383.8 158.4l6.7-2.1 4.6-1.8 4.5-2.1 2.2-1.3 2.3-1.5 2.3-1.8 2.2-2.1 2.3-2.6 2.2-3 2.3-3.7 2.3-4.3 2.2-5 4.5-11.8 6.8-19.1 2.3-5.7 2.2-5.1 2.3-4.3 2.3-3.7 2.2-3.1 2.3-2.5 2.2-2.1 2.3-1.7 2.3-1.5 2.2-1.2 4.5-2 9.1-3 18.1-5.1 11.3-3.3M382 156.8l4.5-1.5 4.6-1.7 4.5-2.1 2.2-1.3 2.3-1.5 2.3-1.8 2.2-2.1 2.3-2.4 2.2-3 2.3-3.5 2.3-4.1 2.2-4.7 4.5-11.2 6.8-18.4 2.3-5.6 2.2-5.2 2.3-4.5 2.3-3.8 2.2-3.2 2.3-2.7 2.2-2.2 2.3-1.9 2.3-1.5 2.2-1.3 2.3-1.1 4.5-1.9 6.8-2.1 20.3-5.3 11.3-3.4M380.3 154.7l6.8-2.3 4.5-2.2 2.2-1.3 2.3-1.5 2.3-1.8 2.2-2 2.3-2.4 2.2-2.9 2.3-3.4 2.3-3.9 2.2-4.5 4.5-10.5 9.1-23.2 2.2-5.1 2.3-4.5 2.3-3.9 2.2-3.4 2.3-2.8 2.2-2.3 2.3-1.9 2.3-1.7 2.2-1.3 2.3-1.2 4.5-1.9 6.8-2.1 22.6-5.4 11.3-3.3M378.6 152.1l4.5-1.5 2.2-1 4.6-2.4 2.2-1.5 2.3-1.8 2.2-2 2.3-2.4 2.3-2.8 2.2-3.3 2.3-3.7 2.2-4.3 2.3-4.8 2.3-5.1 9-22.1 2.3-5 2.2-4.5 2.3-3.9 2.2-3.4 2.3-2.9 2.3-2.4 2.2-2 2.3-1.7 2.2-1.4 2.3-1.2 4.5-2 4.5-1.5 4.6-1.2 15.8-3.2M376.8 148.8l4.5-1.6 2.3-1.1 4.5-2.7 2.3-1.7 2.2-2.1 2.3-2.3 2.3-2.8 2.2-3.1 2.3-3.6 2.2-4.1 2.3-4.5 2.3-4.9 9-20.8 4.5-9.2 2.3-3.9 2.2-3.3 2.3-2.9 2.3-2.5 2.2-2.1 2.3-1.7 2.2-1.5 2.3-1.2 4.5-2 4.5-1.5 4.6-1.1 6.7-1.4 6.8-1M375.1 144.7l4.5-1.8 2.3-1.2 2.2-1.4 2.3-1.7 2.2-1.9 2.3-2.3 2.3-2.7 2.2-3 2.3-3.5 4.5-8 2.3-4.6 9-19.5 4.5-8.7 2.3-3.8 2.2-3.3 2.3-2.8 2.3-2.5 2.2-2.1 2.3-1.7 2.2-1.5 2.3-1.3 4.5-2 4.5-1.5 4.6-1.1 4.5-.9 6.8-.9M373.4 139.4l2.2-.7 2.3-1.1 2.2-1.3 2.3-1.5 2.3-1.9 2.2-2.2 2.3-2.5 2.2-2.9 2.3-3.2 4.5-7.6 4.5-8.7 6.8-13.5 4.5-8.2 2.3-3.6 2.3-3.1 2.2-2.8 2.3-2.4 2.2-2.1 2.3-1.7 2.3-1.6 2.2-1.2 4.5-2.1 4.6-1.5 4.5-1.1 4.5-.8 6.8-.7M371.6 133.2l2.3-.8 2.2-1.1 2.3-1.4 2.3-1.7 2.2-2 2.3-2.3 2.2-2.7 2.3-3 4.5-6.9 11.3-20.3 4.5-7.5 4.6-6.3 2.2-2.7 2.3-2.3 2.2-2 2.3-1.7 4.5-2.8 2.3-1.1 4.5-1.8 4.5-1.3 4.5-.9 4.6-.7 6.7-.4M369.9 126.1l2.2-.8 2.3-1.2 2.3-1.4 2.2-1.8 2.3-2.1 2.2-2.4 2.3-2.7 4.5-6.2 11.3-18.1 4.5-6.8 4.6-5.9 2.2-2.4 2.3-2.2 2.2-1.9 2.3-1.7 4.5-2.7 4.5-2.1 4.6-1.5 4.5-1.1 4.5-.8 4.5-.5 6.8-.2M368.2 118.4l2.2-.8 2.3-1.2 2.2-1.4 2.3-1.8 2.2-2.1 2.3-2.3 2.3-2.6 4.5-5.9 9-12.9 4.5-6.1 4.6-5.2 2.2-2.3 4.6-3.8 4.5-3 4.5-2.3 4.5-1.7 4.5-1.3 4.6-1 4.5-.7 4.5-.3 6.8 0M366.4 110.6l2.3-.8 2.2-1.2 2.3-1.4 2.3-1.7 2.2-2 2.3-2.2 4.5-5 11.3-13.9 4.5-5 4.5-4.3 2.3-1.8 4.5-3.1 4.5-2.5 4.6-1.9 4.5-1.5 4.5-1.1 4.5-.9 4.5-.5 4.6-.3 6.7.2M470.4 60.1l4.5-1 4.5-1.5M364.7 103.1l2.2-.8 2.3-1.1 2.3-1.4 4.5-3.4 4.5-4.2 11.3-11.8 4.5-4.4 4.5-3.7 2.3-1.7 2.3-1.5 4.5-2.5 4.5-2 4.5-1.6 4.5-1.3 4.6-1 4.5-.7 4.5-.5 4.5-.1 6.8.2M461.9 60.6l4.5-.1 4.5-.7 2.3-.5 4.5-1.5M362.9 96.3l2.3-.8 2.3-1 2.2-1.3 4.5-3.1 4.6-3.8 11.3-10 4.5-3.5 2.2-1.6 2.3-1.4 4.5-2.5 4.5-2 4.6-1.6 4.5-1.4 4.5-1.1 6.8-1.2 4.5-.5 4.5-.3 4.5 0 4.6.2 11.3.9 4.5.1 4.5-.4 2.3-.3 2.2-.5 4.5-1.4M361.2 90.5l4.5-1.9 4.6-2.5 4.5-3.1 11.3-8.6 6.8-4.4 2.2-1.2 4.5-2.1 4.6-1.8 4.5-1.4 4.5-1.2 6.8-1.5 6.8-1 4.5-.5 4.5-.2 4.5 0 15.8.9 4.6.1 4.5-.4 2.2-.3 2.3-.4 4.5-1.2M359.5 85.5l4.5-1.7 4.5-2.4 4.5-2.8 9.1-6 4.5-2.7 4.5-2.2 6.8-2.6 9-2.5 11.3-2.2 6.8-.8 4.5-.4 9.1-.2M447.6 59.4l6.8.3 6.8-.1 4.5-.5 6.8-1.4M357.7 81.5l4.6-1.8 4.5-2.2 11.3-6.7 4.5-2.4 4.5-2 4.5-1.5 4.6-1.2 4.5-1 13.5-2.2 9.1-1.1 9-.5M452.7 59.5l4.5 0 4.5-.3 4.5-.6 4.5-.9M356 78.2l6.8-2.8 15.8-8.4 4.5-1.8 4.6-1.4 6.7-1.3 15.9-2.1 9-.9 9-.5M354.3 75.6l6.8-2.9 13.5-6.9 4.5-1.9 4.6-1.3 4.5-.8 4.5-.5 20.3-1.6 9.1-.5M352.5 73.4l6.8-2.8 13.6-6.8 4.5-1.7 2.3-.6 2.2-.5 4.5-.5 13.6-.4 18.1-.8M350.8 71.6l6.8-2.9 9-4.6 4.6-2.1 4.5-1.5 2.2-.5 2.3-.4 4.5-.3 13.6.3 15.8-.2M349.1 70.1l6.8-2.9 9-4.7 4.5-2 4.5-1.5 2.3-.4 2.3-.3 4.5 0 13.5.9 13.6.2M347.3 68.8l6.8-3 11.3-5.7 4.5-1.8 4.6-.9 2.2-.2 4.5.1 13.6 1.5 13.6.6M345.6 67.6l6.8-3 11.3-5.7 4.5-1.7 2.3-.5 2.2-.3 2.3-.2 4.5.3 13.6 1.9 11.3.8M343.9 66.6l6.8-3 11.3-5.7 4.5-1.6 2.2-.5 2.3-.3 4.5 0 4.5.6 11.3 2 9.1.9M342.1 65.7l6.8-3 11.3-5.6 4.5-1.6 2.3-.5 2.3-.2 4.5.1 4.5.7 11.3 2.2 9 1.1M340.4 64.8l6.8-2.9 11.3-5.5 4.5-1.5 2.3-.5 2.2-.2 2.3 0 4.5.5 4.5.9M383.3 56.6l4.6.9 6.7.9M338.7 64l6.8-2.9 9-4.3 4.5-1.8 2.3-.6 2.2-.4 2.3-.2 2.3 0 4.5.5M386.1 57.2l4.6.7M336.9 63.2l6.8-2.8 9.1-4.1 4.5-1.7 4.5-1 2.3-.1 4.5.2M386.7 57.3l2.2.3M335.2 62.4l6.8-2.6 9-3.9 4.5-1.6 4.6-.9 2.2-.2 4.5.2M384.9 57l2.3.4M333.5 61.7l4.5-1.6 11.3-4.6 4.5-1.4 4.5-.9 2.3-.1 4.5.1M380.9 56.2l6.8 1.3M331.7 61l15.9-5.8 4.5-1.3 4.5-.8 2.3-.2 4.5.2M376.9 55.4l9.1 1.8M330 60.2l15.8-5.3 4.5-1.2 4.6-.8 2.2-.1 4.5.1M372.9 54.6l13.6 2.7M328.3 59.5l13.5-4.3 6.8-1.7 4.5-.7 2.3-.2 2.2 0 4.6.3M366.7 53.5l9 1.6 9.1 1.8M326.5 58.8l13.6-4 4.5-1.1 4.5-.9 4.6-.4 4.5.1 6.8.7 11.3 1.9 9 1.9M324.8 58l13.6-3.6 4.5-1.1 4.5-.8 4.5-.3 6.8.1 6.8.8 9 1.5 9.1 2"/>
<g fill="none"><path d="M411.5 173.5L524.5 141.2" stroke="#555" stroke-width="0.9"/>
<path d="M411.5 173.5L324.8 132.2" stroke="#555" stroke-width="0.9"/>
<path d="M324.8 132.2L324.8 40.5" stroke="#9a9a9a" stroke-width="1.2"/>
<path d="M411.5 173.5L413.3 174.4" stroke="#555" stroke-width="0.8"/>
<path d="M468 157.4L469.8 158.2" stroke="#555" stroke-width="0.8"/>
<path d="M524.5 141.2L526.3 142.1" stroke="#555" stroke-width="0.8"/>
<path d="M411.5 173.5L409.6 174" stroke="#555" stroke-width="0.8"/>
<path d="M368.2 152.8L366.2 153.4" stroke="#555" stroke-width="0.8"/>
<path d="M324.8 132.2L322.9 132.7" stroke="#555" stroke-width="0.8"/>
<path d="M324.8 117.6L323 116.7" stroke="#555" stroke-width="0.8"/>
<path d="M324.8 79L323 78.2" stroke="#555" stroke-width="0.8"/>
<path d="M324.8 40.5L323 39.6" stroke="#555" stroke-width="0.8"/></g>
<g fill="#3a3a3a" stroke="#3a3a3a" stroke-width="0.28"><text x="319.5" y="118.8" font-size="9" text-anchor="end">0.1</text>
<text x="319.5" y="80.2" font-size="9" text-anchor="end">0.15</text>
<text x="319.5" y="41.7" font-size="9" text-anchor="end">0.2</text>
<text x="416.9" y="185.4" font-size="9" text-anchor="start">0.4</text>
<text x="473.4" y="169.2" font-size="9" text-anchor="start">0.5</text>
<text x="529.9" y="153.1" font-size="9" text-anchor="start">0.6</text>
<text x="405.6" y="184.4" font-size="9" text-anchor="end">0.1</text>
<text x="362.2" y="163.8" font-size="9" text-anchor="end">0.2</text>
<text x="318.9" y="143.1" font-size="9" text-anchor="end">0.3</text>
<text x="486.3" y="190" font-size="10" text-anchor="middle">ND (mm)</text>
<text x="345.1" y="187.4" font-size="10" text-anchor="middle">LH (mm)</text>
<text transform="translate(293 105.6) rotate(-90)" font-size="10">DimErr<tspan font-size="6.8" dy="4">ext</tspan></text>
<text class="cap" stroke="none" x="416.2" y="210.6" font-size="13.5" text-anchor="middle">(<tspan font-weight="bold">b</tspan>)</text></g>
<g fill="none"><path d="M132.8 394.5L46 352.7" stroke="#e4e4e4" stroke-width="0.7"/>
<path d="M46 352.7L46 261.2" stroke="#e4e4e4" stroke-width="0.7"/>
<path d="M189.2 378.4L102.4 336.6" stroke="#e4e4e4" stroke-width="0.7"/>
<path d="M102.4 336.6L102.4 245" stroke="#e4e4e4" stroke-width="0.7"/>
<path d="M245.5 362.2L158.7 320.4" stroke="#e4e4e4" stroke-width="0.7"/>
<path d="M158.7 320.4L158.7 228.9" stroke="#e4e4e4" stroke-width="0.7"/>
<path d="M132.8 394.5L245.5 362.2" stroke="#e4e4e4" stroke-width="0.7"/>
<path d="M245.5 362.2L245.5 270.7" stroke="#e4e4e4" stroke-width="0.7"/>
<path d="M89.4 373.6L202.1 341.3" stroke="#e4e4e4" stroke-width="0.7"/>
<path d="M202.1 341.3L202.1 249.8" stroke="#e4e4e4" stroke-width="0.7"/>
<path d="M46 352.7L158.7 320.4" stroke="#e4e4e4" stroke-width="0.7"/>
<path d="M158.7 320.4L158.7 228.9" stroke="#e4e4e4" stroke-width="0.7"/>
<path d="M46 335L158.7 302.7" stroke="#e4e4e4" stroke-width="0.7"/>
<path d="M158.7 302.7L245.5 344.5" stroke="#e4e4e4" stroke-width="0.7"/>
<path d="M46 298.1L158.7 265.8" stroke="#e4e4e4" stroke-width="0.7"/>
<path d="M158.7 265.8L245.5 307.6" stroke="#e4e4e4" stroke-width="0.7"/>
<path d="M46 261.2L158.7 228.9" stroke="#e4e4e4" stroke-width="0.7"/>
<path d="M158.7 228.9L245.5 270.7" stroke="#e4e4e4" stroke-width="0.7"/></g>
<g stroke="#000" stroke-width="0.5" stroke-opacity="1" stroke-linejoin="round"><path fill="#cbc02d" d="M151 266.3l1.4.4-2.2-.7-1.4-.5z"/><path fill="#c1c231" d="M154.6 267.4l1.4.5-2.2-.7-1.4-.5z"/><path fill="#c1c231" d="M152.4 266.7l1.4.5-2.1-.7-1.5-.5z"/></g>
<g stroke-width="0.5" stroke-linejoin="round"><path fill="#3e26a8" stroke="#3e26a8" d="M137 388.6l-2.1-1.6-1.5 1.8-2.1-2.1-1.4 1.2-1.4.8 4.3 3.4 2.8-1.6z"/>
<path fill="#402ab4" stroke="#402ab4" d="M129.1 384.6l-2.8 1.9 2.2 2.2 1.4-.8 1.4-1.2 2.1 2.1 1.5-1.8-2.2-1.9-1.4 1.6z"/>
<path fill="#412fbf" stroke="#412fbf" d="M129.1 384.6l2.2 2.1 1.4-1.6-2.2-1.9zM129.1 384.6l-2.2-2-1.4 1.1-2.1-2.1-1.4 1 4.3 3.9zM132.7 385.1l4.3 3.5 1.4-2.1-4.3-3.3z"/>
<path fill="#4333ca" stroke="#4333ca" d="M128.3 381l-2.1-2.2-1.4 1.6-1.4 1.2-2.2-2.2-1.4.9 2.2 2.3 1.4-1 2.1 2.1 1.4-1.1 2.2 2 1.4-1.4 2.2 1.9 1.4-1.9-2.2-2-1.4 2zM134.1 383.2l4.3 3.3 1.4-2.4-4.3-3.3z"/>
<path fill="#4537d5" stroke="#4537d5" d="M117.6 377.7l2.2 2.6 1.4-.9-2.2-2.7zM133.3 378.8l-1.4 2.4-2.1-2.2-1.5 2 2.2 2.2 1.4-2 2.2 2 1.4-2.4zM121.2 379.4l2.2 2.2 1.4-1.2-2.2-2.3z"/>
<path fill="#463cdc" stroke="#463cdc" d="M135.5 380.8l4.3 3.3 1.5-2.5-4.4-3.5zM127.6 376.6l-1.4 2.2-2.2-2.6-1.4 1.9 2.2 2.3 1.4-1.6 2.1 2.2 1.5-2 2.1 2.2 1.4-2.4-2.1-2.2-1.4 2.4zM121.2 379.4l1.4-1.3-2.2-2.9-1.4 1.5z"/>
<path fill="#4642e3" stroke="#4642e3" d="M136.9 378.1l-2.2-2.1-1.4 2.8 2.2 2zM127.6 376.6l2.2 2.4 1.4-2.4-2.2-2.5zM127.6 376.6l-2.2-2.6-1.4 2.2-2.2-2.8-1.4 1.8-2.1-3.1-1.5 1.6-1.4 1.1 2.2 2.9 1.4-1 1.4-1.5 2.2 2.9 1.4-1.9 2.2 2.6z"/>
<path fill="#4747ea" stroke="#4747ea" d="M121.8 373.4l2.2 2.8 1.4-2.2-2.2-3zM121.8 373.4l-2.1-3.3-1.4 2 2.1 3.1zM133.3 378.8l1.4-2.8-2.1-2.3-1.4 2.9zM115.4 374.8l1.4-1.1-2.1-3.6-1.4 1.2zM125.4 374l2.2 2.6 1.4-2.5-2.2-2.7zM139.1 380l2.2 1.6 1.4-2.9-4.4-3.6-1.4 3z"/>
<path fill="#474df0" stroke="#474df0" d="M132.6 373.7l-2.2-2.5-1.4 2.9 2.2 2.5zM118.3 372.1l-2.2-3.5-1.4 1.5 2.1 3.6zM136.9 378.1l1.4-3-2.1-2.1-1.5 3z"/>
<path fill="#4752f3" stroke="#4752f3" d="M117.5 366.7l-1.4 1.9 2.2 3.5 1.4-2 2.1 3.3 1.4-2.4-2.1-3.2-1.4 2.3zM139.7 372l-1.4 3.1 4.4 3.6 1.4-3zM130.4 371.2l-2.2-2.7-1.4 2.9 2.2 2.7zM134.7 376l1.5-3-2.2-2.3-1.4 3zM126.8 371.4l-2.1-3-1.5 2.6 2.2 3z"/>
<path fill="#4658f6" stroke="#4658f6" d="M138.3 375.1l1.4-3.1-2.1-2.2-1.4 3.2zM134 370.7l-2.2-2.5-1.4 3 2.2 2.5zM123.2 371l1.5-2.6-2.2-3.1-1.4 2.5-2.2-3.2-1.4 2.1 2.2 3.4 1.4-2.3zM113.9 365.2l-1.4 1.5-1.4 1.1 2.2 3.5 1.4-1.2 1.4-1.5z"/>
<path fill="#465efa" stroke="#465efa" d="M141.9 374l2.2 1.7 1.4-3.2-2.2-1.8zM129.6 365.5l-1.4 3-2.1-2.9-1.4 2.8 2.1 3 1.4-2.9 2.2 2.7 1.4-3zM113.9 365.2l2.2 3.4 1.4-1.9-2.2-3.2zM137.6 369.8l-2.2-2.3-1.4 3.2 2.2 2.3z"/>
<path fill="#4563fd" stroke="#4563fd" d="M110.3 363.6l-1.4 1.1 2.2 3.1 1.4-1.1 1.4-1.5-2.2-3.1zM123.9 362.7l-1.4 2.6-2.2-3-1.4 2.3 2.2 3.2 1.4-2.5 2.2 3.1 1.4-2.8zM131.8 368.2l2.2 2.5 1.4-3.2-2.2-2.5zM141.1 368.7l-1.4 3.3 2.2 2 1.4-3.3z"/>
<path fill="#4169fd" stroke="#4169fd" d="M115.3 363.5l-2.1-3.1-1.5 1.7 2.2 3.1zM115.3 363.5l2.2 3.2 1.4-2.1-2.2-3.1zM137.6 369.8l2.1 2.2 1.4-3.3-2.1-2.2zM128.2 368.5l1.4-3-2.1-2.7-1.4 2.8z"/>
<path fill="#3d6ffe" stroke="#3d6ffe" d="M141.1 368.7l4.4 3.8 1.4-3.9-4.4-3.9zM106.8 361.7l2.1 3 2.8-2.6-2.1-3zM123.9 362.7l2.2 2.9 1.4-2.8-2.2-2.9zM123.9 362.7l-2.2-2.9-1.4 2.5-2.2-3.1-1.4 2.3 2.2 3.1 1.4-2.3 2.2 3zM135.4 367.5l2.2 2.3 1.4-3.3-2.2-2.3zM131.8 368.2l1.4-3.2-2.2-2.5-1.4 3z"/>
<path fill="#3875fe" stroke="#3875fe" d="M115.3 363.5l1.4-2-2.1-3.1-1.4 2-2.2-3.1-1.4 1.8 2.1 3 1.5-1.7zM131 362.5l-2.1-2.9-1.4 3.2 2.1 2.7zM135.4 367.5l1.4-3.3-2.2-2.6-1.4 3.4zM108.2 360.5l-2.2-3-1.4 1.3 2.2 2.9zM142.5 364.7l-2.1-2.3-1.4 4.1 2.1 2.2z"/>
<path fill="#337cfc" stroke="#337cfc" d="M128.9 359.6l-2.2-2.9-1.4 3.2-2.2-3-1.4 2.9-2.1-3.1-1.5 2.5 2.2 3.1 1.4-2.5 2.2 2.9 1.4-2.8 2.2 2.9zM118.1 359.2l-2.1-3.1-1.4 2.3-2.2-3.1-1.4 2 2.2 3.1 1.4-2 2.1 3.1zM107.4 356l-1.4 1.5 2.2 3 1.4-1.4zM133.2 365l1.4-3.4-2.1-2.8-1.5 3.7zM140.4 362.4l-2.2-2.4-1.4 4.2 2.2 2.3z"/>
<path fill="#3081fa" stroke="#3081fa" d="M134.6 361.6l2.2 2.6 1.4-4.2-2.2-2.5zM102.4 355.8l2.2 3 1.4-1.3-2.2-3zM144.7 366.7l2.2 1.9 1.4-4.6-4.3-3.9-1.5 4.6zM109.6 359.1l1.4-1.8-2.2-3.1-1.4 1.8zM128.9 359.6l2.1 2.9 1.5-3.7-2.2-2.8z"/>
<path fill="#2e87f7" stroke="#2e87f7" d="M141.8 357.9l-1.4 4.5 2.1 2.3 1.5-4.6zM108.8 354.2l2.2 3.1 1.4-2-2.2-3.1zM125.3 359.9l1.4-3.2-2.2-3-1.4 3.2zM116 356.1l2.1 3.1 1.5-2.5-2.2-3.1zM116 356.1l-2.2-3.1-1.4 2.3 2.2 3.1zM107.4 356l-2.2-3.1-1.4 1.6 2.2 3zM123.1 356.9l-2.1-3.1-1.4 2.9 2.1 3.1z"/>
<path fill="#2d8cf3" stroke="#2d8cf3" d="M103.1 349.7l-2.8 2.9 2.1 3.2 2.8-2.9 2.2 3.1 1.4-1.8-2.2-3.1-1.4 1.8zM136 357.5l-2.1-2.7-1.4 4 2.1 2.8zM113.8 353l2.2 3.1 1.4-2.5-2.2-3.2zM126.7 356.7l2.2 2.9 1.4-3.6-2.2-2.9zM117.4 353.6l2.2 3.1 1.4-2.9-2.2-3.1zM139.6 355.6l-1.4 4.4 2.2 2.4 1.4-4.5z"/>
<path fill="#2b91ef" stroke="#2b91ef" d="M132.5 358.8l1.4-4-2.2-2.7-1.4 3.9zM112.4 355.3l1.4-2.3-2.2-3.1-1.4 2.3-2.1-3.2-1.5 2.1 2.2 3.1 1.4-2zM124.5 353.7l-2.1-3-1.4 3.1 2.1 3.1zM148.3 364l1.4-4.7-2.2-1.8-1.4 4.6z"/>
<path fill="#2896eb" stroke="#2896eb" d="M125.9 350.2l-1.4 3.5 2.2 3 1.4-3.6zM104.5 347.8l-1.4 1.9-2.2-3.4-2.8 3.1 2.2 3.2 2.8-2.9 2.1 3.2 1.4-1.8zM115.2 350.4l-2.2-3.2-1.4 2.7-2.1-3.4-1.4 2.5 2.1 3.2 1.4-2.3 2.2 3.1zM115.2 350.4l2.2 3.2 1.4-2.9-2.2-3.2zM147.5 357.5l-2.1-2-1.4 4.6 2.1 2zM139.6 355.6l-2.2-2.5-1.4 4.4 2.2 2.5z"/>
<path fill="#259be8" stroke="#259be8" d="M135.3 350.6l-1.4 4.2 2.1 2.7 1.4-4.4zM118.8 350.7l2.2 3.1 1.4-3.1-2.2-3.1zM130.3 356l1.4-3.9-2.2-2.8-1.4 3.8zM123.8 347.2l-1.4 3.5 2.1 3 1.4-3.5zM103.1 349.7l1.4-1.9-2.2-3.5-1.4 2zM104.5 347.8l2.1 3.3 1.5-2.1-2.2-3.4zM141.8 357.9l2.2 2.2 1.4-4.6-2.2-2.2z"/>
<path fill="#23a0e5" stroke="#23a0e5" d="M141.8 357.9l1.4-4.6-2.2-2.2-1.4 4.5zM116.6 347.5l2.2 3.2 1.4-3.1-2.2-3.2zM116.6 347.5l-2.1-3.2-1.5 2.9-2.1-3.3-1.4 2.6 2.1 3.4 1.4-2.7 2.2 3.2zM135.3 350.6l-2.2-2.6-1.4 4.1 2.2 2.7zM129.5 349.3l-2.1-2.9-1.5 3.8 2.2 2.9zM100.9 346.3l-2.2-3.6-2.8 3.1 2.2 3.6zM108.1 349l1.4-2.5-2.2-3.4-1.4 2.5z"/>
<path fill="#20a5e2" stroke="#20a5e2" d="M151.1 354.6l-2.2-1.8-1.4 4.7 2.2 1.8zM141 351.1l-2.1-2.4-1.5 4.4 2.2 2.5zM102.3 344.3l2.2 3.5 1.4-2.2-2.2-3.6zM123.8 347.2l-2.2-3.1-1.4 3.5 2.2 3.1z"/>
<path fill="#1ca9df" stroke="#1ca9df" d="M137.4 353.1l1.5-4.4-2.2-2.4-1.4 4.3zM125.2 343.5l-1.4 3.7 2.1 3 1.5-3.8zM97.3 344.4l-2.2-3.6-1.4 1.5 2.2 3.5zM112.3 340.9l-1.4 3-2.2-3.5-1.4 2.7 2.2 3.4 1.4-2.6 2.1 3.3 1.5-2.9 2.1 3.2 1.4-3.1-2.1-3.3-1.4 3.2zM98.7 342.7l2.2 3.6 1.4-2-2.2-3.6zM133.1 348l-2.2-2.7-1.4 4 2.2 2.8zM146.8 350.8l-1.4 4.7 2.1 2 1.4-4.7zM107.3 343.1l-2.2-3.5-1.4 2.4 2.2 3.6z"/>
<path fill="#17addb" stroke="#17addb" d="M143.2 353.3l2.2 2.2 1.4-4.7-2.2-2zM121.6 344.1l-2.2-3.1-1.4 3.4 2.2 3.2zM102.3 344.3l1.4-2.3-2.2-3.5-1.4 2.2zM95.1 340.8l2.2 3.6 1.4-1.7-2.1-3.6zM128.8 342.5l-1.4 3.9 2.1 2.9 1.4-4z"/>
<path fill="#10b1d6" stroke="#10b1d6" d="M136.7 346.3l-2.2-2.5-1.4 4.2 2.2 2.6zM125.2 343.5l-2.2-3-1.4 3.6 2.2 3.1zM110.1 337.6l-1.4 2.8 2.2 3.5 1.4-3 2.2 3.4 1.4-3.2-2.2-3.2-1.4 3zM93.7 342.3l1.4-1.5-2.1-3.8-1.4 1.6zM98.7 342.7l1.4-2-2.1-3.6-1.4 2zM108.7 340.4l-2.2-3.4-1.4 2.6 2.2 3.5zM144.6 348.8l-2.2-2.2-1.4 4.5 2.2 2.2z"/>
<path fill="#09b5d0" stroke="#09b5d0" d="M101.5 338.5l-2.1-3.6-1.4 2.2 2.1 3.6zM101.5 338.5l2.2 3.5 1.4-2.4-2.1-3.5zM148.9 352.8l2.2 1.8 1.4-4.5-2.1-1.8zM128.8 342.5l-2.2-2.8-1.4 3.8 2.2 2.9zM134.5 343.8l-2.2-2.6-1.4 4.1 2.2 2.7zM93 337l2.1 3.8 1.5-1.7-2.2-3.9zM140.3 344.4l-1.4 4.3 2.1 2.4 1.4-4.5zM115.9 341.1l2.1 3.3 1.4-3.4-2.1-3.2z"/>
<path fill="#03b8ca" stroke="#03b8ca" d="M94.4 335.2l2.2 3.9 1.4-2-2.2-4zM110.1 337.6l2.2 3.3 1.4-3-2.2-3.3zM110.1 337.6l-2.2-3.4-1.4 2.8 2.2 3.4zM140.3 344.4l-2.2-2.3-1.4 4.2 2.2 2.4zM148.9 352.8l1.5-4.5-4.4-3.9-1.4 4.4zM106.5 337l-2.1-3.6-1.4 2.7 2.1 3.5zM121.6 344.1l1.4-3.6-2.2-3-1.4 3.5zM91.6 338.6l1.4-1.6-2.2-3.9-1.4 1.5z"/>
<path fill="#05bac3" stroke="#05bac3" d="M117.3 337.8l2.1 3.2 1.4-3.5-2.1-3.1zM117.3 337.8l-2.2-3.2-1.4 3.3 2.2 3.2zM130.9 345.3l1.4-4.1-2.1-2.6-1.4 3.9zM135.9 339.6l-1.4 4.2 2.2 2.5 1.4-4.2zM90.8 333.1l2.2 3.9 1.4-1.8-2.2-3.8zM103 336.1l-2.2-3.9-1.4 2.7 2.1 3.6zM98 337.1l1.4-2.2-2.2-4.1-1.4 2.3zM144.6 348.8l1.4-4.4-2.2-2.1-1.4 4.3zM123 340.5l2.2 3 1.4-3.8-2.2-2.9z"/>
<path fill="#0ebdbc" stroke="#0ebdbc" d="M120.8 337.5l2.2 3 1.4-3.7-2.1-3zM104.4 333.4l2.1 3.6 1.4-2.8-2.1-3.8zM126.6 339.7l2.2 2.8 1.4-3.9-2.2-2.8zM132.3 341.2l2.2 2.6 1.4-4.2-2.1-2.4zM110.1 337.6l1.4-3-2.1-3.6-1.5 3.2zM141.7 340.2l-1.4 4.2 2.1 2.2 1.4-4.3z"/>
<path fill="#18bfb6" stroke="#18bfb6" d="M139.5 338l-1.4 4.1 2.2 2.3 1.4-4.2zM148.2 346.4l4.3 3.7 1.4-4.2-4.3-3.6zM100.8 332.2l2.2 3.9 1.4-2.7-2.2-3.8zM100.8 332.2l-2.2-3.5-1.4 2.1 2.2 4.1zM111.5 334.6l2.2 3.3 1.4-3.3-2.2-3.3zM92.2 331.4l2.2 3.8 1.4-2.1-2.2-3.6zM118.7 334.4l-2.2-3.1-1.4 3.3 2.2 3.2zM90.8 333.1l-2.2-3.4-1.4 1.5 2.2 3.4z"/>
<path fill="#23c1ae" stroke="#23c1ae" d="M118.7 334.4l2.1 3.1 1.5-3.7-2.2-2.8zM126.6 339.7l1.4-3.9-2.2-2.6-1.4 3.6zM132.3 341.2l1.5-4-2.2-2.4-1.4 3.8zM93.6 329.5l2.2 3.6 1.4-2.3-2.2-3.3zM88.6 329.7l2.2 3.4 1.4-1.7-2.2-3.4zM109.4 331l-2.2-3.2-1.4 2.6 2.1 3.8zM147.4 340.4l-1.4 4 2.2 2 1.4-4.1z"/>
<path fill="#2bc4a7" stroke="#2bc4a7" d="M130.2 338.6l1.4-3.8-2.2-2.5-1.4 3.5zM102.2 329.6l2.2 3.8 1.4-3-2.2-3.2zM102.2 329.6l-2.2-3.2-1.4 2.3 2.2 3.5zM92.2 331.4l1.4-1.9-2.1-3.3-1.5 1.8zM86.5 326.4l-1.4 1.5 2.1 3.3 1.4-1.5zM139.5 338l-2.2-2.2-1.4 3.8 2.2 2.5zM112.9 331.3l2.2 3.3 1.4-3.3-2.2-2.9zM112.9 331.3l-2.1-3.1-1.4 2.8 2.1 3.6zM125.8 333.2l-2.1-2.6-1.4 3.2 2.1 3zM146 344.4l1.4-4-2.1-2-1.5 3.9z"/>
<path fill="#31c69f" stroke="#31c69f" d="M92.9 324.3l-1.4 1.9 2.1 3.3 1.4-2 2.2 3.3 1.4-2.1-2.2-3.3-1.4 2.1zM87.9 324.7l-1.4 1.7 2.1 3.3 1.4-1.7zM133.8 337.2l2.1 2.4 1.4-3.8-2.1-2.2zM153.9 345.9l1.4-3.7-2.1-1.8-1.4 3.7zM117.9 328.3l-1.4 3 2.2 3.1 1.4-3.4zM143.8 342.3l1.5-3.9-2.2-2-1.4 3.8z"/>
<path fill="#38c897" stroke="#38c897" d="M125.8 333.2l2.2 2.6 1.4-3.5-2.2-2.4zM105 324.8l-1.4 2.4 2.2 3.2 1.4-2.6 2.2 3.2 1.4-2.8 2.1 3.1 1.4-2.9-2.1-2.8-1.4 2.6-2.2-2.9-1.4 2.5zM120.1 331l2.2 2.8 1.4-3.2-2.2-2.6zM133 331.4l-1.4 3.4 2.2 2.4 1.4-3.6zM89.3 322.9l-1.4 1.8 2.1 3.3 1.5-1.8zM100 326.4l-2.1-3.1-1.5 2.1 2.2 3.3zM100 326.4l2.2 3.2 1.4-2.4-2.2-3zM153.2 340.4l-4.4-3.5-1.4 3.5 4.4 3.7zM140.9 334.4l-1.4 3.6 2.2 2.2 1.4-3.8zM86.5 326.4l-2.2-3.3-1.4 1.5 2.2 3.3z"/>
<path fill="#40ca8e" stroke="#40ca8e" d="M87.9 324.7l-2.2-3.3-1.4 1.7 2.2 3.3zM96.4 325.4l-2.1-3.1-1.4 2-2.2-3.3-1.4 1.9 2.2 3.3 1.4-1.9 2.1 3.2zM116.5 331.3l1.4-3-2.2-2.7-1.4 2.8zM145.3 338.4l2.1 2 1.4-3.5-2.1-1.8zM140.9 334.4l-2.2-2-1.4 3.4 2.2 2.2zM131.6 334.8l1.4-3.4-2.2-2.3-1.4 3.2zM125.1 327.5l-1.4 3.1 2.1 2.6 1.4-3.3z"/>
<path fill="#4acb84" stroke="#4acb84" d="M143.1 336.4l2.2 2 1.4-3.3-2.2-1.8zM115.7 325.6l-2.1-2.7-1.4 2.7 2.1 2.8zM99.3 321.1l-1.4 2.2-2.2-3.1-1.4 2.1 2.1 3.1 1.5-2.1 2.1 3.1 1.4-2.2zM106.4 322.5l-1.4 2.3-2.2-2.9-1.4 2.3 2.2 3 1.4-2.4 2.2 3 1.4-2.5zM135.2 333.6l2.1 2.2 1.4-3.4-2.1-2zM156.7 339.1l-2.1-1.7-1.4 3 2.1 1.8zM82.9 324.6l1.4-1.5-2.2-3.1-1.4 1.6zM130.8 329.1l-2.1-2.2-1.5 3 2.2 2.4zM112.2 325.6l-2.2-2.8-1.4 2.5 2.2 2.9zM119.3 325.4l-1.4 2.9 2.2 2.7 1.4-3zM87.9 324.7l1.4-1.8-2.2-3.2-1.4 1.7z"/>
<path fill="#57cc7a" stroke="#57cc7a" d="M143.1 336.4l1.4-3.1-2.2-1.9-1.4 3zM92.1 319.1l-1.4 1.9 2.2 3.3 1.4-2zM88.5 318l-1.4 1.7 2.2 3.2 1.4-1.9zM134.4 328.4l-1.4 3 2.2 2.2 1.4-3.2zM83.5 318.5l-1.4 1.5 2.2 3.1 1.4-1.7zM119.3 325.4l-2.1-2.4-1.5 2.6 2.2 2.7zM105 324.8l1.4-2.3-2.2-2.8-1.4 2.2zM152.4 335.7l-2.2-1.8-1.4 3 4.4 3.5 1.4-3zM121.5 328l2.2 2.6 1.4-3.1-2.2-2.4z"/>
<path fill="#64cd70" stroke="#64cd70" d="M101.4 324.2l1.4-2.3-2.1-2.9-1.4 2.1-2.2-2.9-1.4 2 2.2 3.1 1.4-2.2zM128.7 326.9l-2.2-2.1-1.4 2.7 2.1 2.4zM134.4 328.4l-2.2-2-1.4 2.7 2.2 2.3zM146.7 335.1l2.1 1.8 1.4-3-2.1-1.7zM95.7 320.2l-2.2-2.9-1.4 1.8 2.2 3.2zM119.3 325.4l2.2 2.6 1.4-2.9-2.2-2.2zM107.8 320.1l-1.4 2.4 2.2 2.8 1.4-2.5zM154.6 337.4l2.1 1.7 1.5-2.5-2.2-1.7zM138.7 332.4l2.2 2 1.4-3-4.3-3.8-1.4 2.8zM85.7 321.4l1.4-1.7-2.2-2.9-1.4 1.7zM110 322.8l2.2 2.8 1.4-2.7-2.2-2.5zM80.7 321.6l1.4-1.6-2.1-2.9-1.4 1.5z"/>
<path fill="#70cd67" stroke="#70cd67" d="M110 322.8l1.4-2.4-2.2-2.3-1.4 2zM83.5 318.5l-2.1-3-1.4 1.6-2.2-3-1.4 1.5 2.2 3 1.4-1.5 2.1 2.9zM107.8 320.1l-2.1-2.5-1.5 2.1-2.1-2.6-1.4 1.9-2.2-2.6-1.4 1.8 2.2 2.9 1.4-2.1 2.1 2.9 1.4-2.2 2.2 2.8zM86.4 315.2l-1.5 1.6 2.2 2.9 1.4-1.7 2.2 3 1.4-1.9-2.2-2.8-1.4 1.7zM142.3 331.4l4.4 3.7 1.4-2.9-4.4-3.4zM152.4 335.7l2.2 1.7 1.4-2.5-4.4-3.3-1.4 2.3zM130.1 324.4l-1.4 2.5 2.1 2.2 1.4-2.7zM115 320.6l-1.4 2.3 2.1 2.7 1.5-2.6zM117.2 323l2.1 2.4 1.4-2.5-2.1-2.3zM136.6 330.4l1.4-2.8-2.2-1.8-1.4 2.6zM125.1 327.5l1.4-2.7-2.2-2.1-1.4 2.4z"/>
<path fill="#7dcc5d" stroke="#7dcc5d" d="M149.5 330l-1.4 2.2 2.1 1.7 1.4-2.3zM89.9 316.3l-2.1-2.7-1.4 1.6 2.1 2.8zM89.9 316.3l2.2 2.8 1.4-1.8-2.2-2.7zM130.1 324.4l-2.2-2-1.4 2.4 2.2 2.1zM93.5 317.3l2.2 2.9 1.4-2-2.2-2.6zM133.6 324l-1.4 2.4 2.2 2 1.4-2.6zM82.8 313.9l-1.4 1.6-2.2-3-1.4 1.6 2.2 3 1.4-1.6 2.1 3 1.4-1.7zM115 320.6l2.2 2.4 1.4-2.4-2.2-2.1zM115 320.6l-2.2-2.3-1.4 2.1 2.2 2.5zM120.7 322.9l2.2 2.2 1.4-2.4-2.2-2.1zM141.6 327.1l-1.4 2.4 2.1 1.9 1.4-2.6zM158.2 336.6l1.4-2.2-2.2-1.7-1.4 2.2z"/>
<path fill="#89cb55" stroke="#89cb55" d="M157.4 332.7l-4.3-3.2-1.5 2.1 4.4 3.3zM74.2 312.6l2.2 3 1.4-1.5-2.2-3zM102.1 317.1l-2.2-2.5-1.4 1.8-2.2-2.5-1.4 1.7-2.1-2.6-1.5 1.6-2.1-2.6-1.4 1.6 2.1 2.7 1.4-1.7 2.2 2.7 1.4-1.7 2.2 2.6 1.4-1.8 2.2 2.6zM102.1 317.1l2.1 2.6 1.5-2.1-2.2-2.3zM109.2 318.1l-2.1-2.3-1.4 1.8 2.1 2.5zM109.2 318.1l2.2 2.3 1.4-2.1-2.2-2.2zM148.1 332.2l1.4-2.2-4.4-3.3-1.4 2.1zM141.6 327.1l-4.4-3.4-1.4 2.1 4.4 3.7zM126.5 324.8l1.4-2.4-2.2-1.9-1.4 2.2zM79.2 312.5l2.2 3 1.4-1.6-2.2-2.9zM120.7 322.9l1.4-2.3-2.1-2-1.4 2zM84.2 312.3l-1.4 1.6 2.1 2.9 1.5-1.6zM131.5 322.2l-1.4 2.2 2.1 2 1.4-2.4z"/>
<path fill="#95ca4c" stroke="#95ca4c" d="M77 309.6l-1.4 1.5 2.2 3 1.4-1.6zM107.1 315.8l-2.2-2.2-1.4 1.7-2.2-2.3-1.4 1.6 2.2 2.5 1.4-1.8 2.2 2.3zM107.1 315.8l2.1 2.3 1.4-2-2.1-2.1zM117.8 316.6l-1.4 1.9-2.2-2.1-1.4 1.9 2.2 2.3 1.4-2.1 2.2 2.1 1.4-2zM163 270l-4.3-1.7-1.4-.3 4.3 1.6zM129.3 320.4l-1.4 2 2.2 2 1.4-2.2zM122.1 320.6l2.2 2.1 1.4-2.2-2.1-1.9zM86.4 315.2l1.4-1.6-2.2-2.8-1.4 1.5-2.2-2.7-1.4 1.4 2.2 2.9 1.4-1.6zM158.8 330.8l-2.2-1.6-1.4 1.9 4.4 3.3 1.4-2.1zM97.7 312.2l-1.4 1.7 2.2 2.5 1.4-1.8zM137.2 323.7l-2.2-1.7-1.4 2 2.2 1.8zM145.1 326.7l-4.3-3.3-1.4 2 4.3 3.4zM147.3 328.3l4.3 3.3 1.5-2.1-4.4-3.1zM94.9 315.6l1.4-1.7-2.1-2.5-1.4 1.6z"/>
<path fill="#a1c844" stroke="#a1c844" d="M156.6 329.2l-4.3-2.9-1.4 1.6 4.3 3.2zM138.6 321.8l-1.4 1.9 2.2 1.7 1.4-2zM135 322l-4.3-3.4-1.4 1.8 4.3 3.6zM157.3 268l-1.4-.3 4.3 1.5 9.4 2.8-8-2.4zM125.7 320.5l2.2 1.9 1.4-2-4.3-3.5-1.4 1.7-2.2-1.8-1.4 1.8 2.1 2 1.5-2zM80.6 311l-2.2-2.8-1.4 1.4 2.2 2.9zM146.5 324.8l-2.1-1.5-1.4 1.8 4.3 3.2 1.4-1.9zM89.2 312l2.1 2.6 1.5-1.6-2.2-2.6zM89.2 312l-2.2-2.6-1.4 1.4-2.2-2.6-1.4 1.4 2.2 2.7 1.4-1.5 2.2 2.8zM112.8 318.3l1.4-1.9 2.2 2.1 1.4-1.9-2.2-1.9-1.4 1.7-2.1-2-1.5 1.7zM99.1 310.7l-1.4 1.5-2.1-2.3-1.4 1.5 2.1 2.5 1.4-1.7 2.2 2.4 1.4-1.6 2.2 2.3 1.4-1.7-2.2-2.2-1.4 1.6zM72 309.5l2.2 3.1 1.4-1.5-2.2-3.1zM160.2 329l-1.4 1.8 2.2 1.5 1.4-1.9z"/>
<path fill="#acc63d" stroke="#acc63d" d="M87 309.4l-2.2-2.5-1.4 1.3 2.2 2.6zM87 309.4l2.2 2.6 1.4-1.6 2.2 2.6 1.4-1.6-2.2-2.4-1.4 1.4-2.2-2.4zM155.9 267.7l-2.8-.8 2.1.8 7.2 2.2zM119.2 315l-2.2-1.8-1.4 1.5-2.1-1.8-1.4 1.5-2.2-1.9-1.4 1.5-2.2-2-1.4 1.6 2.2 2.2 1.4-1.8 2.1 2.1 1.5-1.7 2.1 2 1.4-1.7 4.4 3.9 1.4-1.8zM143 325.1l1.4-1.8-4.4-3-1.4 1.5-4.3-3.1-1.4 1.6 4.3 3.4 1.4-1.9zM150.1 324.8l-2.1-1.5-1.5 1.5 4.4 3.1 1.4-1.6 6.5 4.5 1.4-1.8-6.5-4.3-1.4 1.6zM162.4 269.9l6.5 2.1 7.2 2zM75.6 311.1l1.4-1.5-2.1-3-1.5 1.4zM80.6 311l1.4-1.4-2.2-2.7-1.4 1.3zM128.5 317l-1.4 1.6 2.2 1.8 1.4-1.8zM125 316.9l-2.2-1.7-1.4 1.6 2.2 1.8z"/>
<path fill="#b6c436" stroke="#b6c436" d="M141.4 318.9l-1.4 1.4 6.5 4.5 1.5-1.5 4.3 3 1.4-1.6-4.3-3-1.4 1.6zM120.6 313.6l-1.4 1.4 2.2 1.8 1.4-1.6zM100.6 309.4l-1.5 1.3-2.1-2.1-1.4 1.3 2.1 2.3 1.4-1.5 2.2 2.3 1.4-1.6 2.2 2.2 1.4-1.6 2.2 2 1.4-1.5-2.2-1.9-1.4 1.4-2.2-2-1.4 1.4zM113.5 312.9l-2.2-1.8-1.4 1.4 2.2 1.9zM113.5 312.9l2.1 1.8 1.4-1.5-2.1-1.6zM158 327.5l4.4 2.9 1.4-2.2-6.5-4-1.4 1.9zM153.8 267.2l1.4.5-2.1-.8-1.4-.4zM82 309.6l1.4-1.4-2.1-2.6-1.5 1.3zM92 309l2.2 2.4 1.4-1.5-2.2-2.1zM92 309l-2.2-2.2-1.4 1.2-2.2-2.3-1.4 1.2 2.2 2.5 1.4-1.4 2.2 2.4zM122.8 315.2l4.3 3.4 1.4-1.6-4.3-3.1zM178.2 274.5l-3.5-.8-13.7-4.2 14.4 4.5 3.6.8 1.4.2zM72 309.5l1.4-1.5-2.1-3.7-1.4 1.3zM78.4 308.2l-2.1-3-1.4 1.4 2.1 3zM158.8 268.8l-2.2-.7-1.4-.4 2.2.7zM129.9 315.7l-1.4 1.3 4.4 3.3 1.4-1.6 4.3 3.1 1.4-1.5-4.3-3-1.4 1.4z"/>
<path fill="#c1c231" stroke="#c1c231" d="M129.9 315.7l4.4 3 1.4-1.4 4.3 3 1.4-1.4-4.3-3-1.4 1.4-4.3-3zM129.9 315.7l-4.3-3.1-1.4 1.3-4.3-3.1-1.5 1.2-2.1-1.6-1.4 1.2-2.2-1.6-1.4 1.1 2.2 1.8 1.4-1.3 4.3 3.4 1.4-1.4 2.2 1.6 1.4-1.3 4.3 3.1zM179.8 275.1l4.9.7-5.7-1-3.6-.8-13.7-4.3 8.7 2.9 5.8 1.7zM93.4 307.8l2.2 2.1 1.4-1.3 2.1 2.1 1.5-1.3 2.1 2 1.4-1.4 2.2 2 1.4-1.4 2.2 1.9 1.4-1.4-4.3-3.3-1.5 1.1-2.1-1.7-1.4 1-2.2-1.8-1.4 1.1-2.2-1.9zM93.4 307.8l-2.2-2.1-1.4 1.1 2.2 2.2zM76.3 305.2l2.1 3 2.9-2.6 2.1 2.6 1.4-1.3-2.1-2.6-1.4 1.3-2.2-3.1zM163.8 328.2l1.4-1.8-4.3-2.5-1.4 1.7zM157.3 324.2l-6.5-4.1-1.4 1.6 6.5 4.4zM87.7 304.5l-1.5 1.2 2.2 2.3 1.4-1.2zM147.2 320.2l-4.3-2.9-1.5 1.6 6.6 4.4 1.4-1.6zM74.9 306.6l-2.2-3.6-1.4 1.3 2.1 3.7z"/>
<path fill="#cbc02d" stroke="#cbc02d" d="M155.1 322.9l4.4 2.7 1.4-1.7-8.7-5.1-1.4 1.3zM79.1 302.5l2.2 3.1 1.4-1.3 2.1 2.6 2.9-2.4-2.2-2.5-2.8 2.3-2.2-2.9zM94 303.5l-2.8 2.2-2.1-2.4-1.4 1.2 2.1 2.3 1.4-1.1 2.2 2.1 2.8-2.2 2.2 1.9 1.4-1.1-2.2-2-1.4 1.2zM151 266.3l-2.2-.8-1.4-.4 2.2.7zM129.2 312.8l-4.4-2.9-1.4 1.1-2.1-1.5-1.4 1.3 4.3 3.1 1.4-1.3 4.3 3.1 1.5-1.4 4.3 3 1.4-1.4 4.3 3 1.5-1.6-4.4-2.8-1.4 1.4-6.5-4.3zM174.8 274l5.7 1.4 7.2 1.1 1.4 0-9.3-1.4-3.6-.8-5.8-1.7-9.3-3.1 10.1 3.5zM148.6 318.8l-4.3-2.7-1.4 1.2 6.5 4.4 1.4-1.6zM111.9 307.2l-1.4 1.1-2.1-1.7-1.4 1.2-2.2-1.8-1.4 1.2-2.2-1.9-1.4 1.1 2.2 1.8 1.4-1 2.1 1.7 1.5-1.1 4.3 3.3 1.4-1.1 2.2 1.6 1.4-1.2 2.1 1.6 1.5-1.2-2.2-1.6-2.2-1.5-1.4 1.1zM69.9 305.6l1.4-1.3-2.2-3.2-1.4 1.3zM164.4 323.7l-1.4 1.4 2.2 1.3 1.4-1.4zM72.7 303l2.2 3.6 2.8-2.8-2.2-3.1zM156.8 268.1l-2.2-.7-1.4-.4 2.1.7z"/>
<path fill="#d4be2d" stroke="#d4be2d" d="M178.3 274.9l-1.4-.2-5.7-1.7-10.1-3.5-15.1-4.9 13.7 4.5 12.2 4.4 5.8 1.6 7.2 1.4 1.4 0 2.1.5 1.4 0 2.2.5 1.4-.1-4.3-.9-1.4 0-2.2-.4-1.4-.1zM122.7 308.6l-2.2-1.3-1.4.8-2.2-1.3-1.4.9-4.3-2.8-1.4.8-2.2-1.4-1.4.8-2.2-1.5-1.4.8-2.2-1.6-2.8 1.6 2.2 2 1.4-1.1 2.2 1.9 1.4-1.2 2.2 1.8 1.4-1.2 2.1 1.7 1.4-1.1 2.2 1.6 1.4-1.1 4.4 3.1 1.4-1.3 2.1 1.5 1.4-1.1 4.4 2.9 1.4-1.2-4.3-2.7-1.5 1zM92.6 304.5l1.4-1-2.1-1.9-2.8 1.7-2.2-2.2-1.4.9 2.2 2.5 1.4-1.2 2.1 2.4zM144.3 316.1l-6.5-3.9-1.5 1-4.3-2.6-1.4 1 6.5 4.3 1.4-1.4 4.4 2.8zM144.3 316.1l6.5 4 1.4-1.3 10.8 6.3 1.4-1.4 2.2 1.3 1.4-1.1-4.3-2.5-1.4 1.2-8.7-4.8-1.4 1-6.5-3.8zM71.3 304.3l1.4-1.3-2.2-3.1-1.4 1.2zM81.9 300.5l-1.4.9 2.2 2.9 1.4-1.2zM95.5 302.6l-1.5.9 2.2 2.1 1.4-1.2zM75.5 300.7l2.2 3.1 1.4-1.3-2.2-2.8z"/>
<path fill="#ddbb2f" stroke="#ddbb2f" d="M153.6 317.8l8.7 4.8 1.4-1.2 4.3 2.5 2.8-1.6-2.1-1.4-1.4.8-8.7-4.7-1.4.9-8.7-4.8-1.4.9-4.4-2.4-1.4.9-6.5-3.6-1.4.8-6.5-3.6-1.4.8-4.3-2.4-1.5.7-4.3-2.4-1.4.7-2.2-1.3-1.4.7-2.2-1.3-1.4.6-2.1-1.3-2.8 1.2-2.2-1.5-2.8 1.3-2.2-1.6-2.8 1.3-2.2-1.9-2.8 1.4 2.2 2.2 2.8-1.7 2.1 1.9 1.5-.9 2.1 1.8 2.8-1.6 2.2 1.6 1.4-.8 2.2 1.5 1.4-.8 2.2 1.4 1.4-.8 4.3 2.8 1.4-.9 2.2 1.3 1.4-.8 4.3 2.6 1.5-1 4.3 2.7 1.4-1 4.3 2.6 1.5-1 6.5 3.9 1.4-1.1 6.5 3.8zM171.9 273.5l-14.4-5.1-11.5-3.8-2.8-.5 15.1 4.5 10.8 4.4 1.4.2 4.4 1.5 1.4.2 4.3 1.4 1.4 0 2.2.7 1.4 0 2.2.6 2.8-.1 2.2.5 2.8-.3-2.2-.3-1.4.1-2.2-.5-1.4 0-2.1-.5-1.4 0-7.2-1.4zM86.9 301.1l-2.2-2.1-2.8 1.5 2.2 2.6zM65.5 299.7l2.2 2.7 1.4-1.3-2.2-2.7zM71.9 298.9l-1.4 1 2.2 3.1 2.8-2.3-2.2-2.8zM78.3 298.8l-1.4.9 2.2 2.8 1.4-1.1z"/>
<path fill="#e6b934" stroke="#e6b934" d="M164.1 271.6l2.2 1 1.4.2 4.4 1.7 1.4.1 6.5 2.4 1.4 0 2.2.7 1.4 0 2.1.7 1.4-.1 2.2.6 4.2-.5 2.2.4 2.8-.5-4.3-.6-2.8.3-2.2-.5-2.8.1-2.2-.6-1.4 0-2.2-.7-1.4 0-4.3-1.4-1.4-.2-4.4-1.5-1.4-.2-10.8-4.4-15.1-4.5-4.2.1 2.1.7 1.5-.1 2.1.7 1.4 0 2.2.7 1.4.2 4.4 1.3 1.4.3 2.1.7zM152.8 315.5l4.4 2.4 1.4-.9 8.7 4.7 1.4-.8 2.1 1.4 2.9-1.3 2.8-1.7-2.2-1.4-1.4.8-2.2-1.4-1.4.7-2.2-1.2-1.4.8-6.5-3.5-1.4.8-8.7-4.7-1.4.9-6.5-3.5-1.4.8-8.7-4.5-1.4.7-6.5-3.4-1.4.7-4.3-2.3-1.4.7-4.4-2.4-1.4.6-2.2-1.3-2.8 1.2-2.2-1.4-2.8 1.1-2.1-1.5-5.7 2-2.1-1.7-5.7 2.1 2.2 2.1 2.8-1.4 2.2 1.9 2.8-1.3 2.2 1.6 2.8-1.3 2.2 1.5 2.8-1.2 2.1 1.3 1.4-.6 2.2 1.3 1.4-.7 2.2 1.3 1.4-.7 4.3 2.4 1.5-.7 4.3 2.4 1.4-.8 6.5 3.6 1.4-.8 6.5 3.6 1.4-.9 4.4 2.4 1.4-.9zM66.9 298.4l2.2 2.7 1.4-1.2-2.2-2.6zM78.3 298.8l2.2 2.6 4.2-2.4-2.2-2.1zM76.9 299.7l-2.2-2.6-1.4.8 2.2 2.8z"/>
<path fill="#eeb73b" stroke="#eeb73b" d="M125.4 302.3l4.3 2.3 1.4-.7 8.7 4.5 1.4-.8 6.5 3.5 1.4-.9 8.7 4.7 1.4-.8 6.5 3.5 1.4-.8 2.2 1.2 1.4-.7 2.2 1.4 1.4-.8 2.2 1.4 4.2-2.2-2.2-1.3-1.4.6-2.2-1.3-1.4.7-2.1-1.2-1.4.7-4.4-2.4-1.4.7-6.5-3.4-1.4.8-8.7-4.6-1.4.7-13-6.5-1.4.7-13-6.5-1.5.6-4.3-2.3-1.4.6-2.2-1.2-1.4.6-2.2-1.3-2.8 1-2.1-1.2-18.4 5.3 2.2 2.1 5.7-2.1 2.1 1.7 5.7-2 2.1 1.5 2.8-1.1 2.2 1.4 2.8-1.2 2.2 1.3 1.4-.6 4.4 2.4 1.4-.7 4.3 2.3 1.4-.7zM157 269.3l10.8 5 1.4 0 6.6 2.8 1.4-.1 4.3 1.8 1.4-.1 2.2.8 1.4-.1 2.2.7 2.8-.4 2.1.7 5.7-1.1 2.2.4 2.8-.7-4.4-.7-2.8.5-2.2-.4-4.2.5-2.2-.6-1.4.1-2.1-.7-1.4 0-2.2-.7-1.4 0-6.5-2.4-1.4-.1-4.4-1.7-1.4-.2-6.5-3-4.3-1.6-1.4-.3-4.4-1.3-1.4-.2-2.2-.7-1.4 0-2.1-.7-1.5.1-2.1-.7-9.9 1.5 2.2.8 4.2-.8 2.2.7 2.8-.5 2.2.7 2.8-.3 2.2.6 1.4 0 2.1.7 1.4 0zM68.3 297.3l-2.1-3-2.8 2.1 2.1 3.3zM68.3 297.3l2.2 2.6 2.8-2-2.1-2.6zM79.7 298.1l1.4-.7-2.1-2.1-4.3 1.8 2.2 2.6z"/>
<path fill="#f6b742" stroke="#f6b742" d="M87.6 277.8l2.2 1.1-2.8.7 2.1 1.1-1.4.4 4.4 2.2-1.4.3 2.1 1.1-2.8.7 2.2 1.2-2.8.5 2.1 1.3-4.2.8 2.2 1.5-7.1 1.2 2.2 1.8-5.6 1.6-2.2-2.2-2.8.9-2.8 1.3 2.1 2.6 2.9-1.5 2.8-1.1 2.1 2.1 4.3-1.4 15.5-4.4 2.1 1.2 2.8-1 2.2 1.3 1.4-.6 2.2 1.2 1.4-.6 4.3 2.3 1.5-.6 13 6.5 1.4-.7 13 6.5 1.4-.7 8.7 4.6 1.4-.8 6.5 3.4 1.4-.7 4.4 2.4 1.4-.7 2.1 1.2 1.4-.7 2.2 1.3 1.4-.6 2.2 1.3 5.6-2 24-7.1 5.6-1.9-2.2-1.3-4.2 1.4-2.1-1.3-17 4.8-9.8 3.1-2.2-1.3-1.4.6-2.2-1.3-1.4.6-2.1-1.2-1.5.6-4.3-2.3-1.4.7-4.3-2.3-1.4.7-8.7-4.5-1.4.7-19.6-9.4 1.4-.6-17.3-8.2 1.4-.4-4.4-2 1.5-.5-2.2-1 2.8-.9-2.2-.9 2.9-.9-2.2-.9 7-2.1-2.1-1 7-2 2.2.9 7-1.8 2.2.9 11.3-3.1 2.1.9 2.8-.7 6.6 3 1.4-.2 10.8 5 1.4-.2 6.5 3 1.4-.2 4.4 1.9 1.4-.3 2.2 1 1.4-.3 2.1.9 1.4-.3 2.2.9 9.9-2.9-2.2-.5 5.6-1.5-2.1-.4-2.8.7-2.2-.4-5.7 1.1-2.1-.7-2.8.4-2.2-.7-1.4.1-2.2-.8-1.4.1-4.3-1.8-1.4.1-6.6-2.8-1.4 0-13-6-2.2-.7-1.4 0-2.1-.7-1.4 0-2.2-.6-2.8.3-2.2-.7-2.8.5-2.2-.7-4.2.8-2.2-.8-9.8 2.3-26.8 7.1-5.6 1.3 2.1 1.1zM69.8 296.2l-2.2-2.7-1.4.8 2.1 3z"/>
<path fill="#fdb947" stroke="#fdb947" d="M190.2 302.3l-8.4 2.2-5.7 1.8-2.1-1.2-1.4.5-2.2-1.1-1.4.5-2.2-1.2-1.4.6-4.3-2.3-1.5.6-19.5-9.3 1.4-.5-2.1-1 1.4-.5-2.2-.9 1.4-.5-2.2-1 1.4-.4-2.1-1 4.2-1.3-2.2-.9 1.4-.4 2.9-.8 2.1.9 5.7-1.5 2.1 1 2.8-.8 2.2 1 2.8-.7 2.2 1 1.4-.4 2.2 1 1.4-.3 6.5 3 1.4-.3 6.5 3 1.4-.3 10.9 5.2-1.4.3 2.1 1.1-2.8.7 2.2 1.2-4.2 1.1 2.1 1.1zM82.4 291.9l7.1-1.2-2.2-1.5 4.2-.8-2.1-1.3 2.8-.5-2.2-1.2 2.8-.7-2.1-1.1 1.4-.3-4.4-2.2 1.4-.4-2.1-1.1 2.8-.7-2.2-1.1 1.4-.3-2.1-1.1-5.7 1.2-5.6 1.6-2.8.3 8.6 4.2-1.4.1 2.2 1.2-1.4.1 2.2 1.3-1.4.1 2.1 1.5-2.8.2 2.2 1.6-7.1.9 2.2 2.1-1.4.3 2.2 2.2 5.6-1.6zM139.6 299.5l8.7 4.3 1.4-.7 8.7 4.5 1.4-.7 4.3 2.3 1.4-.7 4.3 2.3 1.5-.6 2.1 1.2 1.4-.6 2.2 1.3 1.4-.6 2.2 1.3 9.8-3.1 17-4.8 2.1 1.3 4.2-1.4 2.2 1.3 8.5-3.7-2.2-1.2-1.4.6-4.3-2.3-1.5.6-2.1-1.1-1.4.5-8.7-4.1 1.4-.5-2.2-.9 4.2-1.4-2.1-.7 2.8-1.1-2.2-.7 2.8-1.2-2.1-.7 2.8-1.3-2.2-.7 1.4-.6-2.1-.8 1.4-.6-2.2-.6 4.2-1.8-2.1-.4 4.2-1.6-4.4-.4-5.6 1.5 2.2.5-9.9 2.9-2.2-.9-1.4.3-2.1-.9-1.4.3-2.2-1-1.4.3-4.4-1.9-1.4.2-6.5-3-1.4.2-10.8-5-1.4.2-6.6-3-2.8.7-2.1-.9-11.3 3.1-2.2-.9-7 1.8-2.2-.9-7 2 2.1 1-7 2.1 2.2.9-2.9.9 2.2.9-2.8.9 2.2 1-1.5.5 4.4 2-1.4.4 17.3 8.2-1.4.6zM63.4 296.4l2.8-2.1-2.2-2.8-2.8 1.9zM71.8 291.7l-4.2 1.8 2.2 2.7 2.8-1.6 2.8-1.1-2.2-2.2z"/>
<path fill="#fec03e" stroke="#fec03e" d="M178.9 305.4l14.1-3.9-2.1-1.1 4.2-1.1-2.2-1.2 2.8-.7-2.1-1.1 1.4-.3-10.9-5.2-1.4.3-6.5-3-1.4.3-6.5-3-1.4.3-2.2-1-1.4.4-2.2-1-2.8.7-2.2-1-2.8.8-2.1-1-5.7 1.5-2.1-.9-4.3 1.2 2.2.9-4.2 1.3 2.1 1-1.4.4 2.2 1-1.4.5 2.2.9-1.4.5 2.1 1-1.4.5 19.5 9.3 1.5-.6 4.3 2.3 1.4-.6 2.2 1.2 1.4-.5 2.2 1.1 1.4-.5 2.1 1.2zM228.6 300.1l-8.7-4.4-1.4.7-2.2-1 1.4-.7-4.3-1.7 1.4-.7-2.2-.7 1.5-.7-2.2-.7 1.4-.7-2.2-.6 2.8-1.4-2.1-.6 1.4-.7-2.2-.6 2.8-1.4-2.1-.6 1.4-.7-2.2-.6 2.8-1.3-2.2-.4 1.5-.6-2.2-.2-4.2 1.6 2.1.4-4.2 1.8 2.2.6-1.4.6 2.1.8-1.4.6 2.2.7-2.8 1.3 2.1.7-2.8 1.2 2.2.7-2.8 1.1 2.1.7-4.2 1.4 2.2.9-1.4.5 8.7 4.1 1.4-.5 2.1 1.1 1.5-.6 4.3 2.3 1.4-.6 2.2 1.2zM81.6 286.5l1.4-.1-2.2-1.3 1.4-.1-2.2-1.2 1.4-.1-8.6-4.2-2.9-.2 2.2 1.2-1.4-.1 6.5 3.5-1.4 0 2.2 1.3-1.4 0 2.1 1.5-2.8 0 2.2 1.7-5.6.5 2.1 2.1-1.4.3 2.2 2.2 2.8-.7-2.2-2.1 7.1-.9-2.2-1.6 2.8-.2zM69 292.8l1.4-.6-2.2-2.4-4.2 1.7 2.2 2.8zM59 290.9l2.2 2.5 1.4-1-2.2-2.5z"/>
<path fill="#fdc638" stroke="#fdc638" d="M232.8 297.7l-6.5-3.4-6.5-2.7 1.4-.8-2.2-.7 1.4-.8-2.1-.6 1.4-.8-2.2-.6 1.4-.8-2.1-.5 1.4-.8-2.2-.5 2.8-1.5-2.2-.4 2.9-1.4-6.5-1.4-1.5.6 2.2.4-2.8 1.3 2.2.6-1.4.7 2.1.6-2.8 1.4 2.2.6-1.4.7 2.1.6-2.8 1.4 2.2.6-1.4.7 2.2.7-1.5.7 2.2.7-1.4.7 4.3 1.7-1.4.7 2.2 1 1.4-.7 8.7 4.4zM70.1 281.2l2.1 1.3-1.4-.2 2.2 1.4-1.4-.1 2.2 1.5-1.5 0 2.2 1.7-4.2.1 2.2 2 5.6-.5-2.2-1.7 2.8 0-2.1-1.5 1.4 0-2.2-1.3 1.4 0-6.5-3.5 1.4.1-2.2-1.2-2.8-.3 2.2 1.2-1.4-.2zM70.4 292.2l4.2-1.2-2.1-2.1-4.3.9zM62.6 292.4l1.4-.9 2.8-1.3-2.1-2.3-2.9 1.2-1.4.8z"/>
<path fill="#fbcd32" stroke="#fbcd32" d="M59 290.9l2.8-1.8 1.4-.7-2.1-2.3-2.8 1.4-1.4.9zM71.6 283.6l1.4.1-2.2-1.4 1.4.2-4.3-2.5 1.4.2-2.2-1.2-2.8-.5 2.2 1.3-1.4-.3 4.3 2.7-1.4-.2 2.2 1.5-1.4-.1 2.1 1.7-4.2 0 2.2 2-4.2.8 2.1 2.3 2.8-.8 2.9-.5-2.2-2 4.2-.1-2.2-1.7 1.5 0zM226.3 294.3l6.5 3.4 4.2-2.6-2.1-1.2-1.4.9-4.4-2.2-4.3-1.8 1.4-.8-2.2-.8 1.4-.8-4.3-1.3 2.8-1.6-2.2-.5 1.5-.8-2.2-.5 1.4-.8-2.2-.4 1.4-.7-2.1-.4-2.9 1.4 2.2.4-2.8 1.5 2.2.5-1.4.8 2.1.5-1.4.8 2.2.6-1.4.8 2.1.6-1.4.8 2.2.7-1.4.8z"/>
<path fill="#f9d42e" stroke="#f9d42e" d="M66.1 287.5l2.8-.4-2.2-2-2.8.3-2.8.7 2.1 2.3zM56.9 288.4l2.8-1.7-2.2-2.2-2.8 1.4zM69.5 285l1.4.1-2.1-1.7 1.4.1-2.2-1.5 1.4.2-4.3-2.7 1.4.3-2.2-1.3-2.8-.5 4.3 2.6-1.4-.3 2.2 1.5-1.4-.2 2.2 1.7-2.9-.1 2.2 1.9zM221 283.7l2.2.5-1.5.8 2.2.5-2.8 1.6 4.3 1.3-1.4.8 2.2.8-1.4.8 4.3 1.8 4.4 2.2 1.4-.9 2.1 1.2 2.9-1.7-6.5-3.4-6.6-2.4 1.5-.8-2.2-.7 1.4-.8-2.2-.6 1.4-.7-2.1-.6 1.4-.8-4.4-.8-1.4.7 2.2.4z"/>
<path fill="#f7db29" stroke="#f7db29" d="M66 283.2l1.4.1-2.2-1.7 1.4.2-2.2-1.5 1.4.3-4.3-2.6-1.4-.3 2.2 1.3-1.5-.3 2.2 1.4-1.4-.2 2.2 1.6-2.8-.1 2.1 1.8-2.8.4-2.8.9-2.2-2.1-2.8 1.4 2.2 2.1 2.8-1.4 2.2 2.2 2.8-1 4.2-.6-2.2-1.9zM242.7 291.6l1.4-1-2.2-1.2-1.4 1-4.3-2.3-4.4-1.5 1.4-.8-2.1-.6 1.4-.8-6.5-1.8-1.4.8 2.1.6-1.4.7 2.2.6-1.4.8 2.2.7-1.5.8 6.6 2.4 6.5 3.4z"/>
<path fill="#f6e323" stroke="#f6e323" d="M52.5 283.8l2.8-1.4 2.2 2.1 2.8-.9 2.8-.4-2.1-1.8 2.8.1-2.2-1.6 1.4.2-2.2-1.4 1.5.3-2.2-1.3-2.8-.6 2.1 1.3-1.4-.2 2.2 1.5-2.8-.1 2.2 1.8-2.9.5-1.4.5-2.1-2.1-2.9 1.3zM239 286.4l-6.5-2-1.4.8 2.1.6-1.4.8 4.4 1.5 4.3 2.3 1.4-1 2.2 1.2 1.4-1z"/>
<path fill="#f6ed1b" stroke="#f6ed1b" d="M53.2 280.3l2.1 2.1 1.4-.5 2.9-.5-2.2-1.8 2.8.1-2.2-1.5 1.4.2-2.1-1.3-2.8-.5 2.1 1.4-2.8 0-1.4.2-2.8.8-1.4.7 2.1 1.9z"/>
<path fill="#f9fb0e" stroke="#f9fb0e" d="M51 278.5l2.8-.5 2.8 0-2.1-1.4-2.9-.1-2.8.6-2.8 1.2 2.2 1.4z"/></g>
<path fill="none" stroke="#000" stroke-width="0.5" stroke-opacity="1" stroke-linejoin="round" d="M132.8 392.1l-2.2-1.5-2.1-1.9-2.2-2.2-4.3-3.9-2.2-2.3-2.2-2.6-2.2-2.9-4.3-7-10.8-15.2-6.6-10.3-4.3-7.7-2.2-3.4-4.3-6.6-10.9-15.1-2.1-3.9-2.2-3.2-2.2-2.7-2.1-3.3-2.2-3-6.5-7.5-4.4-4.3-2.1-1.9-2.2-1.4M134.2 391.4l-2.2-1.5-8.6-8.3-2.2-2.2-2.2-2.7-2.2-3-4.3-7-8.7-12.2-4.3-6.5-4.4-7.2-4.3-7.7-6.5-10-10.9-15.1-2.1-3.7-2.2-3.2-2.2-2.7-4.3-6-6.5-7.3-4.4-4.2-2.1-1.9-2.2-1.4M135.6 390.5l-2.2-1.7-6.5-6.2-4.3-4.5-2.2-2.9-2.1-3.1-4.4-6.9-10.8-15.5-6.5-10.6-4.4-7.7-6.5-10-10.8-14.8-2.2-3.6-2.2-3.1-6.5-8.4-4.3-4.8-6.5-6.4-2.2-1.8-2.2-1.4M137 388.6l-4.3-3.5-4.4-4.1-2.1-2.2-4.4-5.4-4.3-6.7-10.9-15.6-2.1-3.3-6.5-10.7-2.2-4-2.2-3.6-4.3-6.6-2.2-3.2-8.7-11.5-4.3-6.4-2.2-2.9-6.5-8.1-4.3-4.7-6.5-6.2-2.2-1.7-2.2-1.5M138.4 386.5l-2.1-1.5-4.4-3.8-2.1-2.2-4.4-5-17.3-25-8.7-14.1-2.2-4.1-6.5-9.8-2.2-3-8.7-11.1-4.3-6.2-2.2-2.8-6.5-7.7-4.3-4.5-6.5-6-2.2-1.7-2.2-1.5M139.8 384.1l-2.1-1.5-4.4-3.8-4.3-4.7-2.2-2.7-15.2-21.5-8.6-13.8-4.4-7.4-4.3-6.4-4.4-6-8.6-10.7-4.4-5.9-8.7-9.9-4.3-4.4-6.5-5.8-4.4-3.1M141.3 381.6l-2.2-1.6-4.4-4-2.1-2.3-4.4-5.2-6.5-8.7-6.5-9.4-8.7-13.4-4.3-7.4-6.5-9.4-2.2-2.9-6.5-7.9-4.3-5.1-2.2-2.9-6.5-7.4-6.5-6.8-6.5-5.8-4.4-3.4-2.1-1.4M142.7 378.7l-4.4-3.6-4.3-4.4-4.4-5.2-4.3-5.6-6.5-9.2-4.3-6.4-6.6-10.1-2.1-3.8-2.2-3.2-6.5-9-4.3-5.2-13.1-14.9-8.6-9-4.4-4-4.3-3.7-4.4-3.2-2.1-1.4M144.1 375.7l-2.2-1.7-4.3-4.2-6.6-7.3-4.3-5.8-6.5-9.1-13-19.8-6.5-8.8-6.5-7.6-6.5-6.9-4.4-4.8-10.8-10.8-4.4-3.9-4.3-3.5-4.4-3.1-2.1-1.3M145.5 372.5l-2.2-1.8-4.3-4.2-2.2-2.3-2.2-2.6-6.5-8.5-4.3-5.9-6.5-9.4-4.4-6.5-4.3-6-4.4-5.6-6.5-7.5-10.8-11.1-13-12.4-4.4-3.7-4.3-3.4-4.4-2.9-2.1-1.3M146.9 368.6l-2.2-1.9-4.3-4.3-6.5-7.6-8.7-11.3-10.9-15.1-6.5-8.3-6.5-7.1-10.8-10.6-15.2-13.8-4.4-3.5-4.3-3.3-6.5-4.1M148.3 364l-4.3-3.9-6.6-7-6.5-7.8-10.8-14.3-6.5-8.1-4.4-4.8-4.3-4.5-4.3-4.2-4.4-3.8-2.2-2.1-17.3-15-4.4-3.4-4.3-3.1-6.5-4M149.7 359.3l-4.3-3.8-6.5-6.8-4.4-4.9-10.8-13.2-6.5-7.6-6.6-6.9-4.3-4.1-10.8-9.4-17.4-14.2-6.5-4.8-4.4-2.8-4.3-2.5M151.1 354.6l-4.3-3.8-4.4-4.2-4.3-4.5-13-14.6-4.4-4.6-4.3-4.4-6.5-6-10.9-8.9-19.5-15.3-6.5-4.6-8.7-5.2M152.5 350.1l-4.3-3.7-4.4-4.1-13-13.2-8.7-8.5-8.6-7.7-10.9-8.5-8.7-6.3-13-9.9-6.5-4.4-8.7-5M153.9 345.9l-8.6-7.5-17.4-16-10.9-9.2-8.6-6.6-10.9-7.5-15.2-11-6.5-4.2-8.7-4.9M155.3 342.2l-6.5-5.3-13-11.1-10.8-8.9-13.1-9.7-13-8.6-13-9.2-4.3-2.9-4.4-2.6-8.7-4.7M156.7 339.1l-26-20.5-13-9.4-4.4-2.9-10.8-6.8-19.5-13.1-4.4-2.5-8.7-4.6M158.2 336.6l-19.6-14.8-17.3-12.3-17.4-10.6-19.5-12.6-4.4-2.5-8.6-4.4M159.6 334.4l-13.1-9.6-17.3-12-4.4-2.9-17.3-10.2-21.7-13.6-4.4-2.4-8.6-4.2M161 332.3l-26.1-17.9-6.5-4.2-19.5-11.1-21.7-13.2-6.5-3.4-6.5-3M162.4 330.4l-19.5-13.1-8.7-5.4-23.9-13.4-21.7-12.9-4.3-2.2-8.7-4.2M163.8 328.2l-19.5-12.1-8.7-5.2-23.9-13-19.5-11.3-6.5-3.5-8.7-4.3M165.2 326.4l-28.2-16.3-23.9-12.9-19.5-11-15.2-7.8M166.6 325l-28.2-15.8-23.9-12.6-19.5-10.7-15.2-7.9M168 323.9l-28.2-15.5-23.9-12.4-17.3-9.3-13-6.8-4.4-2.3M169.4 323l-4.3-2.5-23.9-12.9-23.9-12.2-34.7-18.2M170.8 322.3l-6.5-3.9-21.7-11.6-23.8-12-34.8-17.9M172.2 321.6l-6.5-4-19.5-10.5-60.8-30.5M173.7 321l-2.2-1.5-4.4-2.7-19.5-10.4-60.7-30M175.1 320.2l-6.5-4.2-19.6-10.4-13-6.4-47.7-23.1M176.5 319.3l-4.4-2.8-4.3-2.4-19.5-10.3-13.1-6.3-45.5-21.7M177.9 318.4l-8.7-5-19.5-10.3-13-6.3-45.6-21.3M179.3 317.8l-4.4-2.7-6.5-3.6-17.3-9.1-13-6.2-45.6-21.1M180.7 317.1l-4.3-2.6-6.6-3.7-17.3-9.1-13-6.2-45.6-20.7M182.1 316.6l-4.3-2.7-6.5-3.7-10.9-5.8-6.5-3.3-13-6.2-45.6-20.5M183.5 316.1l-8.7-5.3-17.3-9.2-15.2-7.2-45.6-20.4M184.9 315.6l-4.3-2.8-6.5-3.7-15.2-8.1-15.2-7.2-45.6-20.2M186.3 315.1l-4.3-2.8-6.5-3.8-10.9-5.8-6.5-3.3-15.2-7-43.4-19.2M187.7 314.7l-4.3-2.8-6.5-3.9-8.7-4.7-8.7-4.4-15.2-7-43.4-19.1M189.2 314.3l-6.6-4.2-6.5-3.8-8.6-4.6-6.6-3.2-15.1-7.1-43.4-18.9M190.6 313.9l-6.6-4.3-6.5-3.8-6.5-3.4-8.7-4.4-15.1-7-43.4-18.9M192 313.5l-6.5-4.3-6.6-3.8-8.6-4.6-8.7-4.3-17.4-7.9-39-16.9M193.4 313l-6.5-4.2-6.5-3.8-6.6-3.5-10.8-5.4-19.5-8.8-36.9-15.9M194.8 312.6l-6.5-4.2-6.5-3.9-6.5-3.4-10.9-5.4-19.5-8.8-21.7-9.5-15.2-6.4M196.2 312.2l-8.7-5.6-6.5-3.6-6.5-3.4-10.9-5.3-15.1-6.9-19.6-8.5-19.5-8.3M197.6 311.7l-8.7-5.4-6.5-3.7-6.5-3.4-10.8-5.3-15.2-6.9-21.7-9.5-17.4-7.3M199 311.3l-8.7-5.4-6.5-3.7-6.5-3.4-10.8-5.3-15.2-6.9-21.7-9.5-17.4-7.3M200.4 310.9l-8.7-5.4-6.5-3.7-6.5-3.3-10.8-5.3-15.2-6.9-19.5-8.6-19.6-8.2M201.8 310.5l-8.7-5.4-6.5-3.7-6.5-3.3-10.8-5.3-15.2-6.9-19.5-8.6-19.6-8.2M203.2 310.1l-8.6-5.4-6.6-3.6-6.5-3.4-10.8-5.3-13-5.9-21.7-9.6-19.6-8.2M204.6 309.7l-6.5-4.1-6.5-3.7-6.5-3.5-10.8-5.3-15.2-7-21.7-9.6-19.6-8.2M206.1 309.2l-6.6-3.9-6.5-3.8-8.6-4.5-8.7-4.2-15.2-7-21.7-9.7-19.5-8.1M207.5 308.8l-6.5-3.9-6.6-3.7-8.6-4.6-8.7-4.2-15.2-7-21.7-9.6-19.5-8.2M208.9 308.4l-6.5-3.9-6.5-3.7-6.6-3.4-8.6-4.3-15.2-7.1-23.9-10.6-19.5-8.1M210.3 308l-6.5-3.9-6.5-3.7-15.2-7.6-15.2-7.1-23.9-10.7-13-5.5-6.5-2.5M211.7 307.5l-6.5-3.8-6.5-3.7-13-6.5-17.4-8.1-23.9-10.8-13-5.5-6.5-2.5M213.1 307.1l-10.9-6.3-15.1-7.6-17.4-8.2-23.9-10.8-13-5.4-6.5-2.5M214.5 306.6l-8.7-5.1-6.5-3.4-26-12.4-28.2-12.8-10.9-4.5-6.5-2.4M215.9 306.1l-8.7-5-6.5-3.4-28.2-13.3-26-11.9-8.7-3.6-8.7-3.2M217.3 305.5l-8.7-4.9-6.5-3.3-49.9-23.2-10.8-4.7-4.4-1.7-6.5-2.2M218.7 304.9l-6.5-3.6-6.5-3.4-17.3-7.9-36.9-17.3-8.7-3.7-4.4-1.6-6.5-2.2M220.1 304.3l-6.5-3.6-6.5-3.3-15.2-6.7-41.2-19.3-4.3-1.9-4.4-1.7-8.7-2.8M221.6 303.7l-6.6-3.6-6.5-3.2-15.2-6.5-43.4-20.3-6.5-2.6-8.6-2.7M223 303l-6.5-3.5-4.4-2.2-4.3-1.9-13-5.3-43.4-20.3-6.6-2.5-8.6-2.7M224.4 302.4l-6.5-3.6-4.4-2.1-4.3-1.9-13-5.1-43.4-20.1-4.4-1.8-10.8-3.4M225.8 301.6l-6.5-3.4-4.4-2.1-4.3-1.9-8.7-3.1-4.3-1.7-34.8-15.9-10.8-5.1-13-4.2M227.2 300.9l-6.5-3.4-4.4-2.1-4.3-1.8-10.9-3.7-2.1-1-36.9-16.4-8.7-4.2-13-4.2M228.6 300.1l-6.5-3.4-4.4-2-4.3-1.7-10.8-3.6-2.2-.9-36.9-16-8.7-4.2-13-4.2M230 299.3l-6.5-3.4-4.3-1.9-4.4-1.7-10.8-3.5-2.2-.8-34.7-14.6-10.9-4.9-13-4.4M231.4 298.5l-6.5-3.3-4.3-2-4.4-1.6-8.7-2.7-4.3-1.5-34.7-13.9-10.9-4.8-13-4.4M232.8 297.7l-6.5-3.4-4.3-1.9-4.4-1.5-13-4.1-21.7-8.1-13-5.1-10.9-4.6-13-4.4M234.2 296.8l-6.5-3.3-6.5-2.7-15.2-4.6-21.7-7.6-15.2-5.6-8.6-3.6-13.1-4.3M235.6 296l-6.5-3.4-6.5-2.5-4.3-1.4-8.7-2.4-21.7-7.1-17.4-6-8.6-3.4-8.7-2.8M237 295.1l-6.5-3.3-6.5-2.6-4.3-1.3-8.7-2.3-23.9-7.2-15.2-4.9-10.8-4M238.5 294.3l-6.6-3.4-6.5-2.5-4.3-1.3-32.6-8.8-15.1-4.5-10.9-3.8M239.9 293.4l-6.5-3.4-4.4-1.7-4.3-1.4-17.4-4.5-6.5-1.5-13-3.3-13-3.6-10.9-3.6M155.2 267.7l-2.1-.8M241.3 292.5l-4.4-2.4-2.1-1-4.4-1.6-4.3-1.4-15.2-3.8-19.5-4.2-13.1-3.2-4.3-1.2-10.8-3.5M158.8 268.8l-4.3-1.5M242.7 291.6l-4.4-2.4-2.1-1.1-4.4-1.5-6.5-1.9-13-3-8.7-1.5-10.8-2.2-15.2-3.4-6.5-1.9-10.9-3.5-4.3-1.5M244.1 290.6l-4.3-2.4-2.2-1-4.4-1.4-6.5-1.8-13-3-8.7-1.2-10.8-1.9-15.2-3.1-6.5-1.7-6.5-2.1-4.4-1.4-4.3-1.6M245.5 289.6l-4.3-2.3-2.2-.9-4.4-1.4-8.6-2.4-6.5-1.2-4.4-1-8.7-1-10.8-1.7-15.2-2.7-6.5-1.6-6.5-2-4.4-1.4-4.3-1.7M132.8 392.1l2.8-1.6 2.8-4 2.9-4.9 2.8-5.9 1.4-3.2 1.4-3.9 5.6-18.5 2.8-7.9 1.4-3.1 2.9-4.7 4.2-6.2 1.4-1.8 1.4-1.4 2.8-2 4.3-2 4.2-2.6 4.2-1.8 5.6-1.9 24-7.2 4.2-1.4 5.7-2.4 4.2-2.1 4.2-2.3 11.3-6.8 4.2-2.9M130.6 390.6l1.4-.7 1.4-1.1 2.9-3.8 2.8-5 2.8-6 1.4-3.3 1.4-4 5.7-18.4 2.8-7.9 1.4-3 2.8-4.7 4.2-5.8 1.4-1.8 1.4-1.4 1.4-1.1 2.9-1.7 7-3.8 4.2-1.9 7.1-2.4 22.5-6.6 5.7-1.9 4.2-1.8 5.6-2.8 4.2-2.4 8.5-5.1 5.6-3.7M128.5 388.7l1.4-.8 1.4-1.2 1.4-1.6 1.4-1.9 1.4-2.4 2.8-5.7 2.8-6.4 1.4-4 5.7-18.3 2.8-7.7 1.4-3 2.8-4.6 4.3-5.5 1.4-1.7 1.4-1.3 2.8-2.1 4.2-2.5 5.6-2.9 4.3-1.8 8.4-2.7 21.2-6.1 4.2-1.5 4.2-1.7 4.2-2 5.7-3.1 7-4.3 7.1-4.6M126.3 386.5l2.8-1.9 1.4-1.4 1.4-2 1.4-2.4 2.9-5.8 2.8-6.5 7-22.1 1.4-4 1.4-3.5 1.4-3 2.9-4.4 4.2-5.3 2.8-2.8 2.8-2.1 4.2-2.5 5.7-2.9 4.2-1.8 4.2-1.5 5.7-1.8 19.7-5.6 5.6-1.9 4.3-1.8 4.2-2 5.6-3.2 12.7-7.9M124.1 384.6l1.4-.9 1.4-1.1 1.4-1.6 1.5-2 1.4-2.4 2.8-5.9 2.8-6.5 7-21.9 1.5-3.9 1.4-3.3 1.4-2.9 2.8-4.3 4.2-5 1.4-1.5 2.8-2.3 4.3-2.7 5.6-3 5.6-2.6 4.3-1.5 5.6-1.8 21.1-6 4.3-1.4 4.2-1.7 4.2-2 4.2-2.3 14.1-8.5M122 382.6l1.4-1 1.4-1.2 1.4-1.6 2.8-4.7 2.8-5.9 2.8-6.6 7.1-21.4 1.4-3.8 2.8-5.9 2.8-4.1 4.2-4.9 1.5-1.4 2.8-2.2 4.2-2.7 4.2-2.3 5.7-2.7 4.2-1.7 5.6-1.9 21.1-5.8 4.3-1.4 4.2-1.5 4.2-1.8 5.7-2.9 14-8.2M119.8 380.3l1.4-.9 1.4-1.3 2.8-4.1 2.8-5.5 2.8-6 2.9-7.7 5.6-16.8 1.4-3.6 1.4-3 1.4-2.6 2.8-4 4.3-4.7 1.4-1.3 2.8-2 4.2-2.7 4.3-2.4 5.6-2.7 4.2-1.7 5.6-1.9 5.7-1.6 15.5-4.2 8.4-2.7 4.3-1.8 5.6-2.7 14.1-8M117.6 377.7l1.4-1 1.4-1.5 1.4-1.8 2.9-5 2.8-5.6 1.4-3.2 1.4-3.6 7-20.2 1.4-3.4 1.5-2.9 1.4-2.4 2.8-3.8 4.2-4.5 1.4-1.2 4.2-3 4.3-2.5 5.6-2.9 4.2-1.9 4.3-1.7 5.6-1.8 21.1-5.7 8.5-2.7 4.2-1.8 4.2-2 14.1-7.8M115.4 374.8l1.4-1.1 1.5-1.6 1.4-2 2.8-4.8 2.8-5.4 2.8-6.8 5.7-15.9 1.4-3.6 1.4-3.2 1.4-2.8 2.8-4.2 5.6-6 2.8-2.1 5.7-3.5 5.6-3.1 5.7-2.6 4.2-1.6 5.6-1.9 22.6-5.9 8.4-2.8 4.2-1.7 4.3-2 12.6-7M113.3 371.3l1.4-1.2 1.4-1.5 1.4-1.9 1.4-2.1 2.8-4.8 2.8-6.1 1.4-3.5 5.7-15.4 1.4-3.4 2.8-5.6 2.8-4 4.3-4.5 1.4-1.2 4.2-3 5.6-3.3 5.7-2.9 4.2-1.9 5.6-2.2 5.7-1.7 22.5-5.8 7-2.2 4.3-1.6 4.2-2 12.7-6.9M111.1 367.8l1.4-1.1 2.8-3.2 2.8-4.3 1.5-2.5 2.8-6 7-18.4 1.4-3.2 1.4-2.7 1.4-2.4 2.9-3.8 4.2-4.3 1.4-1.2 4.2-2.8 7.1-4 5.6-2.9 4.2-1.8 5.7-2 5.6-1.6 23.9-6.1 5.7-1.6 2.8-1.1 4.2-1.9 12.7-6.7M108.9 364.7l1.4-1.1 2.9-3.2 2.8-4.3 1.4-2.5 2.8-6 5.6-14.4 1.4-3.3 2.9-5.5 1.4-2.2 2.8-3.5 4.2-4.2 1.4-1.1 4.2-2.7 7.1-4 5.6-2.8 4.3-1.8 5.6-2 5.6-1.6 12.7-3.3 12.7-2.9 5.6-1.7 5.7-2.3 12.6-6.5M106.8 361.7l1.4-1.2 1.4-1.4 1.4-1.8 1.4-2 2.8-4.9 2.8-6 5.7-13.8 1.4-3.1 2.8-5.1 2.8-3.8 4.2-4.2 1.4-1.2 4.3-2.8 7-4 5.6-2.9 5.7-2.5 7-2.4 11.3-3 8.5-2.1 11.2-2.5 4.2-1.1 5.7-2.3 12.7-6.2M104.6 358.8l2.8-2.8 1.4-1.8 2.8-4.3 2.9-5.6 5.6-13.3 2.8-5.9 1.4-2.4 1.4-2.2 2.8-3.5 4.3-4.1 1.4-1 5.6-3.5 7.1-3.9 5.6-2.8 5.6-2.3 7.1-2.2 11.2-3 7.1-1.7 11.3-2.4 4.2-1.2 5.6-2.1 12.7-5.9M102.4 355.8l1.4-1.3 2.8-3.4 2.9-4.6 2.8-5.6 5.6-12.6 2.8-5.4 1.4-2.3 2.9-3.7 1.4-1.5 2.8-2.6 2.8-2.2 7-4.1 7.1-3.8 5.6-2.6 4.3-1.7 7-2.3 9.9-2.6 8.4-2.1 11.3-2.3 4.2-1.1 7.1-2.6 11.2-5M100.3 352.6l1.4-1.3 1.4-1.6 2.8-4.1 4.2-8 4.2-9.2 2.9-5.4 1.4-2.4 1.4-2 2.8-3.4 4.2-3.9 1.4-1.1 5.7-3.3 8.4-4.5 5.6-2.7 5.7-2.3 7-2.3 8.5-2.3 8.4-2.1 12.7-2.7 5.6-1.4 7.1-2.5 9.9-4.1M98.1 349.4l1.4-1.4 1.4-1.7 2.8-4.3 2.8-5 2.9-6 4.2-8.1 2.8-4.4 2.8-3.5 1.4-1.4 2.8-2.6 2.9-2.1 7-3.9 8.5-4.4 5.6-2.6 5.6-2.1 7.1-2.2 8.4-2.3 7.1-1.7 12.6-2.7 5.7-1.4 7-2.2 9.9-3.6M95.9 345.8l2.8-3.1 2.8-4.2 8.5-15.7 1.4-2.4 2.8-4 2.8-3.2 4.3-3.7 2.8-1.8 9.8-5.3 7.1-3.5 5.6-2.5 5.7-2 7-2.1 8.5-2.2 25.3-5.8 7.1-2 8.4-2.6M93.7 342.3l1.4-1.5 2.9-3.7 1.4-2.2 2.8-5.3 4.2-7.1 1.4-2.4 2.8-4 2.9-3.2 1.4-1.3 4.2-3.5 2.8-1.6 9.9-5.2 7-3.5 5.7-2.4 5.6-2 7-2.1 9.9-2.6 25.4-5.6 14-3.7M91.6 338.6l1.4-1.6 1.4-1.8 9.8-15.5 4.3-5.7 2.8-2.9 4.2-3.4 4.2-2.5 11.3-5.7 7.1-3.3 5.6-2.4 5.6-1.9 11.3-3.1 8.5-2.1 26.7-5.7 8.5-2M89.4 334.6l1.4-1.5 2.8-3.6 8.5-12.4 2.8-3.5 2.8-3 4.2-3.4 1.4-.9 11.3-5.8 8.5-4.1 5.6-2.5 5.6-2 7.1-2.2 11.3-3 9.8-2.3 9.9-2 14.1-2.6 5.6-1.2M87.2 331.2l1.4-1.5 2.9-3.5 7-9.8 2.8-3.4 2.8-3 4.3-3.4 2.8-1.7 16.9-8.2 7-3.1 7.1-2.7 7-2.1 11.3-3 8.4-2.1 8.5-1.7 22.5-3.7M85.1 327.9l2.8-3.2 5.6-7.4 4.2-5.1 2.9-2.8 4.2-3.4 1.4-.9 2.8-1.5 19.7-9.2 7.1-2.9 7-2.4 9.9-2.8 12.7-3.2 7-1.6 7-1.2 18.4-2.3M82.9 324.6l11.3-13.2 2.8-2.8 4.2-3.3 2.8-1.7 2.8-1.4 22.6-10 7-2.7 8.5-2.6 12.7-3.4 11.2-2.7 5.7-1.1 4.2-.6 16.9-1.4M80.7 321.6l9.9-11.2 2.8-2.6 4.2-3.4 2.8-1.6 2.9-1.3 25.3-10.9 7.1-2.5 8.4-2.6 11.3-3 12.7-3 5.6-1 4.2-.5 15.5-.6M78.6 318.6l7-7.8 2.8-2.8 4.2-3.5 2.9-1.9 4.2-2 28.2-11.5 7-2.4 9.9-2.9 16.9-4.3 7-1.6 4.2-.6 2.9-.2 15.4-.2M76.4 315.6l5.6-6 2.8-2.7 4.3-3.6 2.8-1.7 4.2-1.9 11.3-4.3 15.5-6.2 5.6-2.1 7-2.3 9.9-2.7 15.5-3.9 5.6-1.3 4.3-.6 2.8-.2 15.5.4M74.2 312.6l5.6-5.7 4.3-3.8 1.4-1.1 2.8-1.7 4.2-1.7 12.7-4.5 15.5-6 7-2.5 8.5-2.5 9.9-2.7 14-3.6 5.7-1.1 4.2-.5 2.8 0 14.1.9M72 309.5l4.3-4.3 2.8-2.7 2.8-2 2.8-1.5 4.2-1.7 15.5-5 18.4-6.7 8.4-2.6 9.9-2.8 14.1-3.7 4.2-1 4.2-.8 4.2-.4 2.9.1 14 1.4M69.9 305.6l4.2-3.8 2.8-2.1 2.8-1.6 2.8-1.2 4.3-1.4 14.1-3.9 18.3-6.4 7-2.3 16.9-4.8 14.1-3.7 4.2-.7 2.9-.2 2.8-.1 2.8.2 12.7 1.8M67.7 302.4l2.8-2.5 2.8-2 2.9-1.5 2.8-1.1 4.2-1.2 9.9-2.3 5.6-1.5 26.8-8.8 9.8-2.9 16.9-4.5 4.3-1 2.8-.4 2.8-.2 2.8 0 4.2.5 11.3 2M65.5 299.7l2.8-2.4 1.5-1.1 2.8-1.6 2.8-1.1 4.2-1.1 9.9-1.7 7-1.7 7.1-2.1 22.5-7.2 21.1-5.9 5.7-1.4 2.8-.6 2.8-.3 4.2 0 4.3.6 11.2 2.4M63.4 296.4l4.2-2.9 1.4-.7 2.8-1.1 4.2-1 12.7-1.7 7.1-1.6 7-2 24-7.5 21.1-5.8 4.2-1 2.8-.5 2.8-.2 4.3.3 2.8.5 8.4 2.2 2.9.6M61.2 293.4l2.8-1.9 1.4-.7 2.8-1 4.3-.9 9.8-.8 4.2-.5 7.1-1.4 7-1.9 25.4-7.7 21.1-5.8 4.3-1 4.2-.5 1.4 0 2.8.3 2.8.7 8.5 2.4 2.8.7M59 290.9l2.8-1.8 1.4-.7 1.5-.5 2.8-.7 4.2-.4 11.3-.4 4.2-.5 5.6-1.2 8.5-2.3 23.9-7.2 21.2-5.7 4.2-.9 4.2-.3 2.8.4 2.9.7 7 2.2 4.2 1.1M56.9 288.4l1.4-.9 2.8-1.4 1.4-.4 2.8-.5 2.8-.2 8.5.2 4.2-.1 4.2-.4 5.7-1.1 8.4-2.2 24-7.1 19.7-5.3 4.2-1 4.2-.4 2.9.1 2.8.6 4.2 1.2M163.9 270.4l5.7 1.6M54.7 285.9l2.8-1.4 1.4-.5 2.8-.6 4.3-.2 8.4.6 4.2.1 4.3-.3 4.2-.8 11.3-2.8 26.7-7.7 14.1-3.8 5.6-1.2 4.3-.4 2.8.2 2.8.5 4.2 1.2M163.2 270.2l4.2 1.2M52.5 283.8l2.8-1.4 1.4-.5 2.9-.5 4.2.1 7 .8 4.2.4 4.3-.1 4.2-.6 14.1-3.5 21.1-6 11.3-3 8.4-2.1 4.3-.8 4.2-.4 2.8.2 2.8.5 4.3 1.2M161 269.5l4.2 1.2M50.3 281.6l2.9-1.3 1.4-.4 2.8-.3 4.2.3 7.1 1.1 4.2.5 4.2.1 2.8-.3 16.9-4.1 29.6-8.2 11.3-2.6 4.2-.7 4.2-.2 2.9.3 4.2 1.2M158.8 268.8l4.2 1.2M48.2 279.7l2.8-1.2 1.4-.3 2.8-.3 2.8.3 11.3 2 4.2.4 2.8-.1 2.9-.6 5.6-1.5 8.5-1.9 28.1-7.7 7.1-1.7 5.6-1.2 5.6-.9 4.3-.2 2.8.3 4.2 1.2M155.2 267.7l5.7 1.5M46 278.3l2.8-1.2 1.4-.4 2.8-.2 2.9.3 5.6 1.2 5.6 1 4.3.4 2.8.1 2.8-.7 5.6-1.6 9.9-2.1 28.2-7.5 9.8-2.1 7.1-1.1 4.2-.3 2.8.2 4.2 1.2M151.7 266.5l7 1.8"/>
<g fill="none"><path d="M132.8 394.5L245.5 362.2" stroke="#555" stroke-width="0.9"/>
<path d="M132.8 394.5L46 352.7" stroke="#555" stroke-width="0.9"/>
<path d="M46 352.7L46 261.2" stroke="#9a9a9a" stroke-width="1.2"/>
<path d="M132.8 394.5L134.6 395.4" stroke="#555" stroke-width="0.8"/>
<path d="M189.2 378.4L191 379.2" stroke="#555" stroke-width="0.8"/>
<path d="M245.5 362.2L247.3 363.1" stroke="#555" stroke-width="0.8"/>
<path d="M132.8 394.5L130.9 395.1" stroke="#555" stroke-width="0.8"/>
<path d="M89.4 373.6L87.5 374.2" stroke="#555" stroke-width="0.8"/>
<path d="M46 352.7L44.1 353.3" stroke="#555" stroke-width="0.8"/>
<path d="M46 335L44.2 334.1" stroke="#555" stroke-width="0.8"/>
<path d="M46 298.1L44.2 297.2" stroke="#555" stroke-width="0.8"/>
<path d="M46 261.2L44.2 260.3" stroke="#555" stroke-width="0.8"/></g>
<g fill="#3a3a3a" stroke="#3a3a3a" stroke-width="0.28"><text x="40.7" y="336.2" font-size="9" text-anchor="end">0.1</text>
<text x="40.7" y="299.3" font-size="9" text-anchor="end">0.15</text>
<text x="40.7" y="262.4" font-size="9" text-anchor="end">0.2</text>
<text x="138.2" y="406.4" font-size="9" text-anchor="start">0.4</text>
<text x="194.6" y="390.2" font-size="9" text-anchor="start">0.5</text>
<text x="250.9" y="374.1" font-size="9" text-anchor="start">0.6</text>
<text x="126.9" y="405.4" font-size="9" text-anchor="end">30</text>
<text x="83.5" y="384.5" font-size="9" text-anchor="end">40</text>
<text x="40.1" y="363.6" font-size="9" text-anchor="end">50</text>
<text x="207.4" y="410.1" font-size="10" text-anchor="middle">ND (mm)</text>
<text x="64.3" y="408.2" font-size="10" text-anchor="middle">PS (mm/s)</text>
<text transform="translate(13.6 326.4) rotate(-90)" font-size="10">DimErr<tspan font-size="6.8" dy="4">ext</tspan></text>
<text class="cap" stroke="none" x="137.5" y="431.1" font-size="13.5" text-anchor="middle">(<tspan font-weight="bold">c</tspan>)</text></g>
<g fill="none"><path d="M411.5 394.3L324.7 352.5" stroke="#e4e4e4" stroke-width="0.7"/>
<path d="M324.7 352.5L324.7 261.3" stroke="#e4e4e4" stroke-width="0.7"/>
<path d="M468 378.2L381.2 336.4" stroke="#e4e4e4" stroke-width="0.7"/>
<path d="M381.2 336.4L381.2 245.2" stroke="#e4e4e4" stroke-width="0.7"/>
<path d="M524.5 362.2L437.7 320.4" stroke="#e4e4e4" stroke-width="0.7"/>
<path d="M437.7 320.4L437.7 229.2" stroke="#e4e4e4" stroke-width="0.7"/>
<path d="M411.5 394.3L524.5 362.2" stroke="#e4e4e4" stroke-width="0.7"/>
<path d="M524.5 362.2L524.5 271" stroke="#e4e4e4" stroke-width="0.7"/>
<path d="M382.6 380.4L495.6 348.3" stroke="#e4e4e4" stroke-width="0.7"/>
<path d="M495.6 348.3L495.6 257.1" stroke="#e4e4e4" stroke-width="0.7"/>
<path d="M353.6 366.4L466.6 334.3" stroke="#e4e4e4" stroke-width="0.7"/>
<path d="M466.6 334.3L466.6 243.1" stroke="#e4e4e4" stroke-width="0.7"/>
<path d="M324.7 352.5L437.7 320.4" stroke="#e4e4e4" stroke-width="0.7"/>
<path d="M437.7 320.4L437.7 229.2" stroke="#e4e4e4" stroke-width="0.7"/>
<path d="M324.7 335.2L437.7 303.1" stroke="#e4e4e4" stroke-width="0.7"/>
<path d="M437.7 303.1L524.5 344.9" stroke="#e4e4e4" stroke-width="0.7"/>
<path d="M324.7 298.3L437.7 266.2" stroke="#e4e4e4" stroke-width="0.7"/>
<path d="M437.7 266.2L524.5 308" stroke="#e4e4e4" stroke-width="0.7"/>
<path d="M324.7 261.3L437.7 229.2" stroke="#e4e4e4" stroke-width="0.7"/>
<path d="M437.7 229.2L524.5 271" stroke="#e4e4e4" stroke-width="0.7"/></g>
<g stroke-width="0.5" stroke-linejoin="round"><path fill="#3e26a8" stroke="#3e26a8" d="M401.3 383.8l-1.5-1.3-1.4 1.4-1.4-1.7-1.4 1.1-1.5.7 2.9 3 1.4-.6z"/>
<path fill="#402ab4" stroke="#402ab4" d="M401.3 383.8l1.4-1.3-1.5-1.5-1.4 1.5-1.4-1.5-1.4 1.2 1.4 1.7 1.4-1.4zM395.5 380.3l-1.4 1.1-1.4.8 1.4 1.8 1.5-.7 1.4-1.1z"/>
<path fill="#412fbf" stroke="#412fbf" d="M395.5 380.3l1.5 1.9 1.4-1.2 1.4 1.5 1.4-1.5 1.5 1.5 1.4-2.3-1.5-1.5-1.4 2.3-2.9-4-1.4 1.9zM395.5 380.3l-1.4-2.2-1.4 1.2-1.5.8 1.5 2.1 1.4-.8z"/>
<path fill="#4333ca" stroke="#4333ca" d="M395.5 376.6l-1.4 1.5 1.4 2.2 1.4-1.4zM392.7 379.3l1.4-1.2-1.5-2.4-2.8 2.1 1.4 2.3zM401.2 381l1.4-2.3-1.4-1.7-1.4 2.1z"/>
<path fill="#4537d5" stroke="#4537d5" d="M399.8 375.1l-1.5 1.9-1.4-2.1-1.4 1.7 1.4 2.3 1.4-1.9 1.5 2.1 1.4-2.1zM401.2 377l2.9 3.2 1.4-2.1-2.9-3.6zM395.5 376.6l-1.5-2.4-1.4 1.5 1.5 2.4zM388.4 375.3l1.4 2.5 1.4-.9-1.4-2.5z"/>
<path fill="#463cdc" stroke="#463cdc" d="M405.5 373.3l-1.4 3.2 1.4 1.6 1.4-3.2zM389.8 374.4l1.4 2.5 1.4-1.2-1.4-2.6zM395.4 372.2l-1.4 2 1.5 2.4 1.4-1.7 1.4 2.1 1.5-1.9-1.5-2.6-1.4 2.4zM402.6 374.5l-1.4-2.2-1.4 2.8 1.4 1.9z"/>
<path fill="#4642e3" stroke="#4642e3" d="M392.6 371.4l-1.4 1.7 1.4 2.6 1.4-1.5zM388.4 375.3l1.4-.9-1.5-2.8-1.4 1zM399.8 375.1l1.4-2.8-1.5-2.5-1.4 2.7-1.4-2.6-1.5 2.3 1.5 2.7 1.4-2.4zM404.1 376.5l1.4-3.2-1.5-1.9-1.4 3.1z"/>
<path fill="#4747ea" stroke="#4747ea" d="M388.3 371.6l1.5 2.8 2.8-3-1.5-2.8zM394 369.4l-1.4 2 1.4 2.8 1.4-2zM402.6 374.5l1.4-3.1-1.4-2.2-1.4 3.1z"/>
<path fill="#474df0" stroke="#474df0" d="M405.4 368.1l-1.4 3.3 2.9 3.5 1.4-3.2zM398.3 372.5l1.4-2.7-1.4-2.6-1.4 2.7-1.5-2.8-1.4 2.3-1.4-2.8-1.5 2 1.5 2.8 1.4-2 1.4 2.8 1.5-2.3zM401.2 372.3l1.4-3.1-1.5-2.3-1.4 2.9zM386.9 372.6l1.4-1 1.4-1.4-1.4-2.8-2.8 2.4z"/>
<path fill="#4752f3" stroke="#4752f3" d="M389.7 370.2l1.4-1.6-1.4-2.9-1.4 1.7zM404 371.4l1.4-3.3-1.4-2.1-1.4 3.2z"/>
<path fill="#4658f6" stroke="#4658f6" d="M388.3 367.4l-1.5-2.9-2.8 2.5 1.5 2.8zM406.9 370l1.4 1.7 1.4-3.6-1.4-1.7zM401.1 366.9l-1.4-2.5-1.4 2.8 1.4 2.6zM391.1 363.7l-1.4 2 1.4 2.9 1.5-2zM398.3 367.2l-1.5-2.6-1.4 2.5 1.5 2.8zM395.4 367.1l-1.4-2.7-1.4 2.2 1.4 2.8z"/>
<path fill="#465efa" stroke="#465efa" d="M388.3 362.8l-1.5 1.7 1.5 2.9 1.4-1.7zM394 364.4l1.4 2.7 1.4-2.5-1.4-2.9zM404 366l-1.5-2.4-1.4 3.3 1.5 2.3zM385.4 365.9l-1.4-3-1.4 1.2 1.4 2.9zM406.9 364.4l-1.5 3.7 1.5 1.9 1.4-3.6z"/>
<path fill="#4563fd" stroke="#4563fd" d="M392.6 366.6l1.4-2.2-1.5-3-1.4 2.3-1.4-3-1.4 2.1 1.4 2.9 1.4-2zM398.2 361.6l-1.4 3 1.5 2.6 1.4-2.8zM384 362.9l1.4 3 1.4-1.4-1.4-3zM405.4 362.2l-1.4 3.8 1.4 2.1 1.5-3.7zM399.7 364.4l1.4 2.5 1.4-3.3-1.4-2.6z"/>
<path fill="#4169fd" stroke="#4169fd" d="M402.5 363.6l1.5 2.4 1.4-3.8-1.4-2.4zM396.8 358.7l-1.4 3 1.4 2.9 1.4-3zM382.5 360l-1.4 1.2 1.5 2.9 1.4-1.2zM385.4 361.5l1.4 3 1.5-1.7-1.5-3.1zM393.9 358.8l-1.4 2.6 1.5 3 1.4-2.7zM408.3 366.4l1.4 1.7 1.5-4.2-1.5-1.8z"/>
<path fill="#3d6ffe" stroke="#3d6ffe" d="M386.8 359.7l1.5 3.1 1.4-2.1-1.5-3zM406.9 364.4l1.4 2 1.4-4.3-1.4-2zM399.7 364.4l1.4-3.4-1.4-2.7-1.5 3.3zM384 362.9l1.4-1.4-1.5-3-1.4 1.5zM389.7 360.7l1.4 3 1.4-2.3-1.4-3z"/>
<path fill="#3875fe" stroke="#3875fe" d="M382.5 360l-1.4-3-1.4 1.3 1.4 2.9zM385.4 361.5l1.4-1.8-1.4-3-1.5 1.8zM393.9 358.8l1.5 2.9 1.4-3-1.5-2.9zM393.9 358.8l-1.4-3-1.4 2.6 1.4 3zM402.5 363.6l1.5-3.8-1.5-2.5-1.4 3.7zM408.3 360.1l-1.5-2.1-1.4 4.2 1.5 2.2z"/>
<path fill="#337cfc" stroke="#337cfc" d="M386.8 359.7l1.4-2 1.5 3 1.4-2.3-1.5-3-1.4 2.3-1.4-3-1.4 2zM399.7 358.3l1.4 2.7 1.4-3.7-1.4-2.7zM399.7 358.3l-1.5-2.8-1.4 3.2 1.4 2.9zM409.7 362.1l1.5 1.8 1.4-4.7-1.5-1.8zM383.9 358.5l-1.4-3-1.4 1.5 1.4 3zM406.8 358l-1.4-2.4-1.4 4.2 1.4 2.4z"/>
<path fill="#3081fa" stroke="#3081fa" d="M398.2 355.5l-1.4-2.9-1.5 3.2-1.4-2.9-1.4 2.9-1.5-3-1.4 2.6 1.5 3 1.4-2.6 1.4 3 1.4-3 1.5 2.9zM383.9 353.7l-1.4 1.8 1.4 3 1.5-1.8zM381.1 357l-1.5-3.6-1.4 1.3 1.5 3.6zM409.7 355.5l-1.4 4.6 1.4 2 1.4-4.7z"/>
<path fill="#2e87f7" stroke="#2e87f7" d="M408.2 353.3l-1.4 4.7 1.5 2.1 1.4-4.6zM389.6 355.4l-1.4-3-1.4 2.3-1.5-3.6-1.4 2.6 1.5 3 1.4-2 1.4 3zM402.5 357.3l1.5 2.5 1.4-4.2-1.5-2.5zM381.1 351.9l-1.5 1.5 1.5 3.6 1.4-1.5zM398.2 355.5l1.5 2.8 1.4-3.7-1.5-2.8z"/>
<path fill="#2d8cf3" stroke="#2d8cf3" d="M403.9 353.1l-1.4-2.7-1.4 4.2 1.4 2.7zM395.3 355.8l1.5-3.2-1.5-3.2-1.4 3.5zM393.9 352.9l-1.4-3.4-1.5 3.3-1.4-3.5-1.4 3.1 1.4 3 1.4-2.6 1.5 3zM382.5 355.5l1.4-1.8-1.4-3.6-1.4 1.8z"/>
<path fill="#2b91ef" stroke="#2b91ef" d="M382.5 350.1l1.4 3.6 1.4-2.6-1.4-3.1zM376.8 351.8l1.4 2.9 1.4-1.3-1.4-3zM388.2 352.4l-1.5-3.6-1.4 2.3 1.5 3.6zM396.8 352.6l1.4 2.9 1.4-3.7-1.4-3zM412.6 359.2l1.4-5.2-1.5-1.8-1.4 5.2zM406.8 351l-1.4 4.6 1.4 2.4 1.4-4.7z"/>
<path fill="#2896eb" stroke="#2896eb" d="M401.1 354.6l1.4-4.2-1.5-2.7-1.4 4.1zM386.7 348.8l1.5 3.6 1.4-3.1-1.5-3.1zM381.1 351.9l-1.5-3.1-1.4 1.6 1.4 3zM412.5 352.2l-1.4-1.9-1.4 5.2 1.4 1.9zM389.6 349.3l1.4 3.5 1.5-3.3 1.4 3.4 1.4-3.5-1.4-3-1.4 3.1-1.5-3zM406.8 351l-1.5-2.4-1.4 4.5 1.5 2.5z"/>
<path fill="#259be8" stroke="#259be8" d="M385.3 351.1l1.4-2.3-1.4-3.1-1.4 2.3zM396.7 345.9l-1.4 3.5 1.5 3.2 1.4-3.8zM376.7 347.4l-1.4 1.4 1.5 3 1.4-1.4zM382.5 350.1l-1.5-3.1-1.4 1.8 1.5 3.1zM408.2 353.3l1.5 2.2 1.4-5.2-1.5-2.1z"/>
<path fill="#23a0e5" stroke="#23a0e5" d="M408.2 353.3l1.4-5.1-1.4-2.2-1.4 5zM378.2 345.8l-1.5 1.6 1.5 3 1.4-1.6zM403.9 346l-1.4 4.4 1.4 2.7 1.4-4.5zM399.6 351.8l1.4-4.1-1.4-2.7-1.4 3.8zM381 347l1.5 3.1 1.4-2.1-1.5-3z"/>
<path fill="#20a5e2" stroke="#20a5e2" d="M379.6 344l-1.4 1.8 1.4 3 1.4-1.8zM403.9 346l-1.5-2.6-1.4 4.3 1.5 2.7zM388.1 346.2l-1.4-3-1.4 2.5-1.5-3-1.4 2.3 1.5 3 1.4-2.3 1.4 3.1zM388.1 346.2l1.5 3.1 1.4-2.8-1.4-3zM376.7 347.4l-1.4-3-1.4 1.4 1.4 3zM414 354l1.4-5.8-1.5-1.8-1.4 5.8zM391 346.5l1.5 3 1.4-3.1-1.5-3zM395.3 343l-1.4 3.4 1.4 3 1.4-3.5z"/>
<path fill="#1ca9df" stroke="#1ca9df" d="M406.8 343.7l-1.5 4.9 1.5 2.4 1.4-5zM399.6 345l-1.5-2.8-1.4 3.7 1.5 2.9zM412.5 344.6l-1.4 5.7 1.4 1.9 1.4-5.8zM379.6 344l1.4 3 1.4-2-1.4-3.1zM376.7 342.8l-1.4 1.6 1.4 3 1.5-1.6z"/>
<path fill="#17addb" stroke="#17addb" d="M409.6 348.2l1.5 2.1 1.4-5.7-1.4-2zM389.6 343.5l1.4 3 1.4-3.1 1.5 3 1.4-3.4-1.5-2.8-1.4 3.2-1.4-2.9zM389.6 343.5l-1.5-3-1.4 2.7-1.4-3-1.5 2.5 1.5 3 1.4-2.5 1.4 3zM405.3 348.6l1.5-4.9-1.5-2.4-1.4 4.7zM373.9 341.5l-1.5 1.4 1.5 2.9 1.4-1.4zM402.4 343.4l-1.4-2.6-1.4 4.2 1.4 2.7zM378.2 345.8l1.4-1.8-1.5-3-1.4 1.8zM382.4 345l1.4-2.3-1.4-3-1.4 2.2z"/>
<path fill="#10b1d6" stroke="#10b1d6" d="M398.1 342.2l-1.4-2.8-1.4 3.6 1.4 2.9zM409.6 340.5l-1.4 5.5 1.4 2.2 1.5-5.6zM376.7 342.8l-1.4-3-1.4 1.7 1.4 2.9zM378.1 341l1.5 3 1.4-2.1-1.5-3z"/>
<path fill="#09b5d0" stroke="#09b5d0" d="M405.3 341.3l-1.4-2.5-1.5 4.6 1.5 2.6zM393.8 340.2l-1.4-2.9-1.4 3.2 1.4 2.9zM373.9 341.5l-1.5-3-1.4 1.5 1.4 2.9zM386.7 337.6l-1.4 2.6-1.5-2.9-1.4 2.4 1.4 3 1.5-2.5 1.4 3 1.4-2.7 1.5 3 1.4-3-1.5-2.9-1.4 2.9zM375.3 339.8l1.4 3 1.4-1.8-1.4-3zM399.6 338.1l-1.5 4.1 1.5 2.8 1.4-4.2zM382.4 339.7l-1.5-3-1.4 2.2 1.5 3z"/>
<path fill="#03b8ca" stroke="#03b8ca" d="M396.7 339.4l-1.5-2.8-1.4 3.6 1.5 2.8zM413.9 346.4l1.5 1.8 1.4-3.5-1.4-1.6zM378.1 341l1.4-2.1-1.4-2.9-1.4 2zM403.9 338.8l-1.5-2.6-1.4 4.6 1.4 2.6zM408.2 338.7l-1.4 5 1.4 2.3 1.4-5.5zM372.4 338.5l1.5 3 1.4-1.7-1.5-2.9z"/>
<path fill="#05bac3" stroke="#05bac3" d="M378.1 336l1.4 2.9 1.4-2.2-1.4-2.9zM385.2 334.6l-1.4 2.7 1.5 2.9 1.4-2.6 1.4 2.9 1.4-2.9-1.4-2.9-1.4 2.9zM371 340l1.4-1.5-1.4-2.9-1.5 1.5zM375.3 339.8l1.4-1.8-1.5-3-1.4 1.9zM399.6 338.1l-1.5-2.7-1.4 4 1.4 2.8zM383.8 337.3l-1.4-3-1.5 2.4 1.5 3zM408.2 338.7l-1.5-1.5-1.4 4.1 1.5 2.4zM413.9 346.4l1.5-3.3-1.5-1.7-1.4 3.2zM389.5 337.6l1.5 2.9 1.4-3.2-1.5-2.8z"/>
<path fill="#0ebdbc" stroke="#0ebdbc" d="M401 340.8l1.4-4.6-1.4-1.7-1.4 3.6zM375.2 335l1.5 3 1.4-2-1.5-3zM371 335.6l1.4 2.9 1.4-1.6-1.4-2.9zM411.1 342.6l1.4 2 1.4-3.2-1.4-1.6zM393.8 340.2l1.4-3.6-1.4-2.8-1.4 3.5zM395.2 336.6l1.5 2.8 1.4-4-1.4-2.3z"/>
<path fill="#18bfb6" stroke="#18bfb6" d="M372.4 334l-1.5-2.9-2.8 3.1 1.4 2.9zM372.4 334l1.4 2.9 1.4-1.9-1.4-2.8zM385.2 334.6l1.5 3 1.4-2.9 1.4 2.9 1.4-3.1 1.5 2.8 1.4-3.5-1.4-2.1-1.5 2.8-1.4-2.8-1.4 3-1.5-2.8zM385.2 334.6l-1.4-2.8-1.4 2.5 1.4 3zM405.3 335.7l-1.4 3.1 1.4 2.5 1.4-4.1zM413.9 341.4l2.9 3.3 1.4-2.9-2.9-3.3zM382.4 334.3l-1.5-2.8-1.4 2.3 1.4 2.9zM379.5 333.8l-1.4-2.7-1.5 1.9 1.5 3zM411.1 342.6l1.4-2.8-1.5-1.6-1.4 2.3z"/>
<path fill="#23c1ae" stroke="#23c1ae" d="M393.8 333.8l1.4 2.8 1.5-3.5-1.5-1.6zM398.1 335.4l1.5 2.7 1.4-3.6-1.5-1.6zM375.2 335l1.4-2-1.4-2.6-1.4 1.8zM402.4 336.2l1.5 2.6 1.4-3.1-1.5-1.6zM413.9 336.8l-1.4 3 1.4 1.6 1.4-2.9zM369.5 332.7l-1.4-2.9-1.4 1.4 1.4 3zM409.6 336.6l-1.4 2.1 1.4 1.8 1.4-2.3z"/>
<path fill="#2bc4a7" stroke="#2bc4a7" d="M408.1 335l-1.4 2.2 1.5 1.5 1.4-2.1zM418.2 341.8l1.4-4.5-1.4-1.5-1.4 4.4zM378.1 331.1l1.4 2.7 1.4-2.3-1.4-2.4zM378.1 331.1l-1.5-2.7-1.4 2 1.4 2.6zM380.9 331.5l1.5 2.8 1.4-2.5-1.5-2.2zM386.6 331.9l-1.4-2.1-1.4 2 1.4 2.8zM386.6 331.9l1.5 2.8 1.4-3-1.5-1.8zM370.9 331.1l-1.4-2.9-1.4 1.6 1.4 2.9zM370.9 331.1l1.5 2.9 1.4-1.8-1.5-2.9zM392.4 331.7l-1.5-1.9-1.4 1.9 1.4 2.8zM412.5 339.8l1.4-3-1.5-1.8-1.4 3.2z"/>
<path fill="#31c69f" stroke="#31c69f" d="M392.4 331.7l1.4 2.1 1.4-2.3-1.4-1.8zM398.1 335.4l1.4-2.5-1.4-1.7-1.4 1.9zM370.9 331.1l1.4-1.8-1.4-2.8-1.4 1.7zM402.4 336.2l1.4-2.1-1.4-1.7-1.4 2.1zM403.8 334.1l2.9 3.1 1.4-2.2-2.9-3.8zM366.6 326.9l-1.4 1.4 1.5 2.9 1.4-1.4zM418.2 335.8l-2.9-3.2-1.4 4.2 2.9 3.4zM372.3 329.3l1.5 2.9 1.4-1.8-1.4-2.9zM411 338.2l1.4-3.2-1.4-1.8-1.4 3.4zM385.2 329.8l-1.5-2.4-1.4 2.2-1.4-2.6-1.4 2.1 1.4 2.4 1.4-1.9 1.5 2.2z"/>
<path fill="#38c897" stroke="#38c897" d="M401 334.5l1.4-2.1-2.9-4.1-1.4 2.9-1.5-2-1.4 2.3 1.5 1.6 1.4-1.9zM379.5 329.1l-1.5-2.8-1.4 2.1-1.4-2.8-1.4 1.9 1.4 2.9 1.4-2 1.5 2.7zM368 325.3l-1.4 1.6 1.5 2.9 1.4-1.6zM403.8 329.2l-1.4 3.2 1.4 1.7 1.4-2.9zM412.4 335l1.5 1.8 1.4-4.2-1.5-1.7zM409.5 331.4l-1.4-1.9-1.4 3.8 2.9 3.3 1.4-3.4zM388 329.9l1.5 1.8 1.4-1.9-1.4-2.2zM388 329.9l-1.4-2.3-1.4 2.2 1.4 2.1zM392.3 327.3l-1.4 2.5 1.5 1.9 1.4-2z"/>
<path fill="#40ca8e" stroke="#40ca8e" d="M411 333.2l1.4 1.8 1.4-4.1-1.4-1.7zM421 333l-1.4-1.4-1.4 4.2 1.4 1.5zM405.2 331.2l1.5 2.1 1.4-3.8-1.5-1.9zM372.3 324.7l-1.4 1.8-1.5-2.9-1.4 1.7 1.5 2.9 1.4-1.7 1.4 2.8 1.5-1.8zM382.3 324.7l-1.4 2.3 1.4 2.6 1.4-2.2 1.5 2.4 1.4-2.2 1.4 2.3 1.5-2.3 1.4 2.2 1.4-2.5-1.4-2.4-1.4 2.7-1.5-2.5-1.4 2.5-1.4-2.6-1.5 2.4zM393.8 329.7l1.4 1.8 1.4-2.3 1.5 2 1.4-2.9-1.5-2.2-1.4 3.1-1.4-2.4zM378 326.3l-1.4-2.7-1.4 2 1.4 2.8zM378 326.3l1.5 2.8 1.4-2.1-1.5-2.7zM402.4 332.4l1.4-3.2-1.5-2.1-1.4 3.4zM366.6 326.9l-1.4-2.9-1.4 1.5 1.4 2.8z"/>
<path fill="#4acb84" stroke="#4acb84" d="M411 333.2l1.4-4-1.4-1.7-1.5 3.9zM383.7 322.5l-1.4 2.2 1.4 2.7 1.5-2.4zM368 325.3l-1.4-2.8-1.4 1.5 1.4 2.9zM402.3 327.1l-1.4-2-1.4 3.2 1.4 2.2zM375.2 325.6l-1.5-2.8-1.4 1.9 1.5 2.8zM405.2 325.7l-1.4 3.5 1.4 2 1.4-3.6zM388 325.1l-1.4-2.5-1.4 2.4 1.4 2.6zM395.2 326.8l-1.5-2.3-1.4 2.8 1.5 2.4zM395.2 326.8l1.4 2.4 1.4-3.1-1.4-2.2zM418.2 330.1l-1.5 4.1 1.5 1.6 1.4-4.2z"/>
<path fill="#57cc7a" stroke="#57cc7a" d="M390.9 324.9l1.4 2.4 1.4-2.8-1.4-2.2zM390.9 324.9l-1.5-2.3-1.4 2.5 1.5 2.5zM378 321.6l-1.4 2-1.5-2.7-1.4 1.9 1.5 2.8 1.4-2 1.4 2.7 1.4-2zM400.9 325.1l-1.5-2.1-1.4 3.1 1.5 2.2zM363.8 325.5l1.4-1.5-1.5-2.8-1.4 1.5zM379.4 324.3l1.5 2.7 1.4-2.3-1.5-2.6zM409.5 325.8l-1.4 3.7 1.4 1.9 1.5-3.9zM370.9 321.9l-1.5 1.7-1.4-2.7-1.4 1.6 1.4 2.8 1.4-1.7 1.5 2.9 1.4-1.8zM418.2 330.1l-1.5-1.5-1.4 4 1.4 1.6z"/>
<path fill="#64cd70" stroke="#64cd70" d="M379.4 324.3l1.4-2.2-1.4-2.5-1.4 2zM405.2 325.7l-1.4-1.9-1.5 3.3 1.5 2.1zM413.8 330.9l1.5 1.7 1.4-4-2.9-2.9-1.4 3.5zM393.7 324.5l1.5 2.3 1.4-2.9-1.5-2.2zM372.3 320.1l-1.4 1.8 1.4 2.8 1.4-1.9zM385.1 320.2l-1.4 2.3-1.4-2.5-1.5 2.1 1.5 2.6 1.4-2.2 1.5 2.5 1.4-2.4zM369.4 319.2l-1.4 1.7 1.4 2.7 1.5-1.7zM409.5 325.8l-1.4-1.8-1.5 3.6 1.5 1.9zM365.1 319.7l-1.4 1.5 1.5 2.8 1.4-1.5zM386.6 322.6l1.4 2.5 1.4-2.5-1.4-2.4z"/>
<path fill="#70cd67" stroke="#70cd67" d="M411 327.5l1.4 1.7 1.4-3.5-1.4-1.5zM375.1 320.9l1.5 2.7 1.4-2-1.5-2.6zM375.1 320.9l-1.4-2.6-1.4 1.8 1.4 2.7zM418.2 330.1l2.8 2.9 1.5-3.3-2.9-2.8zM366.6 322.5l1.4-1.6-1.4-2.8-1.5 1.6zM402.3 321.8l-1.4 3.3 1.4 2 1.5-3.3zM390.8 320l-1.4 2.6 1.5 2.3 1.4-2.6zM392.3 322.3l1.4 2.2 1.4-2.8-1.4-2.1zM362.3 322.7l1.4-1.5-1.4-2.7-1.4 1.4zM406.6 327.6l1.5-3.6-1.5-1.6-1.4 3.3zM398 326.1l1.4-3.1-1.4-2.1-1.4 3z"/>
<path fill="#7dcc5d" stroke="#7dcc5d" d="M386.6 322.6l1.4-2.4 1.4 2.4 1.4-2.6-1.4-2.2-1.4 2.4-1.5-2.3-1.4 2.3zM365.1 319.7l-1.4-2.7-1.4 1.5 1.4 2.7zM385.1 320.2l-1.4-2.4-1.4 2.2-1.5-2.4-1.4 2-1.4-2.5-1.5 1.9-1.4-2.5-1.4 1.8 1.4 2.6 1.4-1.9 1.5 2.6 1.4-2 1.4 2.5 1.5-2.1 1.4 2.5zM368 316.5l-1.4 1.6 1.4 2.8 1.4-1.7 1.5 2.7 1.4-1.8-1.5-2.6-1.4 1.7zM402.3 321.8l-1.4-1.7-1.5 2.9 1.5 2.1zM395.1 321.7l1.5 2.2 1.4-3-1.4-1.9zM405.2 320.8l-1.4 3 1.4 1.9 1.4-3.3zM410.9 322.7l-1.4 3.1 1.5 1.7 1.4-3.3zM416.7 328.6l1.5 1.5 1.4-3.2-1.5-1.3z"/>
<path fill="#89cb55" stroke="#89cb55" d="M370.8 317.5l-1.4-2.5-1.4 1.5 1.4 2.7zM370.8 317.5l1.5 2.6 1.4-1.8-1.5-2.5zM380.8 317.6l-1.4-2.3-1.4 1.8 1.4 2.5zM380.8 317.6l1.5 2.4 1.4-2.2-1.5-2.2zM410.9 322.7l-1.4-1.4-1.4 2.7 1.4 1.8zM416.7 324.2l-1.5-1.4-1.4 2.9 2.9 2.9 1.4-3zM399.4 323l1.5-2.9-1.5-1.7-1.4 2.5zM365.1 315.5l-1.4 1.5 1.4 2.7 1.5-1.6zM392.3 322.3l1.4-2.7-1.5-2-1.4 2.4zM383.7 317.8l1.4 2.4 1.4-2.3-1.4-2.1zM395.1 321.7l1.5-2.7-1.5-1.8-1.4 2.4zM422.5 329.7l1.4-2.7-1.5-1.4-1.4 2.7zM403.7 319.2l-1.4 2.6 1.5 2 1.4-3zM362.3 318.5l-1.5-2.7-1.4 1.4 1.5 2.7z"/>
<path fill="#95ca4c" stroke="#95ca4c" d="M422.4 325.6l-2.9-2.6-1.4 2.6 2.9 2.7zM386.5 317.9l1.5 2.3 1.4-2.4 1.4 2.2 1.4-2.4-1.4-1.9-1.4 2.1-1.5-2zM360.8 315.8l1.5 2.7 1.4-1.5-1.5-2.6zM376.5 314.8l-1.4 1.7-1.5-2.3-1.4 1.6-1.4-2.4-1.4 1.6 1.4 2.5 1.4-1.7 1.5 2.5 1.4-1.8 1.4 2.5 1.5-1.9zM408.1 324l1.4-2.7-1.5-1.5-1.4 2.6zM412.4 324.2l1.4 1.5 1.4-2.9-1.4-1.3zM398 316.7l-1.4 2.3 1.4 1.9 1.4-2.5zM366.5 314l-1.4 1.5 1.5 2.6 1.4-1.6zM403.7 319.2l-1.4-1.5-1.4 2.4 1.4 1.7z"/>
<path fill="#a1c844" stroke="#a1c844" d="M412.4 324.2l1.4-2.7-2.9-2.6-1.4 2.4zM358 314.6l1.4 2.6 2.8-2.8-1.4-2.6zM390.8 315.7l-1.4-1.8-1.5 1.9-1.4-1.9-1.4 1.9-1.5-2-1.4 1.8 1.5 2.2 1.4-2 1.4 2.1 1.4-2.1 1.5 2zM400.8 316.1l-1.4 2.3 1.5 1.7 1.4-2.4zM423.9 327l1.4-2.5-1.5-1.3-1.4 2.4zM392.2 317.6l1.5 2 1.4-2.4 1.5 1.8 1.4-2.3-1.5-1.6-1.4 2.1-1.4-1.8zM419.5 323l-1.4-1.2-1.4 2.4 1.4 1.4zM362.2 314.4l1.5 2.6 1.4-1.5-1.4-2.6zM380.8 313.5l-1.4 1.8 1.4 2.3 1.4-2zM406.6 322.4l1.4-2.6-1.4-1.5-1.4 2.5zM373.6 314.2l1.5 2.3 1.4-1.7-1.4-2.3zM379.4 315.3l-1.5-2.2-1.4 1.7 1.5 2.3zM367.9 312.5l-1.4 1.5 1.5 2.5 1.4-1.5z"/>
<path fill="#acc63d" stroke="#acc63d" d="M367.9 312.5l1.5 2.5 1.4-1.6 1.4 2.4 1.4-1.6-1.4-2.3-1.4 1.5-1.5-2.3zM422.4 321.9l-1.5-1.3-1.4 2.4 2.9 2.6 1.4-2.4zM362.2 310.5l-1.4 1.3 1.4 2.6 1.5-1.5 1.4 2.6 1.4-1.5-1.4-2.5-1.4 1.4zM380.8 313.5l1.4 2.1 1.4-1.8-1.4-2zM380.8 313.5l-1.5-2-1.4 1.6-1.4-2.1-1.4 1.5 1.4 2.3 1.4-1.7 1.5 2.2zM409.4 317.6l-1.4 2.2 1.5 1.5 1.4-2.4zM415.2 322.8l1.5 1.4 1.4-2.4-2.9-2.5-1.4 2.2zM359.4 313.2l-1.5-3-1.4 1.4 1.5 3zM406.6 318.3l-2.9-2.7-1.4 2.1 2.9 3.1zM389.4 313.9l-1.5-1.7-1.4 1.7 1.4 1.9zM392.2 317.6l1.5-2.2 1.4 1.8 1.4-2.1-1.4-1.5-1.4 1.8-1.5-1.7-1.4 2zM399.4 318.4l1.4-2.3-1.4-1.4-1.4 2zM386.5 313.9l-1.5-1.8-1.4 1.7 1.5 2z"/>
<path fill="#b6c436" stroke="#b6c436" d="M373.6 314.2l1.5-1.7-1.5-2.1-1.4 1.5zM360.8 311.8l-1.4-3-1.5 1.4 1.5 3zM369.3 311.1l1.5 2.3 1.4-1.5-1.4-2.2zM380.7 310.1l-1.4 1.4-1.4-1.9-1.4 1.4 1.4 2.1 1.4-1.6 1.5 2 1.4-1.7zM395.1 313.6l-1.5-1.5-1.4 1.6-1.4-1.5-1.4 1.7 1.4 1.8 1.4-2 1.5 1.7zM402.2 314.3l-1.4 1.8 1.5 1.6 1.4-2.1zM410.9 318.9l2.9 2.6 1.4-2.2-2.9-2.3zM423.8 323.2l1.5 1.3 1.4-2.8-1.5-1.2zM383.6 313.8l1.4-1.7-1.4-1.7-1.4 1.4zM420.9 320.6l-2.9-2.4-1.4 2.4 2.9 2.4zM367.9 312.5l-1.4-2.3-1.4 1.3-1.5-2.5-1.4 1.5 1.5 2.4 1.4-1.4 1.4 2.5zM405.1 317l2.9 2.8 1.4-2.2-2.9-2.4zM399.4 314.7l-1.5-1.4-1.4 1.8 1.5 1.6z"/>
<path fill="#c1c231" stroke="#c1c231" d="M396.5 312l-1.4 1.6 1.4 1.5 1.4-1.8zM390.8 312.2l-1.5-1.5-1.4 1.5-1.4-1.6-1.5 1.5 1.5 1.8 1.4-1.7 1.5 1.7zM390.8 312.2l1.4 1.5 1.4-1.6-1.4-1.4zM365.1 311.5l1.4-1.3-1.5-2.6-1.4 1.4zM508.6 299.2l1.4.3-1.4-.9-1.4-.3zM373.6 310.4l1.5 2.1 1.4-1.5-1.5-1.9zM373.6 310.4l-1.4-2-1.4 1.3-1.5-2.3-2.8 2.8 1.4 2.3 2.9-2.8 1.4 2.2zM382.2 308.7l-1.5 1.4 1.5 1.7 1.4-1.4zM418 318.2l-2.8-2.3-1.5 2.2 2.9 2.5zM397.9 313.3l2.9 2.8 1.4-1.8-2.9-2.7zM409.4 317.6l1.5 1.3 1.4-1.9-2.9-2.6-1.4 2zM425.2 320.5l-2.8-2.2-1.5 2.3 2.9 2.6zM356.5 311.6l1.4-1.4-1.4-2.8-1.4 1.3zM362.2 310.5l-1.4-3-1.4 1.3 1.4 3zM405.1 317l1.4-1.8-1.4-1.3-1.4 1.7z"/>
<path fill="#cbc02d" stroke="#cbc02d" d="M412.3 313.8l-1.4 1.8 2.8 2.5 1.5-2.2zM505.7 297l-4.3-2.5-2.9-1.9-1.5-.2 4.4 2.8-1.4-.3 7.2 4 1.4.3-1.4-.9 1.4.3zM396.5 312l1.4 1.3 1.4-1.7-1.4-1.3zM396.5 312l-2.9-2.8-1.4 1.5-1.5-1.5-1.4 1.5 1.5 1.5 1.4-1.5 2.9 2.9zM403.7 312.5l-1.5-1.2-1.4 1.8 2.9 2.5 1.4-1.7zM375 309.1l1.5 1.9 1.4-1.4 1.4 1.9 2.9-2.8-1.5-1.7-2.8 2.6-1.5-1.9zM375 309.1l-1.4-2.1-1.4 1.4 1.4 2zM360.8 307.5l1.4 3 1.4-1.5-1.4-2.7zM386.5 310.6l1.4 1.6 1.4-1.5-2.9-3-1.4 1.3-1.4-1.6-1.4 1.3 2.8 3.4zM405.1 313.9l2.9 2.5 1.4-2-2.9-2.3zM370.7 306.1l-1.4 1.3 1.5 2.3 1.4-1.3zM426.7 321.7l1.4-2.1-1.4-1.1-1.5 2zM419.5 316.3l-1.5-1-1.4 1.7 4.3 3.6 1.5-2.3zM359.4 308.8l-1.5-2.7-1.4 1.3 1.4 2.8zM366.4 306.3l-1.4 1.3 1.5 2.6 1.4-1.3z"/>
<path fill="#d4be2d" stroke="#d4be2d" d="M423.8 319.4l1.4 1.1 1.5-2-4.4-2.7-1.4 1.5zM362.2 306.3l1.4 2.7 1.4-1.4-1.4-2.5zM355.1 308.7l1.4-1.3-1.5-2.6-1.4 1.2zM393.6 309.2l-1.5-1.1-1.4 1.1-2.9-2.5-1.4 1-1.4-1.3-1.4 1-1.5-1.4-1.4 1-1.4-1.5-1.4 1-1.5 1.2-1.4-1.9-1.4 1.2-1.5-1.9-1.4 1 1.5 2.3 1.4-1.4 1.4 2.1 1.4-1.4 1.5 1.9 2.8-2.6 1.5 1.7 1.4-1.3 1.4 1.6 1.4-1.3 2.9 3 1.4-1.5 1.5 1.5zM393.6 309.2l2.9 2.8 1.4-1.7-2.9-2.1zM497.1 293.8l2.9 1.7-1.4-.3 5.8 3.1 2.8.6-7.2-4 1.4.3-4.4-2.8 1.5.2-5.8-4-1.4-.1 2.9 1.9-1.5-.1 2.9 1.9-1.4-.2zM397.9 310.3l2.9 2.8 1.4-1.8 2.9 2.6 1.4-1.8-2.9-1.9-1.4 1.1-2.9-2.1zM410.9 315.6l1.4-1.8-2.9-1.9-1.4 1.3zM357.9 306.1l1.5 2.7 1.4-1.3-1.5-2.5zM416.6 314.4l-1.5-.9-1.4 1.3 2.9 2.2 1.4-1.7zM369.3 307.4l-1.4-2.2-1.5 1.1 1.5 2.6z"/>
<path fill="#ddbb2f" stroke="#ddbb2f" d="M422.3 315.8l-7.2-4.2-1.4 1-4.4-2.5-1.4.9-4.3-2.6-1.4.9-2.9-1.8-1.4.8-2.9-1.8-1.4.7-1.5-.9-1.4.7-1.4-1-1.5.7 2.9 2.5 1.4-1.1 1.5 1.1 1.4-1 2.9 2.1 1.4-1.1 2.9 2.1 1.4-1.1 4.4 3 1.4-1.3 4.3 2.9 1.4-1.3 5.8 3.8zM422.3 315.8l5.8 3.8 1.4-1.6-5.8-3.5zM485.5 285.5l2.9 1.9-1.4-.2 4.3 2.9-1.4-.2 2.9 1.9-1.4-.2 7.2 4.2-1.4-.2 4.4 2.4 2.8.3-5.8-3.1 1.4.3-5.8-3.5 1.4.2-2.9-1.9 1.5.1-2.9-1.9 1.4.1-7.3-5-1.4 0 2.9 2zM363.6 305.1l1.4 2.5 2.9-2.4-1.5-1.9zM376.4 305l-1.4.8-1.5-1.5-1.4.8-1.4-1.6-2.8 1.7 1.4 2.2 2.8-2.3 1.5 1.9 1.4-1.2 1.4 1.9 1.5-1.2 1.4-1 1.4 1.5 1.4-1 1.5 1.4 1.4-1 1.4 1.3 1.4-1-1.4-1-1.4.7-1.5-1.1-1.4.7-1.4-1.2-1.4.7-1.5-1.3zM356.5 307.4l1.4-1.3-1.4-2.4-1.5 1.1zM359.3 305l1.5 2.5 1.4-1.2-1.5-2.4z"/>
<path fill="#e6b934" stroke="#e6b934" d="M495.8 296.2l-1.4.1 2.9 1.7 4.3 0-4.4-2.4 1.4.2-7.2-4.2 1.4.2-2.9-1.9 1.4.2-4.3-2.9 1.4.2-2.9-1.9 1.4.1-2.9-2 1.4 0-4.3-3.1-1.4 0 1.4 1-1.4 0 2.9 2-1.4-.1 2.9 1.9-1.4-.1 2.9 1.9-1.4-.2 4.3 2.8-1.4-.2 2.9 1.9-1.4-.2 4.3 2.7-1.4-.1zM375 305.8l2.8-1.6 1.5 1.3 1.4-.7 1.4 1.2 1.4-.7 1.5 1.1 1.4-.7 1.4 1 1.5-.7 1.4 1 1.4-.7 1.5.9 1.4-.7 2.9 1.8 1.4-.8 2.9 1.8 1.4-.9 4.3 2.6 1.4-.9 4.4 2.5 1.4-1 7.2 4.2 1.4-1.3 5.8 3.5 2.8-2.3-1.4-1-1.4 1.1-10.1-5.3-1.5.9-8.6-4.5-1.4.8-5.8-3.2-1.4.7-2.9-1.7-1.4.7-1.5-.9-1.4.6-1.5-.9-1.4.7-1.4-1-1.4.6-1.5-1-2.8 1.2-1.4-1.1-2.9 1.2-1.4-1.3-2.8 1.3-1.5-1.4-2.8 1.3 1.4 1.6 1.4-.8zM370.7 303.5l-1.5-1.6-2.8 1.4 1.5 1.9zM352.2 303.6l1.4 2.4 1.4-1.2-1.4-2.4zM357.9 302.7l-1.4 1 1.4 2.4 2.8-2.2-1.4-2.1zM363.6 302.2l-2.9 1.7 1.5 2.4 2.8-2.2z"/>
<path fill="#eeb73b" stroke="#eeb73b" d="M422.3 312l7.2 3.8 1.4-1.1 1.4 1 2.9-1.6-1.5-.9-1.4.7-23.1-11.3-1.4.6-5.8-3-1.4.6-2.9-1.6-1.5.5-1.4-.8-1.4.6-1.5-.9-1.4.5-1.4-.9-4.3 1.6-1.4-1.1-5.7 1.9-1.4-1.2-7.1 2.5 1.5 1.6 2.8-1.3 1.5 1.4 2.8-1.3 1.4 1.3 2.9-1.2 1.4 1.1 2.8-1.2 1.5 1 1.4-.6 1.4 1 1.4-.7 1.5.9 1.4-.6 1.5.9 1.4-.7 2.9 1.7 1.4-.7 5.8 3.2 1.4-.8 8.6 4.5 1.5-.9zM487.3 293.8l2.9 1.7-1.5.2 1.5.8-1.4.2 1.4.9-1.4.2 1.5.9 7-.7-2.9-1.7 1.4-.1-4.3-2.4 1.4.1-4.3-2.7 1.4.2-2.9-1.9 1.4.2-4.3-2.8 1.4.2-2.9-1.9 1.4.1-2.9-1.9 1.4.1-2.9-2 1.4 0-1.4-1 1.4 0-5.8-4.2-1.4.1 1.4 1-1.4.1 2.9 2-1.4.1 1.5.9-1.5.1 2.9 1.9-1.4 0 2.9 1.8-1.4-.1 4.4 2.6-1.5-.1 2.9 1.8-1.4-.1 2.9 1.8-1.4 0 2.9 1.8-1.4 0 2.9 1.8zM353.6 302.4l-1.4-2.3-1.5 1.1 1.5 2.4zM353.6 302.4l1.4 2.4 2.9-2.1-1.5-2.2zM362.1 303l1.5-.8-1.5-1.9-2.8 1.5 1.4 2.1zM363.6 302.2l1.4 1.9 4.2-2.2-1.4-1.6z"/>
<path fill="#f6b742" stroke="#f6b742" d="M477 285l-1.4 0 4.4 2.5-1.5 0 2.9 1.7-1.4.1 1.5.9-1.4.1 1.4.9-1.4.2 1.4.9-1.4.2 1.5.9-1.4.2 1.4.9-1.4.2 1.4.9-2.8.6 1.5.9-4.3 1 1.5.8-2.8.7 1.4.8-2.8.7 1.4.8 9.9-2.2 5.7-1-1.5-.9 1.4-.2-1.4-.9 1.4-.2-1.5-.8 1.5-.2-2.9-1.7 1.4 0-2.9-1.8 1.4 0-2.9-1.8 1.4 0-2.9-1.8 1.4.1-2.9-1.8 1.5.1-4.4-2.6 1.4.1-2.9-1.8 1.4 0-2.9-1.9 1.5-.1-1.5-.9 1.4-.1-2.9-2 1.4-.1-1.4-1 1.4-.1-4.3-3.2-1.4.2 1.4 1.1-2.8.4 1.4.9-1.4.2 1.5 1-1.4.1 1.4.9-1.4.2 2.9 1.8-1.4.1 2.9 1.7-1.5.1zM419.3 307.5l13 6.4 1.4-.7 1.5.9 2.8-.9 1.4-.5 1.4-1 1.4-1.2-1.4-.8-1.4 1-2.9-1.8-1.4.7-1.5-.8-1.4.7-7.2-3.4 1.4-.6-8.7-4-11.6-5.8-1.4.6-4.3-2.2-1.4.5-2.9-1.6-1.4.5-1.5-.7-2.8.9-1.5-.8-8.4 2.4-8.5 2 1.4 1.3-1.4.3-1.4-1.3-4.3 1.1-4.2 1.6 1.5 1.9 4.2-1.9 1.4 1.6 7.1-2.5 1.4 1.2 5.7-1.9 1.4 1.1 4.3-1.6 1.4.9 1.4-.5 1.5.9 1.4-.6 1.4.8 1.5-.5 2.9 1.6 1.4-.6 5.8 3 1.4-.6zM353.6 302.4l1.4-1-1.4-2.3-1.4 1zM357.9 302.7l2.8-1.7-1.5-2-2.8 1.5z"/>
<path fill="#fdb947" stroke="#fdb947" d="M400.4 294.1l4.3 2.2 1.4-.6 11.6 5.8 8.7 4-1.4.6 7.2 3.4 1.4-.7 1.5.8 1.4-.7 2.9 1.8 1.4-1 1.4.8 1.4-1-2.8-1.3 1.4-.6-4.4-1.9 1.4-.5-2.9-1.3 1.5-.5-1.5-.6 1.4-.5-1.4-.6 1.4-.4-1.5-.7 7.1-1.9 1.5.6 1.4-.3 1.4.6 1.4-.4 1.5.7 1.4-.4 5.8 2.8-1.4.3 1.4.8-1.4.3 1.4.8-2.8.7 1.5.8 12.7-3 5.6-1.1-1.4-.8 2.8-.7-1.4-.8 2.8-.7-1.5-.8 4.3-1-1.5-.9 2.8-.6-1.4-.9 1.4-.2-1.4-.9 1.4-.2-1.5-.9 1.4-.2-1.4-.9 1.4-.2-1.4-.9 1.4-.1-1.5-.9 1.4-.1-2.9-1.7 1.5 0-4.4-2.5 1.4 0-5.8-3.2 1.5-.1-2.9-1.7 1.4-.1-2.9-1.8 1.4-.2-1.4-.9 1.4-.1-1.5-1 1.4-.2-1.4-.9 2.8-.4-1.4-1.1 1.4-.2-5.8-4.1-2.8.7 1.4.9-5.6 1.5 1.4.8-5.6 1.6 1.4.7-2.8.8 1.4.7-1.4.4 17.4 8.5-1.4.3 2.9 1.4-1.5.3 1.5.8-2.8.8-1.5-.8-2.8.9-11.6-5.6 1.4-.4-4.3-2.1 1.4-.4-2.9-1.4 1.4-.4-1.4-.7 1.4-.4-1.5-.7 1.5-.4-2.9-1.4 1.4-.4-8.7-4.3-1.4.5-2.9-1.5-1.4.5-2.9-1.5-33.9 10.5-14.1 3.6-5.7 1.2 1.5.9-2.9.6 1.5.9-2.9.6 1.5.8-1.4.3 1.4.8-1.4.3 1.5.9-1.5.2 1.5.9-2.8.4 1.4 1-2.8.4 1.4 1.1-2.8.4 1.5 1.2-7.1 1.4-2.8.8-2.9 1.1 1.5 2 4.2-1.9 5.7-1.5 1.4 1.3 1.4-.3-1.4-1.3 8.5-2 8.4-2.4 1.5.8 2.8-.9 1.5.7 1.4-.5 2.9 1.6zM350.7 301.2l1.5-1.1-1.5-2.3-1.4 1zM353.6 299.1l1.4 2.3 4.2-2.4-1.4-2z"/>
<path fill="#fec03e" stroke="#fec03e" d="M465.8 288.8l1.4-.4 1.5.8 2.8-.8-1.5-.8 1.5-.3-2.9-1.4 1.4-.3-17.4-8.5 1.4-.4-1.4-.7 2.8-.8-1.4-.7 5.6-1.6-1.4-.8 5.6-1.5-1.4-.9 2.8-.7-7.2-4.6-4.3 1.3-1.4-.9-1.4.5-1.5-.8-2.8 1-1.5-.8-1.4.5-1.4-.8-11.3 4.3 2.9 1.5 1.4-.5 2.9 1.5 1.4-.5 8.7 4.3-1.4.4 2.9 1.4-1.5.4 1.5.7-1.4.4 1.4.7-1.4.4 2.9 1.4-1.4.4 4.3 2.1-1.4.4 11.6 5.6zM371.7 285.2l-4.3.6 1.5.9-1.4.1 1.4 1-1.4.1 1.4.9-1.4.1 1.5.9-1.4.1 1.4 1-1.4.1 1.4 1.1-1.4 0 1.5 1.2-4.3.4 1.5 1.4-4.3.7-4.2 1.2 1.4 2 2.9-1.1 2.8-.8 7.1-1.4-1.5-1.2 2.8-.4-1.4-1.1 2.8-.4-1.4-1 2.8-.4-1.5-.9 1.5-.2-1.5-.9 1.4-.3-1.4-.8 1.4-.3-1.5-.8 2.9-.6-1.5-.9 2.9-.6-1.5-.9zM436.3 302.8l1.5.6-1.5.5 2.9 1.3-1.4.5 4.4 1.9-1.4.6 2.8 1.3 12.8-3.5-1.5-.8 2.8-.7-1.4-.8 1.4-.3-1.4-.8 1.4-.3-5.8-2.8-1.4.4-1.5-.7-1.4.4-1.4-.6-1.4.3-1.5-.6-7.1 1.9 1.5.7-1.4.4 1.4.6zM352.2 300.1l4.2-2.5-1.5-2.1-2.8 1.4-1.4.9-1.4-2.3-1.5.9 1.5 2.4 1.4-1z"/>
<path fill="#fdc638" stroke="#fdc638" d="M456.5 264.8l1.5-.4-5.8-3.5-9.9 3.5 1.4.8 1.4-.5 1.5.8 2.8-1 1.5.8 1.4-.5 1.4.9zM357.8 297l4.2-1.2 4.3-.7-1.5-1.4 4.3-.4-1.5-1.2 1.4 0-1.4-1.1 1.4-.1-1.4-1 1.4-.1-1.5-.9 1.4-.1-1.4-.9 1.4-.1-1.4-1 1.4-.1-1.5-.9-5.6.2 2.9 1.9-1.5 0 1.5 1-1.4-.1 1.4 1.1-1.4-.1 1.5 1.2-1.5 0 1.5 1.2-4.2.2 1.4 1.5-4.2.8-2.9.8 1.5 2.1zM350.7 297.8l2.8-1.7-1.4-2.1-2.8 1.5z"/>
<path fill="#fbcd32" stroke="#fbcd32" d="M347.8 296.4l2.9-1.7-1.5-2.1-2.8 1.5zM361.9 290.9l-4.2 0 1.4 1.6-4.2.6-2.8.9 1.4 2.1 4.3-1.4 4.2-.8-1.4-1.5 4.2-.2-1.5-1.2 1.5 0-1.5-1.2 1.4.1-1.4-1.1 1.4.1-1.5-1 1.5 0-2.9-1.9-2.9-.2 2.9 2-1.4-.1 1.5 1-1.4-.1 1.4 1.2-1.4-.1z"/>
<path fill="#f9d42e" stroke="#f9d42e" d="M357.6 286.4l1.4 1.1-1.4-.2 1.4 1.1-1.4-.1 1.5 1.3-2.8-.2 1.4 1.5 4.2 0-1.4-1.2 1.4.1-1.4-1.2 1.4.1-1.5-1 1.4.1-2.9-2-2.8-.5zM350.6 292l-1.4.6 1.5 2.1 1.4-.7 2.8-.9 4.2-.6-1.4-1.6-4.2.4zM346.4 294.1l1.4-.8-1.4-2.1-1.4.8z"/>
<path fill="#f7db29" stroke="#f7db29" d="M357.7 290.9l-1.4-1.5 2.8.2-1.5-1.3 1.4.1-1.4-1.1 1.4.2-2.9-2.2-1.4-.2 1.5 1-1.5-.2 1.5 1.2-1.4-.2 1.4 1.2-2.8-.1 1.4 1.4-4.2.4-2.8.8-1.4.6 1.4 2.1 1.4-.7 2.8-1 2.9-.5zM346.4 291.2l-1.5-1.8-1.4.7 1.5 1.9z"/>
<path fill="#f6e323" stroke="#f6e323" d="M347.7 288.5l-2.8.9 1.5 1.8 1.4-.6 2.8-.8 4.2-.4-1.4-1.4 2.8.1-1.4-1.2 1.4.2-1.5-1.2 1.5.2-1.5-1-2.8-.5 1.4 1.1-1.4-.2 1.5 1.2-2.9-.1 1.5 1.4z"/>
<path fill="#f6ed1b" stroke="#f6ed1b" d="M343.5 290.1l1.4-.7 2.8-.9 4.3-.5-1.5-1.4 2.9.1-1.5-1.2 1.4.2-1.4-1.1-4.3-.4 1.5 1.1-2.8.2 1.4 1.2-2.8.6-1.4.6-1.5-1.3-1.4.7 1.5 1.2z"/>
<path fill="#f9fb0e" stroke="#f9fb0e" d="M344.8 284.3l-2.8.7-2.8 1.2 1.4 1.1 1.4-.7 1.5 1.3 1.4-.6 2.8-.6-1.4-1.2 2.8-.2-1.5-1.1z"/></g>
<path fill="none" stroke="#000" stroke-width="0.5" stroke-opacity="1" stroke-linejoin="round" d="M397 387l-2.9-3-1.4-1.8-1.5-2.1-2.8-4.8-8.7-17-1.5-3.6-13-26.4-7.2-13.7-4.4-8.6-5.8-9.6-2.8-4.4-2.9-3.5-2.9-2.3M398.4 386.4l-2.8-3.1-1.5-1.9-1.4-2.1-2.9-4.9-8.7-17.4-1.5-3.6-11.5-23.6-4.4-8.6-8.7-16.4-5.7-9.3-2.9-4.3-2.9-3.3-2.9-2.4M399.9 385.2l-1.5-1.3-2.9-3.6-2.9-4.6-1.4-2.6-8.7-17.6-1.4-3.6-7.3-15-7.2-14.4-5.8-10.7-2.9-5.7-5.8-9.2-4.3-6.3-2.9-3.3-2.9-2.3M401.3 383.8l-2.9-2.8-4.4-6.8-5.7-11.4-4.4-9.1-1.4-3.6-7.3-15.1-7.2-14.1-8.7-15.9-5.8-8.9-4.3-5.9-2.9-3.2-2.9-2.4M402.7 382.5l-1.5-1.5-1.4-1.9-2.9-4.2-1.5-2.7-4.3-8.5-4.3-9-2.9-6.7-7.3-15-7.2-13.8-7.2-12.9-4.4-6.6-5.8-8.1-2.8-3.4-1.5-1.5-2.9-2.4M404.1 380.2l-1.5-1.5-2.8-3.6-2.9-5.2-4.4-8.5-4.3-9-1.5-3.6-7.2-15-8.7-16.3-7.2-12.4-5.8-8.1-4.3-5.7-4.4-4.7-2.9-2.4M405.5 378.1l-1.4-1.6-1.5-2-4.3-7.3-2.9-5.5-4.4-8.9-1.4-3.5-2.9-6.1-5.8-11.7-1.4-2.4-5.8-10.8-7.3-12-5.7-7.9-5.8-7.3-4.4-4.5-2.9-2.4M406.9 374.9l-2.9-3.5-4.3-7-5.8-11.5-2.9-6.4-7.2-14.7-1.5-2.2-7.2-13.1-2.9-4.6-4.3-6.7-8.7-10.9-2.9-3.3-2.9-3-4.3-3.8M408.3 371.7l-2.9-3.6-2.9-4.5-5.7-11-2.9-6.2-7.3-14.5-2.9-4.5-5.7-10.3-2.9-4.6-4.4-6.4-1.4-1.9-8.7-10.1-5.8-6.1-4.3-3.6M409.7 368.1l-2.8-3.7-2.9-4.6-4.4-8-10.1-20.1-1.5-1.8-1.4-2.3-5.8-10-2.9-4.5-5.8-8-8.6-9.6-5.8-6-2.9-2.6-2.9-2.3M411.2 363.9l-2.9-3.8-2.9-4.5-4.4-7.9-7.2-13.9-4.3-6.2-5.8-9.8-4.4-6.3-4.3-5.7-11.6-12-5.8-5.5-4.3-3.5M412.6 359.2l-2.9-3.7-2.9-4.5-2.9-5-5.8-10.6-1.4-2.3-2.9-3.4-7.3-11.8-4.3-6.1-4.3-5.3-11.6-11.4-5.8-5.4-5.8-4.6M414 354l-2.9-3.7-2.9-4.3-5.8-9.8-4.3-5-1.5-2-7.2-11.4-4.4-5.7-4.3-5.1-1.4-1.5-16-14.5-2.8-2.4-4.4-3.3M415.4 348.2l-2.9-3.6-2.9-4.1-7.2-8.1-1.5-1.9-8.7-12.9-2.8-3.7-5.8-6.5-17.4-15.2-4.3-3.5-4.4-3.1M416.8 344.7l-10.1-11.4-10.1-14.3-4.4-5.3-4.3-4.6-2.9-2.7-5.8-4.6-11.6-9.7-4.3-3.3-4.4-3M418.2 341.8l-5.8-6.8-11.5-14.9-4.4-5-5.8-5.9-1.4-1.3-8.7-6.6-11.6-9.2-8.6-6.1M419.6 337.3l-4.3-4.7-7.2-8.6-5.8-6.3-8.7-8.5-11.6-8.4-11.6-8.8-8.6-6M421 333l-14.4-14.7-8.7-8-2.9-2.1-10.1-6.9-13-9.5-8.7-5.8M422.5 329.7l-8.7-8.2-11.6-10.2-2.9-2.1-11.6-7.5-13-9.1-10.1-6.6M423.9 327l-5.8-5.2-8.7-7.4-2.9-2.3-2.9-1.9-13-8.1-14.5-9.7-10.1-6.5M425.3 324.5l-8.7-7.5-5.8-4.2-18.8-11.3-14.5-9.4-10.1-6.3M426.7 321.7l-4.3-3.4-5.8-3.9-21.7-12.6-26.1-16.1M428.1 319.6l-2.9-2-4.3-2.7-23.2-12.9-27.5-16.5M429.5 318l-1.4-1-4.4-2.5-24.6-13.1-27.4-16.2M430.9 316.7l-2.9-1.7-17.3-8.8-8.7-4.6-28.9-16.7M432.3 315.7l-2.8-1.8-17.4-8.5-8.7-4.5-23.1-12.9-5.8-3.4M433.8 314.8l-4.4-2.4-15.9-7.7-8.7-4.4-23.1-12.6-5.8-3.4M435.2 314.1l-5.8-3.2-14.5-6.8-8.7-4.4-23.1-12.4-5.8-3.3M436.6 313.5l-5.8-3.3-14.5-6.8-10.1-5-21.7-11.4-5.8-3.2M438 313.2l-2.9-2-2.9-1.7-20.2-9.6-31.9-16.4M439.4 312.7l-2.9-2.2-2.9-1.7-20.2-9.5-31.9-16.1M440.8 311.7l-2.9-1.9-2.9-1.6-18.8-8.7-33.2-16.7M442.2 310.5l-7.2-3.7-15.9-7.2-34.7-17.1M443.6 309.5l-21.7-9.8-36.1-17.6M445.1 309l-20.3-9.1-37.6-18.2M446.5 308.7l-4.4-2.2-15.9-7.1-37.6-18M447.9 308.4l-4.4-2.4-15.9-7.1-37.6-17.9M449.3 308l-5.8-3.1-14.5-6.5-26-12.4-11.6-5.4M450.7 307.5l-5.8-3-13-5.8-27.5-13.1-11.6-5.3M452.1 307.1l-5.8-3-13-5.8-26-12.4-13-6M453.5 306.7l-7.2-3.7-11.6-5.2-26-12.3-13-5.9M454.9 306.4l-7.2-3.7-11.6-5.2-26-12.4-13-5.9M456.4 306l-7.3-3.7-11.5-5.2-26.1-12.4-13-5.9M457.8 305.6l-7.3-3.7-11.5-5.2-26.1-12.4-13-6M459.2 305.3l-7.2-3.7-11.6-5.3-26.1-12.4-13-6M460.6 304.9l-7.2-3.7-11.6-5.2-26.1-12.5-13-6.1M462 304.6l-7.2-3.7-11.6-5.3-26-12.5-13.1-6.1M463.4 304.2l-7.2-3.7-11.6-5.3-39-18.7M464.8 303.9l-7.2-3.7-11.6-5.3-39-18.8M466.2 303.6l-7.2-3.7-11.6-5.4-39-18.9M467.7 303.3l-8.7-4.5-11.6-5.4-37.6-18.2M469.1 303l-8.7-4.5-49.2-23.7M470.5 302.7l-10.1-5.3-47.8-23.1M471.9 302.4l-10.1-5.4-47.8-23.1M473.3 302.2l-5.8-3.3-5.8-3-46.3-22.4M474.7 301.9l-7.2-4.1-5.8-3-44.8-21.8M476.1 301.6l-7.2-4.2-5.8-3-44.8-21.8M477.5 301.3l-7.2-4.2-7.2-3.8-43.4-21.1M479 301l-8.7-5.1-7.3-3.8-41.9-20.3M480.4 300.6l-10.2-5.9-8.6-4.5-39.1-18.8M481.8 300.3l-10.1-5.9-8.7-4.7-39.1-18.7M483.2 300l-10.1-6-8.7-4.7-39.1-18.7M484.6 299.7l-11.6-6.9-7.2-4-33.3-15.8-5.8-2.9M486 299.4l-11.6-7-7.2-4-31.8-15.1-7.2-3.6M487.4 299.1l-13-7.9-5.8-3.2-30.4-14.4-8.6-4.4M488.8 298.9l-14.4-8.8-4.4-2.5-30.3-14.5-8.7-4.4M490.3 298.7l-14.5-8.9-4.3-2.5-30.4-14.6-8.7-4.5M491.7 298.5l-15.9-9.8-2.9-1.7-30.4-14.8-8.7-4.6M493.1 298.3l-17.4-10.7-31.8-15.8-8.7-4.8M494.5 298.2l-18.8-11.5-30.4-15.4-8.7-4.8M495.9 298l-18.8-11.4-30.4-15.8-8.7-4.9M497.3 298l-8.7-5.1-10.1-6.3-31.8-17.1-7.2-4.1M498.7 297.9l-8.6-5-11.6-7.1-37.6-20.9M500.1 297.9l-8.6-4.9-13.1-8-18.8-10.9-17.3-9.7M501.6 298l-8.7-4.8-10.1-6.4-21.7-13-17.4-9.9M503 298.1l-8.7-4.8-33.3-20.7-15.9-9.2M504.4 298.3l-5.8-3.1-4.3-2.5-33.3-21.4-7.2-4.3-7.3-4.1M505.8 298.5l-7.2-3.8-2.9-1.8-33.3-21.9-7.2-4.5-7.3-4.1M507.2 298.9l-7.2-4-2.9-1.8-13-8.6-20.3-13.9-7.2-4.5-7.3-4.3M508.6 299.2l-7.2-4-2.9-1.8-13-8.8-20.3-14.3-7.2-4.7-7.2-4.2M510 299.5l-7.2-4.1-2.9-1.8-13-9-20.3-14.6-7.2-4.7-7.2-4.4M397 387l1.4-.6 4.3-3.9 2.8-4.4 2.8-6.4 1.4-3.6 2.9-8.9 2.8-11 1.4-3.5 1.4-2.9 2.8-8.8 1.5-3.3 4.2-8 1.4-2.1 1.4-1.6 1.4-1.3 1.4-1 2.9-1.6 4.2-1.4 1.4-1 2.8-2.2 1.5-.5 2.8-.6 12.7-3.5 8.5-1.9 5.6-1.1 12.7-2.8 7.1-.9 4.2-.3 4.3.2 7 1.4M395.6 385.6l1.4-.7 1.4-1 1.4-1.4 1.4-1.5 2.9-4.5 2.8-6.5 1.4-3.6 2.8-9 2.8-11 1.5-3.3 1.4-2.9 2.8-8.6 1.4-3.3 4.2-7.8 1.5-2 1.4-1.5 1.4-1.2 2.8-1.9 1.4-.7 4.3-1.6 4.2-2.8 1.4-.5 15.5-4.2 8.5-1.9 18.4-3.9 7-1 4.3-.2 2.8 0 2.8.4 5.7 1.1M394.1 384l1.5-.7 2.8-2.3 1.4-1.9 2.8-4.6 2.8-6.4 1.5-3.7 2.8-8.9 2.8-10.9 2.8-6.1 2.9-8.4 1.4-3.2 4.2-7.5 1.4-1.8 2.8-2.6 1.5-1.1 2.8-1.5 4.2-1.9 4.3-2.3 2.8-1.1 15.5-4.1 22.6-5.1 7.1-1.2 4.2-.4 2.8-.1 4.3.3 7 1.3M392.7 382.2l1.4-.8 1.4-1.1 1.4-1.4 2.9-3.8 1.4-2.8 2.8-6.3 2.8-8 2.8-9.8 1.5-5.6 2.8-5.8 2.8-8.2 1.4-3 4.3-7.3 1.4-1.6 2.8-2.5 1.4-1 2.8-1.6 8.5-4 4.2-1.6 12.8-3.4 24-5.5 7-1.3 5.7-.4 2.8.1 2.8.3 7.1 1.2M391.2 380.1l1.5-.8 1.4-1.2 2.8-3.2 2.8-5.1 2.8-6.2 2.9-8 2.8-9.6 1.4-5.5 1.4-2.3 1.4-3.2 2.9-7.8 1.4-3 4.2-6.9 1.4-1.5 2.8-2.3 2.9-1.8 2.8-1.5 7.1-3.3 4.2-1.5 11.3-3.1 25.4-6.1 7.1-1.3 5.6-.3 5.7.4 7 1.2M389.8 377.8l1.4-.9 1.4-1.2 1.4-1.5 1.4-2 2.9-5 1.4-2.8 2.8-7.1 2.8-8.7 2.9-9.9 1.4-2.1 4.2-10.9 1.4-2.9 2.8-4.6 1.5-1.9 2.8-2.5 2.8-2 4.3-2.4 5.6-2.6 5.6-2.1 9.9-2.8 26.9-6.6 7-1.2 5.7-.4 5.6.5 7.1 1.2M388.4 375.3l1.4-.9 1.4-1.3 1.4-1.7 1.4-2 2.8-4.8 1.4-3 2.9-7 5.6-17.4 1.4-2.2 2.9-7.5 1.4-3.3 1.4-2.7 2.8-4.5 1.4-1.7 2.8-2.3 4.3-2.7 4.2-2.2 5.7-2.5 4.2-1.5 8.5-2.5 29.6-7.4 5.7-1 5.6-.3 5.7.4 7.1 1.2M386.9 372.6l1.4-1 1.4-1.4 1.4-1.6 2.9-4.2 1.4-2.7 2.8-6.2 1.4-3.7 2.8-8.4 1.5-4.6 1.4-3.1 1.4-2.4 2.8-7.5 1.4-3.1 1.4-2.5 2.9-4.3 1.4-1.5 2.8-2.2 4.2-2.6 4.3-2.2 5.6-2.4 4.3-1.6 7-2.1 31.1-8 5.6-1 2.9-.3 2.8 0 4.2.3 8.5 1.3M385.5 369.8l1.4-1.1 1.4-1.3 1.4-1.7 1.4-2 1.4-2.3 2.8-5.6 1.5-3.2 2.8-7.6 2.8-8.8 1.4-2.1 1.4-2.9 2.9-7.2 1.4-2.7 1.4-2.4 2.8-4.1 1.4-1.3 1.4-1.1 4.3-2.7 4.2-2.3 4.2-1.9 5.7-2.2 7.1-2.2 16.9-4.4 15.5-4.3 5.7-1 2.8-.3 2.8 0 4.3.3 8.5 1.2M384 367l1.4-1.1 1.4-1.4 1.5-1.7 1.4-2.1 2.8-4.9 1.4-2.9 2.8-7 4.3-11.4 1.4-2.1 4.2-10 1.4-2.6 4.3-6 2.8-2.2 4.2-2.6 4.3-2.2 4.2-2 5.7-2.1 7-2.3 17-4.4 15.5-4.4 5.7-1.1 4.2-.3 5.6.3 8.5 1.1M382.6 364.1l1.4-1.2 2.8-3.2 2.8-4.3 1.4-2.6 4.3-9.8 2.8-7.6 2.8-4.9 2.9-6.7 2.8-5.5 2.8-3.9 1.4-1.6 2.8-2 4.3-2.5 4.2-2.2 4.3-1.9 5.6-2.2 7.1-2.2 15.5-4.1 18.4-5.3 4.2-.8 4.2-.4 5.7.3 8.5 1.1M381.1 361.2l1.4-1.2 1.4-1.5 1.5-1.8 2.8-4.3 4.2-9 4.3-10.3 1.4-1.9 4.2-9.4 1.4-2.6 1.4-2.2 2.9-3.8 1.4-1.3 1.4-1 4.2-2.5 5.7-3 4.2-1.9 5.7-2.1 7-2.2 18.4-5 15.5-4.6 4.3-.9 4.2-.4 5.6.3 8.5 1M379.7 358.3l1.4-1.3 2.8-3.3 2.8-4.9 2.9-5.3 1.4-3 2.8-6.7 2.8-4.6 4.3-9.1 1.4-2.4 4.2-5.6 2.8-2 4.3-2.5 5.6-2.8 4.3-1.9 5.6-2.2 7.1-2.2 18.3-5 15.6-4.7 4.2-1 4.2-.3 5.7.2 8.5.9M378.2 354.7l2.9-2.8 1.4-1.8 2.8-4.4 2.8-5.2 4.3-8.8 1.4-2 4.2-8.8 2.8-4.8 2.9-3.6 1.4-1.4 2.8-1.8 4.2-2.4 5.7-2.8 5.6-2.4 4.3-1.6 7-2.3 17-4.5 18.3-5.7 4.3-.8 4.2-.2 4.3.2 8.4.8M376.8 351.8l2.8-3 1.4-1.8 2.8-4.3 2.9-5.1 2.8-5.9 1.4-1.9 1.4-2.5 4.3-8.3 1.4-2.3 1.4-2 2.8-3.4 1.4-1.1 2.8-1.7 4.3-2.3 5.6-2.8 5.7-2.4 4.2-1.6 7.1-2.2 16.9-4.6 17-5.3 4.2-1 4.3-.4 5.6 0 8.5.8M375.3 348.8l2.9-3 2.8-3.9 2.8-4.6 2.8-5.4 2.9-4.3 4.2-8 2.8-4.5 2.8-3.5 1.5-1.4 4.2-2.6 9.9-4.9 5.6-2.4 4.3-1.6 7-2.2 17-4.6 16.9-5.3 5.7-1.2 4.2-.4 4.3.1 8.4.6M373.9 345.8l2.8-3 2.8-3.9 4.3-7.1 2.8-4.2 4.2-7.6 2.9-4.6 1.4-1.8 2.8-3.3 1.4-1.1 2.8-1.6 5.7-2.9 5.6-2.7 5.7-2.4 4.2-1.6 7.1-2.2 16.9-4.6 17-5.3 5.6-1.2 4.3-.5 4.2 0 8.5.4M372.4 342.9l2.9-3.1 2.8-3.8 5.6-8.6 5.7-9.6 2.8-4.1 2.8-3.2 1.5-1.3 4.2-2.5 11.3-5.4 5.6-2.4 4.3-1.6 7-2.2 17-4.6 16.9-5.3 5.7-1.3 4.2-.4 5.7-.1 7 .2M371 340l2.8-3.1 5.7-7.8 7-11.2 2.9-4 4.2-4.7 1.4-1 4.2-2.3 11.3-5.3 9.9-4 7.1-2.2 16.9-4.6 17-5.3 5.6-1.3 4.3-.5 5.6-.2 7.1.1M369.5 337.1l2.9-3.1 2.8-3.6 9.9-14.6 2.8-3.6 2.8-3 1.4-1.1 5.7-3.1 12.7-5.8 5.7-2.3 4.2-1.5 5.6-1.7 17-4.6 16.9-5.3 5.7-1.3 4.2-.6 5.7-.3 7-.1M368.1 334.2l4.2-4.9 9.9-13.7 2.8-3.5 2.9-3 1.4-1.2 2.8-1.6 4.3-2.1 12.7-5.7 9.9-3.8 5.6-1.7 17-4.6 16.9-5.3 5.7-1.3 4.2-.7 5.6-.4 7.1-.2M366.7 331.2l4.2-4.7 9.9-13 1.4-1.7 2.8-2.8 1.4-1.3 1.4-1 7.1-3.4 12.7-5.5 9.9-3.8 5.7-1.7 16.9-4.6 17-5.3 5.6-1.3 4.2-.8 5.7-.5 7.1-.4M365.2 328.3l4.2-4.7 8.5-10.5 1.4-1.6 4.3-4.1 2.8-1.7 5.6-2.7 14.2-6 9.9-3.7 5.6-1.7 17-4.7 16.9-5.1 5.7-1.5 4.2-.7 5.6-.7 7.1-.5M363.8 325.5l2.8-3 8.5-10 5.6-5.5 2.8-1.7 5.7-2.6 15.5-6.4 8.5-3.2 7.1-2.2 16.9-4.7 15.5-4.7 5.7-1.5 5.6-1.2 5.7-.9 7.1-.6M362.3 322.7l9.9-10.8 5.7-5.4 2.8-1.7 5.6-2.5 19.8-7.8 5.7-2.1 5.6-1.7 15.5-4.3 18.4-5.6 5.7-1.6 8.4-1.7 9.9-1.2M360.9 319.9l7-7.4 5.7-5.5 1.4-1.2 1.4-.8 5.7-2.6 22.6-8.7 9.8-3.3 17-4.7 24-7.2 8.5-1.9 4.2-.7 5.7-.7M359.4 317.2l5.7-5.7 5.6-5.4 2.8-1.8 5.7-2.5 25.4-9.3 8.5-2.8 15.5-4.3 26.9-8 8.4-1.9 8.5-1.3M358 314.6l7-7 2.9-2.4 2.8-1.7 4.2-1.9 14.1-4.8 15.6-5.5 7-2.3 15.6-4.3 26.8-8 8.5-2.1 8.5-1.5M356.5 311.6l5.7-5.3 2.8-2.2 2.8-1.6 4.3-1.7 15.5-4.8 15.5-5.4 7.1-2.3 15.5-4.3 28.3-8.4 8.5-2.1 7-1.4M355.1 308.7l4.2-3.7 2.8-2 2.9-1.5 4.2-1.7 15.5-4.3 22.6-7.4 17-4.8 28.2-8.4 8.5-2.3 7.1-1.5M353.6 306l2.9-2.3 2.8-1.9 2.8-1.5 4.2-1.6 12.8-3 5.6-1.5 22.6-7.2 17-4.9 32.4-9.6 5.7-1.5 4.2-1M352.2 303.6l4.2-3.1 2.8-1.5 2.9-1.1 4.2-1.1 11.3-2.2 7.1-1.7 19.7-6.2 36.8-10.7 16.9-5.2 7.1-1.8M350.7 301.2l2.9-2.1 1.4-.8 1.4-.7 2.8-1.1 4.3-1 12.7-1.9 8.4-1.9 18.4-5.7 38.1-11.1 17-5.4 5.6-1.4M349.3 298.8l2.8-1.9 1.4-.8 2.9-1.1 4.2-.9 9.9-.9 4.2-.6 4.3-.8 4.2-1 16.9-5.1 39.6-11.5 16.9-5.5 5.7-1.6M347.8 296.4l1.5-.9 2.8-1.5 1.4-.5 2.8-.6 2.8-.4 9.9-.4 4.3-.5 5.6-.9 5.7-1.4 53.6-15.7 5.7-1.8 11.3-4 5.6-1.6M346.4 294.1l2.8-1.5 1.4-.6 2.9-.7 4.2-.4 8.5.1 5.6-.3 5.7-.9 5.6-1.3 24-6.9 28.3-8.3 5.6-1.8 12.8-4.5 5.6-1.7M345 292l2.8-1.4 1.4-.4 2.8-.6 4.3-.2 8.4.5 4.3-.1 5.6-.6 7.1-1.5 22.6-6.3 29.6-8.8 5.7-1.9 12.7-4.6 5.7-1.7M343.5 290.1l2.8-1.2 1.4-.4 2.9-.5 4.2 0 8.5.8 4.2.1 5.7-.6 5.6-1.1 7.1-1.7 15.5-4.3 29.7-8.9 5.6-1.8 14.2-5.2 5.6-1.8M342.1 288.5l2.8-1.2 1.4-.3 2.8-.4 4.3.1 8.4 1.1 4.3.1 5.6-.4 7.1-1.4 7-1.7 14.2-3.9 29.6-8.9 4.3-1.4 14.1-5.2 7.1-2.4M340.6 287.3l2.8-1.2 1.5-.4 1.4-.2 2.8-.2 2.8.2 9.9 1.4 5.7-.1 5.6-.7 8.5-1.8 16.9-4.4 15.6-4.8 14.1-4.2 4.2-1.4 9.9-3.8 11.3-3.9M339.2 286.2l2.8-1.2 1.4-.4 1.4-.3 2.8-.1 2.9.2 9.9 1.6 5.6-.1 5.7-.7 9.8-2 15.6-4 31.1-9.5 11.3-4.3 12.7-4.5"/>
<g fill="none"><path d="M411.5 394.3L524.5 362.2" stroke="#555" stroke-width="0.9"/>
<path d="M411.5 394.3L324.7 352.5" stroke="#555" stroke-width="0.9"/>
<path d="M324.7 352.5L324.7 261.3" stroke="#9a9a9a" stroke-width="1.2"/>
<path d="M411.5 394.3L413.3 395.2" stroke="#555" stroke-width="0.8"/>
<path d="M468 378.2L469.8 379.1" stroke="#555" stroke-width="0.8"/>
<path d="M524.5 362.2L526.3 363.1" stroke="#555" stroke-width="0.8"/>
<path d="M411.5 394.3L409.6 394.8" stroke="#555" stroke-width="0.8"/>
<path d="M382.6 380.4L380.6 380.9" stroke="#555" stroke-width="0.8"/>
<path d="M353.6 366.4L351.7 367" stroke="#555" stroke-width="0.8"/>
<path d="M324.7 352.5L322.8 353" stroke="#555" stroke-width="0.8"/>
<path d="M324.7 335.2L322.9 334.3" stroke="#555" stroke-width="0.8"/>
<path d="M324.7 298.3L322.9 297.4" stroke="#555" stroke-width="0.8"/>
<path d="M324.7 261.3L322.9 260.4" stroke="#555" stroke-width="0.8"/></g>
<g fill="#3a3a3a" stroke="#3a3a3a" stroke-width="0.28"><text x="319.4" y="336.4" font-size="9" text-anchor="end">0.1</text>
<text x="319.4" y="299.5" font-size="9" text-anchor="end">0.15</text>
<text x="319.4" y="262.5" font-size="9" text-anchor="end">0.2</text>
<text x="416.9" y="406.2" font-size="9" text-anchor="start">0.4</text>
<text x="473.4" y="390.2" font-size="9" text-anchor="start">0.5</text>
<text x="529.9" y="374.1" font-size="9" text-anchor="start">0.6</text>
<text x="405.6" y="405.2" font-size="9" text-anchor="end">92</text>
<text x="376.7" y="391.3" font-size="9" text-anchor="end">94</text>
<text x="347.7" y="377.3" font-size="9" text-anchor="end">96</text>
<text x="318.8" y="363.4" font-size="9" text-anchor="end">98</text>
<text x="486.3" y="410.3" font-size="10" text-anchor="middle">ND (mm)</text>
<text x="349.8" y="408.2" font-size="10" text-anchor="middle">EM (%)</text>
<text transform="translate(293 326.4) rotate(-90)" font-size="10">DimErr<tspan font-size="6.8" dy="4">ext</tspan></text>
<text class="cap" stroke="none" x="416.2" y="431.1" font-size="13.5" text-anchor="middle">(<tspan font-weight="bold">d</tspan>)</text></g>
</g>
</svg>
</body></html>
